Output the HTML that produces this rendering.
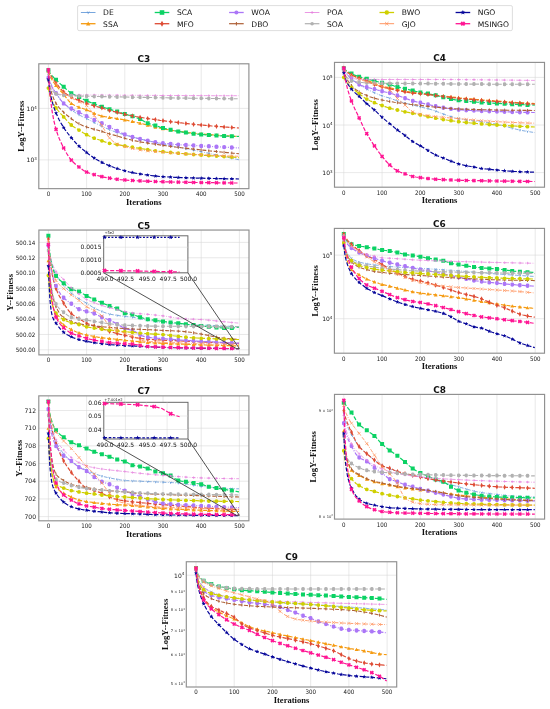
<!DOCTYPE html>
<html lang="en"><head><meta charset="utf-8"><title>Convergence curves C3-C9</title>
<style>html,body{margin:0;padding:0;background:#fff}body{width:550px;height:709px;overflow:hidden}svg{display:block}</style>
</head><body>
<svg width="550" height="709" viewBox="0 0 550 709" font-family='"DejaVu Sans", "Liberation Sans", sans-serif'>
<rect width="550" height="709" fill="#fff"/>
<rect x="77.6" y="5.6" width="434.8" height="25" rx="1.5" fill="#fff" stroke="#d0d0d0" stroke-width="0.7"/>
<path d="M80.9 12.5H95.5" stroke="#5b93d6" stroke-width="0.83" fill="none"/>
<path d="M88.2 12.5v1.6M86.9 11.7l1.3 0.8l1.3 -0.8" stroke="#5b93d6" stroke-width="0.71" fill="none"/>
<text x="103.1" y="15.3" font-size="7.6" fill="#111">DE</text>
<path d="M80.9 23.7H95.5" stroke="#f59b12" stroke-width="1.32" fill="none"/>
<path d="M88.2 21.5l2.2 3.9h-4.4z" fill="#f59b12"/>
<text x="103.1" y="26.5" font-size="7.6" fill="#111">SSA</text>
<path d="M154.7 12.5H169.3" stroke="#0bd264" stroke-width="1.32" fill="none"/>
<path d="M159.7 10.2h4.6v4.6h-4.6z" fill="#0bd264"/>
<text x="176.9" y="15.3" font-size="7.6" fill="#111">SCA</text>
<path d="M154.7 23.7H169.3" stroke="#de4b34" stroke-width="1.32" fill="none"/>
<path d="M162 20.7l1.7 3l-1.7 3l-1.7 -3z" fill="#de4b34"/>
<text x="176.9" y="26.5" font-size="7.6" fill="#111">MFO</text>
<path d="M229.1 12.5H243.7" stroke="#ab76f7" stroke-width="1.32" fill="none"/>
<path d="M234.4 12.5a2 2 0 1 0 4 0a2 2 0 1 0 -4 0z" fill="#ab76f7"/>
<text x="251.3" y="15.3" font-size="7.6" fill="#111">WOA</text>
<path d="M229.1 23.7H243.7" stroke="#ad5f35" stroke-width="1.21" fill="none"/>
<path d="M236.4 22v3.4" stroke="#ad5f35" stroke-width="1.03" fill="none"/>
<text x="251.3" y="26.5" font-size="7.6" fill="#111">DBO</text>
<path d="M304.8 12.5H319.4" stroke="#e682de" stroke-width="0.83" fill="none"/>
<path d="M310.6 12.5h3m-1.5 -1.5v3" stroke="#e682de" stroke-width="0.75" fill="none"/>
<text x="327" y="15.3" font-size="7.6" fill="#111">POA</text>
<path d="M304.8 23.7H319.4" stroke="#b1b1b1" stroke-width="1.21" fill="none"/>
<path d="M310.3 23.7a1.8 1.8 0 1 0 3.6 0a1.8 1.8 0 1 0 -3.6 0z" fill="#b1b1b1"/>
<text x="327" y="26.5" font-size="7.6" fill="#111">SOA</text>
<path d="M379.5 12.5H394.1" stroke="#cfcf00" stroke-width="1.32" fill="none"/>
<path d="M384.6 12.5a2.2 2.2 0 1 0 4.4 0a2.2 2.2 0 1 0 -4.4 0z" fill="#cfcf00"/>
<text x="401.7" y="15.3" font-size="7.6" fill="#111">BWO</text>
<path d="M379.5 23.7H394.1" stroke="#ff8f57" stroke-width="0.94" fill="none"/>
<path d="M385.1 22l3.4 3.4m0 -3.4l-3.4 3.4" stroke="#ff8f57" stroke-width="0.76" fill="none"/>
<text x="401.7" y="26.5" font-size="7.6" fill="#111">GJO</text>
<path d="M455.6 12.5H470.2" stroke="#06069a" stroke-width="1.32" fill="none"/>
<path d="M462.9 10L463.6 11.6L465.3 11.7L464 12.8L464.4 14.5L462.9 13.6L461.4 14.5L461.8 12.8L460.5 11.7L462.2 11.6z" fill="#06069a"/>
<text x="477.8" y="15.3" font-size="7.6" fill="#111">NGO</text>
<path d="M455.6 23.7H470.2" stroke="#ff1493" stroke-width="1.32" fill="none"/>
<path d="M460.5 22.7L461.9 21.3L462.9 22.4L463.9 21.3L465.3 22.7L464.2 23.7L465.3 24.7L463.9 26.1L462.9 25L461.9 26.1L460.5 24.7L461.6 23.7z" fill="#ff1493"/>
<text x="477.8" y="26.5" font-size="7.6" fill="#111">MSINGO</text>
<g>
<clipPath id="clipC3"><rect x="38.8" y="63.8" width="210.1" height="124.85"/></clipPath>
<rect x="38.8" y="63.8" width="210.1" height="124.85" fill="#fff"/>
<path d="M48.4 63.8V188.65M86.6 63.8V188.65M124.8 63.8V188.65M163 63.8V188.65M201.2 63.8V188.65M239.4 63.8V188.65M38.8 108.4H248.9M38.8 159.9H248.9" stroke="#d6d6d6" stroke-width="0.55" fill="none"/>
<g clip-path="url(#clipC3)">
<path d="M48.4 75.4L49.2 78.8L49.9 81.2L50.7 83.2L51.5 85L52.2 86.6L53 88.1L53.7 89.5L54.5 90.8L55.3 92L56 93.2L57.6 95.5L59.1 97.7L60.6 99.8L62.2 101.7L63.7 103.4L65.2 104.9L66.7 106.2L68.3 107.5L69.8 108.8L71.3 109.9L72.8 111L74.4 112L75.9 113L77.4 113.9L79 114.8L80.5 115.6L82 116.4L83.5 117.2L85.1 117.9L86.6 118.6L89.7 120.2L92.7 121.8L95.8 123.3L98.8 124.8L101.9 126.3L104.9 127.7L108 129L111 130.3L114.1 131.5L117.2 132.6L120.2 133.6L123.3 134.5L126.3 135.4L129.4 136.2L132.4 137L135.5 137.8L138.6 138.5L141.6 139.3L144.7 140L147.7 140.7L150.8 141.4L153.8 142.1L156.9 142.8L159.9 143.4L163 144.1L166.1 144.7L169.1 145.4L172.2 146L175.2 146.6L178.3 147.2L181.3 147.8L184.4 148.4L187.4 149L190.5 149.6L193.6 150.2L196.6 150.8L199.7 151.4L202.7 152L205.8 152.7L208.8 153.3L211.9 154L215 154.6L218 155.2L221.1 155.9L224.1 156.6L227.2 157.2L230.2 157.9L233.3 158.5L236.3 159.2L239 159.8" stroke="#5b93d6" stroke-width="0.75" stroke-dasharray="3.8 1.4 0.8 1.4" fill="none"/>
<path d="M48.4 75.4v1.4M47.3 74.7l1.1 0.7l1.1 -0.7M56 93.2v1.4M54.9 92.5l1.1 0.7l1.1 -0.7M63.7 103.4v1.4M62.6 102.7l1.1 0.7l1.1 -0.7M71.3 109.9v1.4M70.2 109.2l1.1 0.7l1.1 -0.7M79 114.8v1.4M77.8 114.1l1.1 0.7l1.1 -0.7M86.6 118.6v1.4M85.5 117.9l1.1 0.7l1.1 -0.7M94.2 122.6v1.4M93.1 121.9l1.1 0.7l1.1 -0.7M101.9 126.3v1.4M100.8 125.6l1.1 0.7l1.1 -0.7M109.5 129.7v1.4M108.4 129l1.1 0.7l1.1 -0.7M117.2 132.6v1.4M116 131.9l1.1 0.7l1.1 -0.7M124.8 134.9v1.4M123.7 134.2l1.1 0.7l1.1 -0.7M132.4 137v1.4M131.3 136.3l1.1 0.7l1.1 -0.7M140.1 138.9v1.4M139 138.2l1.1 0.7l1.1 -0.7M147.7 140.7v1.4M146.6 140l1.1 0.7l1.1 -0.7M155.4 142.4v1.4M154.2 141.7l1.1 0.7l1.1 -0.7M163 144.1v1.4M161.9 143.4l1.1 0.7l1.1 -0.7M170.6 145.7v1.4M169.5 145l1.1 0.7l1.1 -0.7M178.3 147.2v1.4M177.2 146.5l1.1 0.7l1.1 -0.7M185.9 148.7v1.4M184.8 148l1.1 0.7l1.1 -0.7M193.6 150.2v1.4M192.4 149.5l1.1 0.7l1.1 -0.7M201.2 151.7v1.4M200.1 151l1.1 0.7l1.1 -0.7M208.8 153.3v1.4M207.7 152.6l1.1 0.7l1.1 -0.7M216.5 154.9v1.4M215.4 154.2l1.1 0.7l1.1 -0.7M224.1 156.6v1.4M223 155.9l1.1 0.7l1.1 -0.7M231.8 158.2v1.4M230.6 157.5l1.1 0.7l1.1 -0.7" stroke="#5b93d6" stroke-width="0.62" fill="none"/>
<path d="M48.4 71.5L49.2 74L49.9 75.9L50.7 77.5L51.5 78.9L52.2 80.1L53 81.3L53.7 82.5L54.5 83.5L55.3 84.6L56 85.5L57.6 87.4L59.1 89.2L60.6 91L62.2 92.7L63.7 94.5L65.2 96.3L66.7 98.4L68.3 100.3L69.8 102L71.3 103.4L72.8 104.3L74.4 105.2L75.9 105.9L77.4 106.6L79 107.2L80.5 107.7L82 108.2L83.5 108.7L85.1 109.2L86.6 109.7L89.7 111.2L92.7 112.9L95.8 114.1L98.8 115.2L101.9 116.1L104.9 116.7L108 117.1L111 117.6L114.1 118.1L117.2 118.6L120.2 119.1L123.3 119.6L126.3 120.2L129.4 120.8L132.4 121.5L135.5 122.2L138.6 122.9L141.6 123.6L144.7 124.3L147.7 125.2L150.8 126L153.8 126.8L156.9 127.5L159.9 128.2L163 128.8L166.1 129.4L169.1 129.9L172.2 130.4L175.2 130.8L178.3 131.3L181.3 131.7L184.4 132.1L187.4 132.5L190.5 132.8L193.6 133.2L196.6 133.5L199.7 133.8L202.7 134L205.8 134.3L208.8 134.6L211.9 134.8L215 135L218 135.3L221.1 135.5L224.1 135.7L227.2 135.8L230.2 136L233.3 136.2L236.3 136.3L239 136.4" stroke="#f59b12" stroke-width="1.2" stroke-dasharray="4 1.7" fill="none"/>
<path d="M48.4 69.6l1.9 3.4h-3.8zM56 83.6l1.9 3.4h-3.8zM63.7 92.6l1.9 3.4h-3.8zM71.3 101.5l1.9 3.4h-3.8zM79 105.3l1.9 3.4h-3.8zM86.6 107.8l1.9 3.4h-3.8zM94.2 111.6l1.9 3.4h-3.8zM101.9 114.2l1.9 3.4h-3.8zM109.5 115.5l1.9 3.4h-3.8zM117.2 116.7l1.9 3.4h-3.8zM124.8 118l1.9 3.4h-3.8zM132.4 119.6l1.9 3.4h-3.8zM140.1 121.3l1.9 3.4h-3.8zM147.7 123.3l1.9 3.4h-3.8zM155.4 125.3l1.9 3.4h-3.8zM163 126.9l1.9 3.4h-3.8zM170.6 128.2l1.9 3.4h-3.8zM178.3 129.4l1.9 3.4h-3.8zM185.9 130.4l1.9 3.4h-3.8zM193.6 131.3l1.9 3.4h-3.8zM201.2 132l1.9 3.4h-3.8zM208.8 132.7l1.9 3.4h-3.8zM216.5 133.3l1.9 3.4h-3.8zM224.1 133.8l1.9 3.4h-3.8zM231.8 134.2l1.9 3.4h-3.8z" fill="#f59b12"/>
<path d="M48.4 70.3L49.2 71.7L49.9 72.9L50.7 73.9L51.5 74.9L52.2 75.8L53 76.7L53.7 77.5L54.5 78.2L55.3 79L56 79.7L57.6 81.1L59.1 82.6L60.6 84.1L62.2 85.5L63.7 86.8L65.2 88.2L66.7 89.6L68.3 90.9L69.8 92.1L71.3 93.2L72.8 94.1L74.4 94.8L75.9 95.6L77.4 96.3L79 97L80.5 97.8L82 98.6L83.5 99.4L85.1 100.1L86.6 100.8L89.7 102.1L92.7 103.3L95.8 104.5L98.8 105.6L101.9 106.7L104.9 107.7L108 108.7L111 109.7L114.1 110.6L117.2 111.5L120.2 112.5L123.3 113.6L126.3 114.5L129.4 115.4L132.4 116.3L135.5 117.4L138.6 118.5L141.6 119.9L144.7 121.7L147.7 123.2L150.8 124.2L153.8 125.1L156.9 126L159.9 127.1L163 128.1L166.1 128.8L169.1 129.5L172.2 130.2L175.2 130.8L178.3 131.4L181.3 131.9L184.4 132.4L187.4 132.9L190.5 133.3L193.6 133.7L196.6 134L199.7 134.3L202.7 134.5L205.8 134.8L208.8 135L211.9 135.2L215 135.5L218 135.7L221.1 135.8L224.1 136L227.2 136.1L230.2 136.3L233.3 136.3L236.3 136.4L239 136.5" stroke="#0bd264" stroke-width="1.2" stroke-dasharray="4 1.7" fill="none"/>
<path d="M46.4 68.3h4v4h-4zM54 77.7h4v4h-4zM61.7 84.8h4v4h-4zM69.3 91.2h4v4h-4zM77 95h4v4h-4zM84.6 98.8h4v4h-4zM92.2 101.9h4v4h-4zM99.9 104.7h4v4h-4zM107.5 107.2h4v4h-4zM115.2 109.5h4v4h-4zM122.8 112.1h4v4h-4zM130.4 114.3h4v4h-4zM138.1 117.1h4v4h-4zM145.7 121.2h4v4h-4zM153.4 123.5h4v4h-4zM161 126.1h4v4h-4zM168.6 127.8h4v4h-4zM176.3 129.4h4v4h-4zM183.9 130.6h4v4h-4zM191.6 131.7h4v4h-4zM199.2 132.4h4v4h-4zM206.8 133h4v4h-4zM214.5 133.6h4v4h-4zM222.1 134h4v4h-4zM229.8 134.3h4v4h-4z" fill="#0bd264"/>
<path d="M48.4 70.3L49.2 72.4L49.9 74L50.7 75.4L51.5 76.7L52.2 77.9L53 79L53.7 80.1L54.5 81.1L55.3 82.1L56 83L57.6 84.9L59.1 86.9L60.6 88.8L62.2 90.5L63.7 91.9L65.2 93.1L66.7 94.2L68.3 95.2L69.8 96.2L71.3 97L72.8 97.8L74.4 98.4L75.9 99.1L77.4 99.7L79 100.3L80.5 100.9L82 101.6L83.5 102.2L85.1 102.8L86.6 103.4L89.7 104.4L92.7 105.4L95.8 106.3L98.8 107.1L101.9 107.9L104.9 109L108 110L111 110.9L114.1 111.6L117.2 112.3L120.2 113.1L123.3 113.9L126.3 114.6L129.4 115.3L132.4 115.9L135.5 116.5L138.6 117L141.6 117.5L144.7 118L147.7 118.5L150.8 119L153.8 119.4L156.9 119.8L159.9 120.3L163 120.7L166.1 121.1L169.1 121.5L172.2 121.9L175.2 122.2L178.3 122.6L181.3 122.9L184.4 123.3L187.4 123.6L190.5 123.9L193.6 124.3L196.6 124.6L199.7 124.9L202.7 125.1L205.8 125.4L208.8 125.7L211.9 126L215 126.2L218 126.5L221.1 126.7L224.1 127L227.2 127.2L230.2 127.4L233.3 127.6L236.3 127.8L239 128" stroke="#de4b34" stroke-width="1.2" stroke-dasharray="4 1.7" fill="none"/>
<path d="M48.4 67.7l1.4 2.6l-1.4 2.6l-1.4 -2.6zM56 80.4l1.4 2.6l-1.4 2.6l-1.4 -2.6zM63.7 89.3l1.4 2.6l-1.4 2.6l-1.4 -2.6zM71.3 94.4l1.4 2.6l-1.4 2.6l-1.4 -2.6zM79 97.7l1.4 2.6l-1.4 2.6l-1.4 -2.6zM86.6 100.8l1.4 2.6l-1.4 2.6l-1.4 -2.6zM94.2 103.3l1.4 2.6l-1.4 2.6l-1.4 -2.6zM101.9 105.3l1.4 2.6l-1.4 2.6l-1.4 -2.6zM109.5 107.9l1.4 2.6l-1.4 2.6l-1.4 -2.6zM117.2 109.7l1.4 2.6l-1.4 2.6l-1.4 -2.6zM124.8 111.7l1.4 2.6l-1.4 2.6l-1.4 -2.6zM132.4 113.3l1.4 2.6l-1.4 2.6l-1.4 -2.6zM140.1 114.7l1.4 2.6l-1.4 2.6l-1.4 -2.6zM147.7 115.9l1.4 2.6l-1.4 2.6l-1.4 -2.6zM155.4 117l1.4 2.6l-1.4 2.6l-1.4 -2.6zM163 118.1l1.4 2.6l-1.4 2.6l-1.4 -2.6zM170.6 119.1l1.4 2.6l-1.4 2.6l-1.4 -2.6zM178.3 120l1.4 2.6l-1.4 2.6l-1.4 -2.6zM185.9 120.9l1.4 2.6l-1.4 2.6l-1.4 -2.6zM193.6 121.7l1.4 2.6l-1.4 2.6l-1.4 -2.6zM201.2 122.4l1.4 2.6l-1.4 2.6l-1.4 -2.6zM208.8 123.1l1.4 2.6l-1.4 2.6l-1.4 -2.6zM216.5 123.7l1.4 2.6l-1.4 2.6l-1.4 -2.6zM224.1 124.4l1.4 2.6l-1.4 2.6l-1.4 -2.6zM231.8 124.9l1.4 2.6l-1.4 2.6l-1.4 -2.6z" fill="#de4b34"/>
<path d="M48.4 77.9L49.2 80.5L49.9 82.5L50.7 84.2L51.5 85.8L52.2 87.2L53 88.5L53.7 89.8L54.5 91L55.3 92.1L56 93.2L57.6 95.4L59.1 97.7L60.6 99.9L62.2 101.8L63.7 103.4L65.2 104.6L66.7 105.7L68.3 106.7L69.8 107.6L71.3 108.5L72.8 109.3L74.4 110.1L75.9 110.8L77.4 111.5L79 112.3L80.5 113L82 113.8L83.5 114.6L85.1 115.3L86.6 116.1L89.7 117.6L92.7 119.2L95.8 120.6L98.8 121.9L101.9 123.2L104.9 124.7L108 126.3L111 127.8L114.1 129.3L117.2 130.9L120.2 132.4L123.3 133.8L126.3 135L129.4 136L132.4 137L135.5 137.8L138.6 138.6L141.6 139.4L144.7 140.1L147.7 140.8L150.8 141.4L153.8 142L156.9 142.5L159.9 143L163 143.3L166.1 143.6L169.1 143.9L172.2 144.1L175.2 144.4L178.3 144.6L181.3 144.8L184.4 144.9L187.4 145.1L190.5 145.3L193.6 145.4L196.6 145.6L199.7 145.8L202.7 146L205.8 146.1L208.8 146.3L211.9 146.5L215 146.7L218 146.8L221.1 147L224.1 147.1L227.2 147.3L230.2 147.5L233.3 147.6L236.3 147.8L239 147.9" stroke="#ab76f7" stroke-width="1.2" stroke-dasharray="4 1.5 0.9 1.5" fill="none"/>
<path d="M46.6 77.9a1.8 1.8 0 1 0 3.5 0a1.8 1.8 0 1 0 -3.5 0zM54.3 93.2a1.8 1.8 0 1 0 3.5 0a1.8 1.8 0 1 0 -3.5 0zM61.9 103.4a1.8 1.8 0 1 0 3.5 0a1.8 1.8 0 1 0 -3.5 0zM69.6 108.5a1.8 1.8 0 1 0 3.5 0a1.8 1.8 0 1 0 -3.5 0zM77.2 112.3a1.8 1.8 0 1 0 3.5 0a1.8 1.8 0 1 0 -3.5 0zM84.8 116.1a1.8 1.8 0 1 0 3.5 0a1.8 1.8 0 1 0 -3.5 0zM92.5 119.9a1.8 1.8 0 1 0 3.5 0a1.8 1.8 0 1 0 -3.5 0zM100.1 123.2a1.8 1.8 0 1 0 3.5 0a1.8 1.8 0 1 0 -3.5 0zM107.8 127a1.8 1.8 0 1 0 3.5 0a1.8 1.8 0 1 0 -3.5 0zM115.4 130.9a1.8 1.8 0 1 0 3.5 0a1.8 1.8 0 1 0 -3.5 0zM123.1 134.4a1.8 1.8 0 1 0 3.5 0a1.8 1.8 0 1 0 -3.5 0zM130.7 137a1.8 1.8 0 1 0 3.5 0a1.8 1.8 0 1 0 -3.5 0zM138.3 139a1.8 1.8 0 1 0 3.5 0a1.8 1.8 0 1 0 -3.5 0zM146 140.8a1.8 1.8 0 1 0 3.5 0a1.8 1.8 0 1 0 -3.5 0zM153.6 142.3a1.8 1.8 0 1 0 3.5 0a1.8 1.8 0 1 0 -3.5 0zM161.2 143.3a1.8 1.8 0 1 0 3.5 0a1.8 1.8 0 1 0 -3.5 0zM168.9 144a1.8 1.8 0 1 0 3.5 0a1.8 1.8 0 1 0 -3.5 0zM176.5 144.6a1.8 1.8 0 1 0 3.5 0a1.8 1.8 0 1 0 -3.5 0zM184.2 145a1.8 1.8 0 1 0 3.5 0a1.8 1.8 0 1 0 -3.5 0zM191.8 145.4a1.8 1.8 0 1 0 3.5 0a1.8 1.8 0 1 0 -3.5 0zM199.5 145.9a1.8 1.8 0 1 0 3.5 0a1.8 1.8 0 1 0 -3.5 0zM207.1 146.3a1.8 1.8 0 1 0 3.5 0a1.8 1.8 0 1 0 -3.5 0zM214.7 146.7a1.8 1.8 0 1 0 3.5 0a1.8 1.8 0 1 0 -3.5 0zM222.4 147.1a1.8 1.8 0 1 0 3.5 0a1.8 1.8 0 1 0 -3.5 0zM230 147.5a1.8 1.8 0 1 0 3.5 0a1.8 1.8 0 1 0 -3.5 0z" fill="#ab76f7"/>
<path d="M48.4 74.1L49.2 81.3L49.9 86L50.7 89.5L51.5 92.4L52.2 94.8L53 96.9L53.7 98.8L54.5 100.5L55.3 102L56 103.4L57.6 105.7L59.1 107.6L60.6 109.3L62.2 110.8L63.7 112.3L65.2 113.7L66.7 115L68.3 116.3L69.8 117.5L71.3 118.6L72.8 119.8L74.4 120.9L75.9 121.9L77.4 122.9L79 123.7L80.5 124.5L82 125.2L83.5 125.9L85.1 126.5L86.6 127L89.7 128L92.7 128.9L95.8 129.7L98.8 130.5L101.9 131.4L104.9 132.4L108 133.4L111 134.3L114.1 135.1L117.2 135.9L120.2 136.9L123.3 137.8L126.3 138.7L129.4 139.5L132.4 140.3L135.5 140.9L138.6 141.5L141.6 142.1L144.7 142.6L147.7 143.1L150.8 143.6L153.8 144L156.9 144.5L159.9 144.9L163 145.4L166.1 145.8L169.1 146.2L172.2 146.6L175.2 147L178.3 147.3L181.3 147.7L184.4 148.1L187.4 148.4L190.5 148.8L193.6 149.1L196.6 149.4L199.7 149.8L202.7 150.1L205.8 150.4L208.8 150.8L211.9 151.1L215 151.4L218 151.7L221.1 152L224.1 152.3L227.2 152.6L230.2 152.9L233.3 153.2L236.3 153.5L239 153.7" stroke="#ad5f35" stroke-width="1.1" stroke-dasharray="4 1.7" fill="none"/>
<path d="M48.4 72.6v3M56 101.9v3M63.7 110.8v3M71.3 117.1v3M79 122.2v3M86.6 125.5v3M94.2 127.8v3M101.9 129.9v3M109.5 132.4v3M117.2 134.4v3M124.8 136.7v3M132.4 138.8v3M140.1 140.3v3M147.7 141.6v3M155.4 142.8v3M163 143.9v3M170.6 144.9v3M178.3 145.8v3M185.9 146.7v3M193.6 147.6v3M201.2 148.4v3M208.8 149.3v3M216.5 150v3M224.1 150.8v3M231.8 151.5v3" stroke="#ad5f35" stroke-width="0.9" fill="none"/>
<path d="M48.4 72.8L49.2 78.5L49.9 81.9L50.7 84.5L51.5 86.5L52.2 88.1L53 89.5L53.7 90.8L54.5 91.9L55.3 92.7L56 93.2L57.6 93.7L59.1 94.1L60.6 94.4L62.2 94.6L63.7 94.7L65.2 94.7L66.7 94.8L68.3 94.8L69.8 94.8L71.3 94.8L72.8 94.9L74.4 94.9L75.9 94.9L77.4 94.9L79 94.9L80.5 94.9L82 94.9L83.5 94.9L85.1 95L86.6 95L89.7 95L92.7 95L95.8 95L98.8 95.1L101.9 95.1L104.9 95.1L108 95.1L111 95.2L114.1 95.2L117.2 95.2L120.2 95.2L123.3 95.3L126.3 95.3L129.4 95.3L132.4 95.3L135.5 95.3L138.6 95.3L141.6 95.4L144.7 95.4L147.7 95.4L150.8 95.4L153.8 95.4L156.9 95.4L159.9 95.5L163 95.5L166.1 95.5L169.1 95.5L172.2 95.5L175.2 95.5L178.3 95.5L181.3 95.5L184.4 95.6L187.4 95.6L190.5 95.6L193.6 95.6L196.6 95.6L199.7 95.6L202.7 95.6L205.8 95.6L208.8 95.6L211.9 95.7L215 95.7L218 95.7L221.1 95.7L224.1 95.7L227.2 95.7L230.2 95.7L233.3 95.7L236.3 95.7L239 95.7" stroke="#e682de" stroke-width="0.75" stroke-dasharray="3.8 1.4 0.8 1.4" fill="none"/>
<path d="M47.1 72.8h2.6m-1.3 -1.3v2.6M54.7 93.2h2.6m-1.3 -1.3v2.6M62.4 94.7h2.6m-1.3 -1.3v2.6M70 94.8h2.6m-1.3 -1.3v2.6M77.7 94.9h2.6m-1.3 -1.3v2.6M85.3 95h2.6m-1.3 -1.3v2.6M92.9 95h2.6m-1.3 -1.3v2.6M100.6 95.1h2.6m-1.3 -1.3v2.6M108.2 95.2h2.6m-1.3 -1.3v2.6M115.9 95.2h2.6m-1.3 -1.3v2.6M123.5 95.3h2.6m-1.3 -1.3v2.6M131.1 95.3h2.6m-1.3 -1.3v2.6M138.8 95.4h2.6m-1.3 -1.3v2.6M146.4 95.4h2.6m-1.3 -1.3v2.6M154.1 95.4h2.6m-1.3 -1.3v2.6M161.7 95.5h2.6m-1.3 -1.3v2.6M169.3 95.5h2.6m-1.3 -1.3v2.6M177 95.5h2.6m-1.3 -1.3v2.6M184.6 95.6h2.6m-1.3 -1.3v2.6M192.3 95.6h2.6m-1.3 -1.3v2.6M199.9 95.6h2.6m-1.3 -1.3v2.6M207.5 95.6h2.6m-1.3 -1.3v2.6M215.2 95.7h2.6m-1.3 -1.3v2.6M222.8 95.7h2.6m-1.3 -1.3v2.6M230.5 95.7h2.6m-1.3 -1.3v2.6" stroke="#e682de" stroke-width="0.65" fill="none"/>
<path d="M48.4 80.5L49.2 84.3L49.9 86.7L50.7 88.3L51.5 89.6L52.2 90.6L53 91.5L53.7 92.2L54.5 92.9L55.3 93.3L56 93.7L57.6 94.2L59.1 94.6L60.6 94.8L62.2 95.1L63.7 95.2L65.2 95.3L66.7 95.5L68.3 95.6L69.8 95.6L71.3 95.7L72.8 95.8L74.4 95.8L75.9 95.9L77.4 96L79 96L80.5 96.1L82 96.1L83.5 96.1L85.1 96.2L86.6 96.2L89.7 96.3L92.7 96.4L95.8 96.5L98.8 96.5L101.9 96.6L104.9 96.6L108 96.7L111 96.7L114.1 96.8L117.2 96.9L120.2 96.9L123.3 97L126.3 97L129.4 97.1L132.4 97.2L135.5 97.2L138.6 97.3L141.6 97.3L144.7 97.4L147.7 97.5L150.8 97.5L153.8 97.6L156.9 97.7L159.9 97.7L163 97.8L166.1 97.8L169.1 97.9L172.2 97.9L175.2 98L178.3 98L181.3 98.1L184.4 98.1L187.4 98.1L190.5 98.2L193.6 98.2L196.6 98.3L199.7 98.3L202.7 98.4L205.8 98.4L208.8 98.4L211.9 98.5L215 98.5L218 98.5L221.1 98.6L224.1 98.6L227.2 98.6L230.2 98.7L233.3 98.7L236.3 98.7L239 98.8" stroke="#b1b1b1" stroke-width="1.1" stroke-dasharray="4 1.7" fill="none"/>
<path d="M46.9 80.5a1.6 1.6 0 1 0 3.1 0a1.6 1.6 0 1 0 -3.1 0zM54.5 93.7a1.6 1.6 0 1 0 3.1 0a1.6 1.6 0 1 0 -3.1 0zM62.1 95.2a1.6 1.6 0 1 0 3.1 0a1.6 1.6 0 1 0 -3.1 0zM69.8 95.7a1.6 1.6 0 1 0 3.1 0a1.6 1.6 0 1 0 -3.1 0zM77.4 96a1.6 1.6 0 1 0 3.1 0a1.6 1.6 0 1 0 -3.1 0zM85 96.2a1.6 1.6 0 1 0 3.1 0a1.6 1.6 0 1 0 -3.1 0zM92.7 96.4a1.6 1.6 0 1 0 3.1 0a1.6 1.6 0 1 0 -3.1 0zM100.3 96.6a1.6 1.6 0 1 0 3.1 0a1.6 1.6 0 1 0 -3.1 0zM108 96.7a1.6 1.6 0 1 0 3.1 0a1.6 1.6 0 1 0 -3.1 0zM115.6 96.9a1.6 1.6 0 1 0 3.1 0a1.6 1.6 0 1 0 -3.1 0zM123.3 97a1.6 1.6 0 1 0 3.1 0a1.6 1.6 0 1 0 -3.1 0zM130.9 97.2a1.6 1.6 0 1 0 3.1 0a1.6 1.6 0 1 0 -3.1 0zM138.5 97.3a1.6 1.6 0 1 0 3.1 0a1.6 1.6 0 1 0 -3.1 0zM146.2 97.5a1.6 1.6 0 1 0 3.1 0a1.6 1.6 0 1 0 -3.1 0zM153.8 97.6a1.6 1.6 0 1 0 3.1 0a1.6 1.6 0 1 0 -3.1 0zM161.4 97.8a1.6 1.6 0 1 0 3.1 0a1.6 1.6 0 1 0 -3.1 0zM169.1 97.9a1.6 1.6 0 1 0 3.1 0a1.6 1.6 0 1 0 -3.1 0zM176.7 98a1.6 1.6 0 1 0 3.1 0a1.6 1.6 0 1 0 -3.1 0zM184.4 98.1a1.6 1.6 0 1 0 3.1 0a1.6 1.6 0 1 0 -3.1 0zM192 98.2a1.6 1.6 0 1 0 3.1 0a1.6 1.6 0 1 0 -3.1 0zM199.7 98.3a1.6 1.6 0 1 0 3.1 0a1.6 1.6 0 1 0 -3.1 0zM207.3 98.4a1.6 1.6 0 1 0 3.1 0a1.6 1.6 0 1 0 -3.1 0zM214.9 98.5a1.6 1.6 0 1 0 3.1 0a1.6 1.6 0 1 0 -3.1 0zM222.6 98.6a1.6 1.6 0 1 0 3.1 0a1.6 1.6 0 1 0 -3.1 0zM230.2 98.7a1.6 1.6 0 1 0 3.1 0a1.6 1.6 0 1 0 -3.1 0z" fill="#b1b1b1"/>
<path d="M48.4 88.1L49.2 92.4L49.9 95.3L50.7 97.6L51.5 99.5L52.2 101.3L53 102.8L53.7 104.2L54.5 105.6L55.3 106.8L56 107.9L57.6 110L59.1 111.9L60.6 113.6L62.2 115.2L63.7 116.9L65.2 118.6L66.7 120.3L68.3 122.1L69.8 123.6L71.3 125L72.8 126.2L74.4 127.2L75.9 128.2L77.4 129.1L79 130.1L80.5 131.1L82 132L83.5 132.9L85.1 133.8L86.6 134.7L89.7 136.2L92.7 137.6L95.8 138.8L98.8 139.8L101.9 140.8L104.9 141.9L108 142.9L111 143.6L114.1 144.1L117.2 144.6L120.2 145.1L123.3 145.6L126.3 146.1L129.4 146.6L132.4 147.2L135.5 147.7L138.6 148.2L141.6 148.7L144.7 149.2L147.7 149.7L150.8 150.1L153.8 150.6L156.9 151L159.9 151.4L163 151.7L166.1 152.1L169.1 152.4L172.2 152.7L175.2 152.9L178.3 153.2L181.3 153.5L184.4 153.7L187.4 154L190.5 154.2L193.6 154.5L196.6 154.7L199.7 154.9L202.7 155.2L205.8 155.4L208.8 155.6L211.9 155.8L215 156L218 156.2L221.1 156.4L224.1 156.6L227.2 156.8L230.2 157L233.3 157.2L236.3 157.4L239 157.6" stroke="#cfcf00" stroke-width="1.2" stroke-dasharray="4 1.7" fill="none"/>
<path d="M46.5 88.1a1.9 1.9 0 1 0 3.8 0a1.9 1.9 0 1 0 -3.8 0zM54.1 107.9a1.9 1.9 0 1 0 3.8 0a1.9 1.9 0 1 0 -3.8 0zM61.8 116.9a1.9 1.9 0 1 0 3.8 0a1.9 1.9 0 1 0 -3.8 0zM69.4 125a1.9 1.9 0 1 0 3.8 0a1.9 1.9 0 1 0 -3.8 0zM77.1 130.1a1.9 1.9 0 1 0 3.8 0a1.9 1.9 0 1 0 -3.8 0zM84.7 134.7a1.9 1.9 0 1 0 3.8 0a1.9 1.9 0 1 0 -3.8 0zM92.3 138.2a1.9 1.9 0 1 0 3.8 0a1.9 1.9 0 1 0 -3.8 0zM100 140.8a1.9 1.9 0 1 0 3.8 0a1.9 1.9 0 1 0 -3.8 0zM107.6 143.3a1.9 1.9 0 1 0 3.8 0a1.9 1.9 0 1 0 -3.8 0zM115.3 144.6a1.9 1.9 0 1 0 3.8 0a1.9 1.9 0 1 0 -3.8 0zM122.9 145.9a1.9 1.9 0 1 0 3.8 0a1.9 1.9 0 1 0 -3.8 0zM130.5 147.2a1.9 1.9 0 1 0 3.8 0a1.9 1.9 0 1 0 -3.8 0zM138.2 148.5a1.9 1.9 0 1 0 3.8 0a1.9 1.9 0 1 0 -3.8 0zM145.8 149.7a1.9 1.9 0 1 0 3.8 0a1.9 1.9 0 1 0 -3.8 0zM153.5 150.8a1.9 1.9 0 1 0 3.8 0a1.9 1.9 0 1 0 -3.8 0zM161.1 151.7a1.9 1.9 0 1 0 3.8 0a1.9 1.9 0 1 0 -3.8 0zM168.7 152.5a1.9 1.9 0 1 0 3.8 0a1.9 1.9 0 1 0 -3.8 0zM176.4 153.2a1.9 1.9 0 1 0 3.8 0a1.9 1.9 0 1 0 -3.8 0zM184 153.9a1.9 1.9 0 1 0 3.8 0a1.9 1.9 0 1 0 -3.8 0zM191.7 154.5a1.9 1.9 0 1 0 3.8 0a1.9 1.9 0 1 0 -3.8 0zM199.3 155a1.9 1.9 0 1 0 3.8 0a1.9 1.9 0 1 0 -3.8 0zM206.9 155.6a1.9 1.9 0 1 0 3.8 0a1.9 1.9 0 1 0 -3.8 0zM214.6 156.1a1.9 1.9 0 1 0 3.8 0a1.9 1.9 0 1 0 -3.8 0zM222.2 156.6a1.9 1.9 0 1 0 3.8 0a1.9 1.9 0 1 0 -3.8 0zM229.9 157.1a1.9 1.9 0 1 0 3.8 0a1.9 1.9 0 1 0 -3.8 0z" fill="#cfcf00"/>
<path d="M48.4 70.3L49.2 72.5L49.9 74.2L50.7 75.7L51.5 77L52.2 78.2L53 79.4L53.7 80.5L54.5 81.5L55.3 82.5L56 83.5L57.6 85.5L59.1 87.5L60.6 89.5L62.2 91.2L63.7 92.7L65.2 93.9L66.7 95L68.3 95.9L69.8 96.9L71.3 97.8L72.8 98.6L74.4 99.5L75.9 100.3L77.4 101.1L79 101.8L80.5 102.5L82 103.1L83.5 103.7L85.1 104.5L86.6 105.4L89.7 108.8L92.7 113.4L95.8 117.5L98.8 121.4L101.9 125.5L104.9 130.7L108 136L111 139.6L114.1 142.2L117.2 144.1L120.2 145.3L123.3 146.2L126.3 147L129.4 147.8L132.4 148.5L135.5 149.2L138.6 149.7L141.6 150.2L144.7 150.5L147.7 150.9L150.8 151.2L153.8 151.5L156.9 151.7L159.9 152L163 152.2L166.1 152.5L169.1 152.7L172.2 153L175.2 153.2L178.3 153.4L181.3 153.6L184.4 153.8L187.4 154L190.5 154.2L193.6 154.4L196.6 154.5L199.7 154.7L202.7 154.9L205.8 155L208.8 155.1L211.9 155.3L215 155.4L218 155.6L221.1 155.7L224.1 155.8L227.2 155.9L230.2 156L233.3 156.1L236.3 156.2L239 156.3" stroke="#ff8f57" stroke-width="0.85" stroke-dasharray="3.8 1.4 0.8 1.4" fill="none"/>
<path d="M46.9 68.8l3 3m0 -3l-3 3M54.5 82l3 3m0 -3l-3 3M62.2 91.2l3 3m0 -3l-3 3M69.8 96.3l3 3m0 -3l-3 3M77.5 100.3l3 3m0 -3l-3 3M85.1 103.9l3 3m0 -3l-3 3M92.7 114.1l3 3m0 -3l-3 3M100.4 124l3 3m0 -3l-3 3M108 136.5l3 3m0 -3l-3 3M115.7 142.6l3 3m0 -3l-3 3M123.3 145.1l3 3m0 -3l-3 3M130.9 147l3 3m0 -3l-3 3M138.6 148.4l3 3m0 -3l-3 3M146.2 149.4l3 3m0 -3l-3 3M153.9 150.1l3 3m0 -3l-3 3M161.5 150.7l3 3m0 -3l-3 3M169.1 151.3l3 3m0 -3l-3 3M176.8 151.9l3 3m0 -3l-3 3M184.4 152.4l3 3m0 -3l-3 3M192.1 152.9l3 3m0 -3l-3 3M199.7 153.3l3 3m0 -3l-3 3M207.3 153.6l3 3m0 -3l-3 3M215 154l3 3m0 -3l-3 3M222.6 154.3l3 3m0 -3l-3 3M230.3 154.6l3 3m0 -3l-3 3" stroke="#ff8f57" stroke-width="0.66" fill="none"/>
<path d="M48.4 79.2L49.2 86.7L49.9 91.6L50.7 95.6L51.5 98.9L52.2 101.8L53 104.4L53.7 106.8L54.5 109.1L55.3 111.1L56 113L57.6 116.5L59.1 119.7L60.6 122.5L62.2 125.1L63.7 127.5L65.2 129.8L66.7 131.9L68.3 134L69.8 135.9L71.3 137.7L72.8 139.5L74.4 141.3L75.9 143L77.4 144.6L79 146.1L80.5 147.5L82 148.8L83.5 150.1L85.1 151.3L86.6 152.5L89.7 154.9L92.7 157.1L95.8 159L98.8 160.8L101.9 162.4L104.9 163.8L108 165.1L111 166.3L114.1 167.5L117.2 168.5L120.2 169.5L123.3 170.4L126.3 171.2L129.4 172L132.4 172.6L135.5 173.2L138.6 173.7L141.6 174.2L144.7 174.7L147.7 175.1L150.8 175.5L153.8 175.9L156.9 176.2L159.9 176.5L163 176.7L166.1 176.9L169.1 177L172.2 177.2L175.2 177.3L178.3 177.5L181.3 177.6L184.4 177.7L187.4 177.8L190.5 177.9L193.6 178L196.6 178.1L199.7 178.2L202.7 178.2L205.8 178.3L208.8 178.4L211.9 178.5L215 178.5L218 178.6L221.1 178.7L224.1 178.7L227.2 178.8L230.2 178.8L233.3 178.9L236.3 178.9L239 179" stroke="#06069a" stroke-width="1.2" stroke-dasharray="4 1.7" fill="none"/>
<path d="M48.4 77L49 78.4L50.4 78.5L49.3 79.5L49.7 80.9L48.4 80.1L47.1 80.9L47.5 79.5L46.4 78.5L47.8 78.4zM56 110.9L56.6 112.3L58.1 112.4L57 113.3L57.3 114.8L56 114L54.8 114.8L55.1 113.3L54 112.4L55.5 112.3zM63.7 125.4L64.2 126.8L65.7 126.9L64.6 127.8L64.9 129.3L63.7 128.5L62.4 129.3L62.8 127.8L61.6 126.9L63.1 126.8zM71.3 135.6L71.9 136.9L73.4 137.1L72.2 138L72.6 139.5L71.3 138.7L70.1 139.5L70.4 138L69.3 137.1L70.8 136.9zM79 144L79.5 145.3L81 145.5L79.9 146.4L80.2 147.9L79 147.1L77.7 147.9L78 146.4L76.9 145.5L78.4 145.3zM86.6 150.3L87.2 151.7L88.6 151.8L87.5 152.8L87.9 154.2L86.6 153.5L85.3 154.2L85.7 152.8L84.6 151.8L86 151.7zM94.2 155.9L94.8 157.3L96.3 157.4L95.2 158.4L95.5 159.8L94.2 159.1L93 159.8L93.3 158.4L92.2 157.4L93.7 157.3zM101.9 160.3L102.4 161.6L103.9 161.8L102.8 162.7L103.1 164.2L101.9 163.4L100.6 164.2L101 162.7L99.8 161.8L101.3 161.6zM109.5 163.6L110.1 164.9L111.6 165.1L110.4 166L110.8 167.5L109.5 166.7L108.3 167.5L108.6 166L107.5 165.1L109 164.9zM117.2 166.4L117.7 167.7L119.2 167.9L118.1 168.8L118.4 170.3L117.2 169.5L115.9 170.3L116.2 168.8L115.1 167.9L116.6 167.7zM124.8 168.7L125.4 170L126.8 170.2L125.7 171.1L126.1 172.6L124.8 171.8L123.5 172.6L123.9 171.1L122.8 170.2L124.2 170zM132.4 170.5L133 171.8L134.5 171.9L133.4 172.9L133.7 174.3L132.4 173.6L131.2 174.3L131.5 172.9L130.4 171.9L131.9 171.8zM140.1 171.8L140.6 173.2L142.1 173.3L141 174.2L141.3 175.7L140.1 174.9L138.8 175.7L139.2 174.2L138 173.3L139.5 173.2zM147.7 173L148.3 174.3L149.8 174.4L148.6 175.4L149 176.8L147.7 176.1L146.5 176.8L146.8 175.4L145.7 174.4L147.2 174.3zM155.4 173.9L155.9 175.2L157.4 175.4L156.3 176.3L156.6 177.8L155.4 177L154.1 177.8L154.4 176.3L153.3 175.4L154.8 175.2zM163 174.5L163.6 175.9L165 176L163.9 177L164.3 178.4L163 177.6L161.7 178.4L162.1 177L161 176L162.4 175.9zM170.6 175L171.2 176.3L172.7 176.4L171.6 177.4L171.9 178.9L170.6 178.1L169.4 178.9L169.7 177.4L168.6 176.4L170.1 176.3zM178.3 175.3L178.8 176.7L180.3 176.8L179.2 177.8L179.5 179.2L178.3 178.4L177 179.2L177.4 177.8L176.2 176.8L177.7 176.7zM185.9 175.6L186.5 177L188 177.1L186.8 178L187.2 179.5L185.9 178.7L184.7 179.5L185 178L183.9 177.1L185.4 177zM193.6 175.8L194.1 177.2L195.6 177.3L194.5 178.3L194.8 179.7L193.6 179L192.3 179.7L192.6 178.3L191.5 177.3L193 177.2zM201.2 176L201.8 177.4L203.2 177.5L202.1 178.5L202.5 179.9L201.2 179.2L199.9 179.9L200.3 178.5L199.2 177.5L200.6 177.4zM208.8 176.2L209.4 177.6L210.9 177.7L209.8 178.7L210.1 180.1L208.8 179.4L207.6 180.1L207.9 178.7L206.8 177.7L208.3 177.6zM216.5 176.4L217 177.8L218.5 177.9L217.4 178.9L217.7 180.3L216.5 179.5L215.2 180.3L215.6 178.9L214.4 177.9L215.9 177.8zM224.1 176.6L224.7 177.9L226.2 178.1L225 179L225.4 180.5L224.1 179.7L222.9 180.5L223.2 179L222.1 178.1L223.6 177.9zM231.8 176.7L232.3 178.1L233.8 178.2L232.7 179.2L233 180.6L231.8 179.8L230.5 180.6L230.8 179.2L229.7 178.2L231.2 178.1z" fill="#06069a"/>
<path d="M48.4 69.8L49.2 84.4L49.9 93.8L50.7 100.9L51.5 106.8L52.2 111.8L53 116.1L53.7 120L54.5 123.4L55.3 126.5L56 129.3L57.6 134.2L59.1 138.2L60.6 141.7L62.2 144.9L63.7 147.9L65.2 150.8L66.7 153.5L68.3 156L69.8 158.2L71.3 160.1L72.8 161.8L74.4 163.2L75.9 164.6L77.4 165.8L79 167L80.5 168.2L82 169.3L83.5 170.4L85.1 171.3L86.6 172.1L89.7 173.3L92.7 174.2L95.8 175.1L98.8 175.9L101.9 176.7L104.9 177.3L108 177.9L111 178.4L114.1 178.9L117.2 179.2L120.2 179.6L123.3 179.9L126.3 180.1L129.4 180.3L132.4 180.5L135.5 180.7L138.6 180.8L141.6 181L144.7 181.1L147.7 181.2L150.8 181.4L153.8 181.5L156.9 181.6L159.9 181.7L163 181.8L166.1 181.8L169.1 181.9L172.2 182L175.2 182.1L178.3 182.1L181.3 182.2L184.4 182.2L187.4 182.3L190.5 182.4L193.6 182.4L196.6 182.5L199.7 182.5L202.7 182.6L205.8 182.6L208.8 182.6L211.9 182.7L215 182.7L218 182.8L221.1 182.8L224.1 182.9L227.2 182.9L230.2 182.9L233.3 183L236.3 183L239 183" stroke="#ff1493" stroke-width="1.2" stroke-dasharray="4 1.7" fill="none"/>
<path d="M46.4 68.9L47.5 67.7L48.4 68.6L49.3 67.7L50.4 68.9L49.5 69.8L50.4 70.7L49.3 71.8L48.4 70.9L47.5 71.8L46.4 70.7L47.3 69.8zM54 128.4L55.1 127.3L56 128.2L56.9 127.3L58.1 128.4L57.2 129.3L58.1 130.2L56.9 131.4L56 130.5L55.1 131.4L54 130.2L54.9 129.3zM61.6 147L62.8 145.9L63.7 146.8L64.6 145.9L65.7 147L64.8 147.9L65.7 148.8L64.6 150L63.7 149.1L62.8 150L61.6 148.8L62.5 147.9zM69.3 159.2L70.4 158.1L71.3 159L72.2 158.1L73.4 159.2L72.5 160.1L73.4 161L72.2 162.2L71.3 161.3L70.4 162.2L69.3 161L70.2 160.1zM76.9 166.1L78.1 164.9L79 165.9L79.9 164.9L81 166.1L80.1 167L81 167.9L79.9 169.1L79 168.1L78.1 169.1L76.9 167.9L77.8 167zM84.5 171.2L85.7 170L86.6 170.9L87.5 170L88.6 171.2L87.7 172.1L88.6 173L87.5 174.1L86.6 173.2L85.7 174.1L84.5 173L85.5 172.1zM92.2 173.7L93.3 172.6L94.2 173.5L95.1 172.6L96.3 173.7L95.4 174.6L96.3 175.5L95.1 176.7L94.2 175.8L93.3 176.7L92.2 175.5L93.1 174.6zM99.8 175.8L101 174.6L101.9 175.5L102.8 174.6L103.9 175.8L103 176.7L103.9 177.6L102.8 178.7L101.9 177.8L101 178.7L99.8 177.6L100.7 176.7zM107.5 177.3L108.6 176.1L109.5 177.1L110.4 176.1L111.6 177.3L110.7 178.2L111.6 179.1L110.4 180.2L109.5 179.3L108.6 180.2L107.5 179.1L108.4 178.2zM115.1 178.3L116.3 177.2L117.2 178.1L118.1 177.2L119.2 178.3L118.3 179.2L119.2 180.1L118.1 181.3L117.2 180.4L116.3 181.3L115.1 180.1L116 179.2zM122.8 179.1L123.9 177.9L124.8 178.8L125.7 177.9L126.9 179.1L125.9 180L126.9 180.9L125.7 182L124.8 181.1L123.9 182L122.8 180.9L123.7 180zM130.4 179.6L131.5 178.4L132.4 179.3L133.3 178.4L134.5 179.6L133.6 180.5L134.5 181.4L133.3 182.5L132.4 181.6L131.5 182.5L130.4 181.4L131.3 180.5zM138 180L139.2 178.8L140.1 179.8L141 178.8L142.1 180L141.2 180.9L142.1 181.8L141 182.9L140.1 182L139.2 182.9L138 181.8L138.9 180.9zM145.7 180.3L146.8 179.2L147.7 180.1L148.6 179.2L149.8 180.3L148.9 181.2L149.8 182.1L148.6 183.3L147.7 182.4L146.8 183.3L145.7 182.1L146.6 181.2zM153.3 180.6L154.5 179.5L155.4 180.4L156.3 179.5L157.4 180.6L156.5 181.5L157.4 182.4L156.3 183.6L155.4 182.7L154.5 183.6L153.3 182.4L154.2 181.5zM160.9 180.9L162.1 179.7L163 180.6L163.9 179.7L165.1 180.9L164.1 181.8L165.1 182.7L163.9 183.8L163 182.9L162.1 183.8L160.9 182.7L161.9 181.8zM168.6 181.1L169.7 179.9L170.6 180.8L171.5 179.9L172.7 181.1L171.8 182L172.7 182.9L171.5 184L170.6 183.1L169.7 184L168.6 182.9L169.5 182zM176.2 181.2L177.4 180.1L178.3 181L179.2 180.1L180.3 181.2L179.4 182.1L180.3 183L179.2 184.2L178.3 183.3L177.4 184.2L176.2 183L177.1 182.1zM183.9 181.4L185 180.2L185.9 181.1L186.8 180.2L188 181.4L187.1 182.3L188 183.2L186.8 184.3L185.9 183.4L185 184.3L183.9 183.2L184.8 182.3zM191.5 181.5L192.7 180.4L193.6 181.3L194.5 180.4L195.6 181.5L194.7 182.4L195.6 183.3L194.5 184.5L193.6 183.6L192.7 184.5L191.5 183.3L192.4 182.4zM199.2 181.6L200.3 180.5L201.2 181.4L202.1 180.5L203.3 181.6L202.3 182.5L203.3 183.4L202.1 184.6L201.2 183.7L200.3 184.6L199.2 183.4L200.1 182.5zM206.8 181.7L207.9 180.6L208.8 181.5L209.7 180.6L210.9 181.7L210 182.6L210.9 183.5L209.7 184.7L208.8 183.8L207.9 184.7L206.8 183.5L207.7 182.6zM214.4 181.9L215.6 180.7L216.5 181.6L217.4 180.7L218.5 181.9L217.6 182.8L218.5 183.7L217.4 184.8L216.5 183.9L215.6 184.8L214.4 183.7L215.3 182.8zM222.1 182L223.2 180.8L224.1 181.7L225 180.8L226.2 182L225.3 182.9L226.2 183.8L225 184.9L224.1 184L223.2 184.9L222.1 183.8L223 182.9zM229.7 182L230.9 180.9L231.8 181.8L232.7 180.9L233.8 182L232.9 183L233.8 183.9L232.7 185L231.8 184.1L230.9 185L229.7 183.9L230.6 183z" fill="#ff1493"/>
</g>
<rect x="38.8" y="63.8" width="210.1" height="124.85" fill="none" stroke="#8f8f8f" stroke-width="1.15"/>
<text transform="translate(48.4 196.05) scale(.89 1)" font-size="6.2" text-anchor="middle" fill="#151515">0</text>
<text transform="translate(86.6 196.05) scale(.89 1)" font-size="6.2" text-anchor="middle" fill="#151515">100</text>
<text transform="translate(124.8 196.05) scale(.89 1)" font-size="6.2" text-anchor="middle" fill="#151515">200</text>
<text transform="translate(163 196.05) scale(.89 1)" font-size="6.2" text-anchor="middle" fill="#151515">300</text>
<text transform="translate(201.2 196.05) scale(.89 1)" font-size="6.2" text-anchor="middle" fill="#151515">400</text>
<text transform="translate(239.4 196.05) scale(.89 1)" font-size="6.2" text-anchor="middle" fill="#151515">500</text>
<text x="36.8" y="110.9" font-size="6" text-anchor="end" fill="#151515">10<tspan dy="-2.3" font-size="4">4</tspan></text>
<text x="36.8" y="162.4" font-size="6" text-anchor="end" fill="#151515">10<tspan dy="-2.3" font-size="4">3</tspan></text>
<text x="143.85" y="62.3" font-size="8.9" font-weight="bold" text-anchor="middle" fill="#111">C3</text>
<text transform="translate(143.85 204.55) scale(.93 1)" font-family='"Liberation Serif", "DejaVu Serif", serif' font-size="9.2" font-weight="bold" text-anchor="middle" fill="#111">Iterations</text>
<text transform="translate(23.7 126.22) rotate(-90)" font-family='"Liberation Serif", "DejaVu Serif", serif' font-size="8.6" font-weight="bold" text-anchor="middle" fill="#111">LogY--Fitness</text>
</g>
<g>
<clipPath id="clipC4"><rect x="334.5" y="62.4" width="210" height="124.8"/></clipPath>
<rect x="334.5" y="62.4" width="210" height="124.8" fill="#fff"/>
<path d="M343.8 62.4V187.2M382.08 62.4V187.2M420.36 62.4V187.2M458.64 62.4V187.2M496.92 62.4V187.2M535.2 62.4V187.2M334.5 77.4H544.5M334.5 125H544.5M334.5 172.6H544.5" stroke="#d6d6d6" stroke-width="0.55" fill="none"/>
<g clip-path="url(#clipC4)">
<path d="M343.8 69.1L344.6 71.1L345.3 72.4L346.1 73.6L346.9 74.6L347.6 75.5L348.4 76.3L349.2 77L349.9 77.8L350.7 78.4L351.5 79.1L353 80.3L354.5 81.4L356 82.5L357.6 83.6L359.1 84.5L360.6 85.5L362.2 86.5L363.7 87.4L365.2 88.3L366.8 89.1L368.3 89.9L369.8 90.6L371.4 91.4L372.9 92.1L374.4 92.7L376 93.4L377.5 94L379 94.7L380.5 95.3L382.1 95.8L385.1 96.8L388.2 97.7L391.3 98.7L394.3 99.8L397.4 100.9L400.5 101.8L403.5 102.7L406.6 103.5L409.6 104.3L412.7 105.1L415.8 105.8L418.8 106.5L421.9 107.3L425 108L428 108.7L431.1 109.6L434.1 110.6L437.2 111.7L440.3 112.9L443.3 114L446.4 115.1L449.5 116.1L452.5 117.1L455.6 117.9L458.6 118.6L461.7 119.2L464.8 119.7L467.8 120.2L470.9 120.6L474 121L477 121.4L480.1 121.8L483.1 122.1L486.2 122.5L489.3 123L492.3 123.4L495.4 124L498.5 124.5L501.5 125.3L504.6 126.1L507.6 126.9L510.7 127.8L513.8 128.6L516.8 129.4L519.9 130.1L523 130.7L526 131.2L529.1 131.7L532.1 132.2L534.8 132.6" stroke="#5b93d6" stroke-width="0.75" stroke-dasharray="3.8 1.4 0.8 1.4" fill="none"/>
<path d="M343.8 69.1v1.4M342.7 68.4l1.1 0.7l1.1 -0.7M351.5 79.1v1.4M350.3 78.4l1.1 0.7l1.1 -0.7M359.1 84.5v1.4M358 83.8l1.1 0.7l1.1 -0.7M366.8 89.1v1.4M365.6 88.4l1.1 0.7l1.1 -0.7M374.4 92.7v1.4M373.3 92l1.1 0.7l1.1 -0.7M382.1 95.8v1.4M381 95.1l1.1 0.7l1.1 -0.7M389.7 98.2v1.4M388.6 97.5l1.1 0.7l1.1 -0.7M397.4 100.9v1.4M396.3 100.2l1.1 0.7l1.1 -0.7M405 103.1v1.4M403.9 102.4l1.1 0.7l1.1 -0.7M412.7 105.1v1.4M411.6 104.4l1.1 0.7l1.1 -0.7M420.4 106.9v1.4M419.2 106.2l1.1 0.7l1.1 -0.7M428 108.7v1.4M426.9 108l1.1 0.7l1.1 -0.7M435.7 111.2v1.4M434.6 110.5l1.1 0.7l1.1 -0.7M443.3 114v1.4M442.2 113.3l1.1 0.7l1.1 -0.7M451 116.6v1.4M449.9 115.9l1.1 0.7l1.1 -0.7M458.6 118.6v1.4M457.5 117.9l1.1 0.7l1.1 -0.7M466.3 120v1.4M465.2 119.3l1.1 0.7l1.1 -0.7M474 121v1.4M472.8 120.3l1.1 0.7l1.1 -0.7M481.6 122v1.4M480.5 121.3l1.1 0.7l1.1 -0.7M489.3 123v1.4M488.1 122.3l1.1 0.7l1.1 -0.7M496.9 124.2v1.4M495.8 123.5l1.1 0.7l1.1 -0.7M504.6 126.1v1.4M503.5 125.4l1.1 0.7l1.1 -0.7M512.2 128.2v1.4M511.1 127.5l1.1 0.7l1.1 -0.7M519.9 130.1v1.4M518.8 129.4l1.1 0.7l1.1 -0.7M527.5 131.5v1.4M526.4 130.8l1.1 0.7l1.1 -0.7" stroke="#5b93d6" stroke-width="0.62" fill="none"/>
<path d="M343.8 68.2L344.6 69.5L345.3 70.4L346.1 71.1L346.9 71.8L347.6 72.3L348.4 72.8L349.2 73.3L349.9 73.7L350.7 74.2L351.5 74.5L353 75.3L354.5 75.9L356 76.5L357.6 77.1L359.1 77.6L360.6 78.1L362.2 78.6L363.7 79L365.2 79.5L366.8 80L368.3 80.6L369.8 81.3L371.4 82L372.9 82.6L374.4 83.3L376 83.9L377.5 84.5L379 85L380.5 85.5L382.1 86L385.1 86.8L388.2 87.5L391.3 88.2L394.3 88.9L397.4 89.6L400.5 90.3L403.5 90.8L406.6 91.4L409.6 91.9L412.7 92.4L415.8 92.7L418.8 93.1L421.9 93.5L425 93.8L428 94.2L431.1 94.6L434.1 94.9L437.2 95.3L440.3 95.7L443.3 96.1L446.4 96.4L449.5 96.8L452.5 97.1L455.6 97.4L458.6 97.8L461.7 98.1L464.8 98.4L467.8 98.7L470.9 98.9L474 99.2L477 99.5L480.1 99.7L483.1 100L486.2 100.2L489.3 100.5L492.3 100.7L495.4 101L498.5 101.2L501.5 101.4L504.6 101.6L507.6 101.8L510.7 102.1L513.8 102.3L516.8 102.5L519.9 102.7L523 102.9L526 103.1L529.1 103.3L532.1 103.4L534.8 103.6" stroke="#f59b12" stroke-width="1.2" stroke-dasharray="4 1.7" fill="none"/>
<path d="M343.8 66.3l1.9 3.4h-3.8zM351.5 72.6l1.9 3.4h-3.8zM359.1 75.7l1.9 3.4h-3.8zM366.8 78.1l1.9 3.4h-3.8zM374.4 81.4l1.9 3.4h-3.8zM382.1 84.1l1.9 3.4h-3.8zM389.7 85.9l1.9 3.4h-3.8zM397.4 87.7l1.9 3.4h-3.8zM405 89.2l1.9 3.4h-3.8zM412.7 90.5l1.9 3.4h-3.8zM420.4 91.4l1.9 3.4h-3.8zM428 92.3l1.9 3.4h-3.8zM435.7 93.2l1.9 3.4h-3.8zM443.3 94.2l1.9 3.4h-3.8zM451 95l1.9 3.4h-3.8zM458.6 95.9l1.9 3.4h-3.8zM466.3 96.6l1.9 3.4h-3.8zM474 97.3l1.9 3.4h-3.8zM481.6 98l1.9 3.4h-3.8zM489.3 98.6l1.9 3.4h-3.8zM496.9 99.2l1.9 3.4h-3.8zM504.6 99.7l1.9 3.4h-3.8zM512.2 100.3l1.9 3.4h-3.8zM519.9 100.8l1.9 3.4h-3.8zM527.5 101.3l1.9 3.4h-3.8z" fill="#f59b12"/>
<path d="M343.8 68.2L344.6 69.2L345.3 70L346.1 70.6L346.9 71.1L347.6 71.6L348.4 72.1L349.2 72.5L349.9 72.9L350.7 73.3L351.5 73.6L353 74.3L354.5 75L356 75.6L357.6 76.2L359.1 76.7L360.6 77.2L362.2 77.6L363.7 78L365.2 78.3L366.8 78.7L368.3 79.2L369.8 79.6L371.4 80.1L372.9 80.5L374.4 80.9L376 81.3L377.5 81.7L379 82L380.5 82.4L382.1 82.7L385.1 83.4L388.2 84.2L391.3 85L394.3 86L397.4 86.9L400.5 87.7L403.5 88.4L406.6 89.1L409.6 89.8L412.7 90.5L415.8 91.3L418.8 92L421.9 92.6L425 93.1L428 93.6L431.1 94.3L434.1 95L437.2 95.7L440.3 96.5L443.3 97.3L446.4 98L449.5 98.7L452.5 99.3L455.6 99.9L458.6 100.3L461.7 100.7L464.8 101L467.8 101.3L470.9 101.6L474 101.8L477 102.1L480.1 102.3L483.1 102.5L486.2 102.7L489.3 102.9L492.3 103.1L495.4 103.3L498.5 103.5L501.5 103.6L504.6 103.8L507.6 104L510.7 104.1L513.8 104.3L516.8 104.4L519.9 104.6L523 104.7L526 104.8L529.1 104.9L532.1 105L534.8 105.1" stroke="#0bd264" stroke-width="1.2" stroke-dasharray="4 1.7" fill="none"/>
<path d="M341.8 66.2h4v4h-4zM349.5 71.6h4v4h-4zM357.1 74.7h4v4h-4zM364.8 76.7h4v4h-4zM372.4 78.9h4v4h-4zM380.1 80.7h4v4h-4zM387.7 82.5h4v4h-4zM395.4 84.9h4v4h-4zM403 86.7h4v4h-4zM410.7 88.5h4v4h-4zM418.4 90.4h4v4h-4zM426 91.6h4v4h-4zM433.7 93.3h4v4h-4zM441.3 95.3h4v4h-4zM449 97h4v4h-4zM456.6 98.3h4v4h-4zM464.3 99.1h4v4h-4zM472 99.8h4v4h-4zM479.6 100.4h4v4h-4zM487.3 100.9h4v4h-4zM494.9 101.4h4v4h-4zM502.6 101.8h4v4h-4zM510.2 102.2h4v4h-4zM517.9 102.6h4v4h-4zM525.5 102.9h4v4h-4z" fill="#0bd264"/>
<path d="M343.8 68.2L344.6 69.6L345.3 70.5L346.1 71.3L346.9 72L347.6 72.6L348.4 73.1L349.2 73.6L349.9 74.1L350.7 74.5L351.5 74.9L353 75.7L354.5 76.3L356 77L357.6 77.6L359.1 78.2L360.6 78.7L362.2 79.3L363.7 79.8L365.2 80.3L366.8 80.9L368.3 81.6L369.8 82.4L371.4 83.2L372.9 83.9L374.4 84.5L376 85.1L377.5 85.6L379 86.1L380.5 86.5L382.1 86.9L385.1 87.7L388.2 88.4L391.3 89.1L394.3 89.9L397.4 90.5L400.5 91.1L403.5 91.6L406.6 92.1L409.6 92.7L412.7 93.1L415.8 93.3L418.8 93.5L421.9 93.8L425 94.2L428 94.5L431.1 94.9L434.1 95.3L437.2 95.7L440.3 96.1L443.3 96.5L446.4 96.9L449.5 97.2L452.5 97.6L455.6 97.9L458.6 98.3L461.7 98.6L464.8 98.9L467.8 99.2L470.9 99.4L474 99.7L477 100L480.1 100.2L483.1 100.5L486.2 100.8L489.3 101L492.3 101.2L495.4 101.5L498.5 101.7L501.5 101.9L504.6 102.1L507.6 102.4L510.7 102.6L513.8 102.8L516.8 103L519.9 103.2L523 103.4L526 103.6L529.1 103.8L532.1 103.9L534.8 104.1" stroke="#de4b34" stroke-width="1.2" stroke-dasharray="4 1.7" fill="none"/>
<path d="M343.8 65.6l1.4 2.6l-1.4 2.6l-1.4 -2.6zM351.5 72.3l1.4 2.6l-1.4 2.6l-1.4 -2.6zM359.1 75.6l1.4 2.6l-1.4 2.6l-1.4 -2.6zM366.8 78.3l1.4 2.6l-1.4 2.6l-1.4 -2.6zM374.4 81.9l1.4 2.6l-1.4 2.6l-1.4 -2.6zM382.1 84.3l1.4 2.6l-1.4 2.6l-1.4 -2.6zM389.7 86.1l1.4 2.6l-1.4 2.6l-1.4 -2.6zM397.4 87.9l1.4 2.6l-1.4 2.6l-1.4 -2.6zM405 89.2l1.4 2.6l-1.4 2.6l-1.4 -2.6zM412.7 90.5l1.4 2.6l-1.4 2.6l-1.4 -2.6zM420.4 91l1.4 2.6l-1.4 2.6l-1.4 -2.6zM428 91.9l1.4 2.6l-1.4 2.6l-1.4 -2.6zM435.7 92.9l1.4 2.6l-1.4 2.6l-1.4 -2.6zM443.3 93.9l1.4 2.6l-1.4 2.6l-1.4 -2.6zM451 94.8l1.4 2.6l-1.4 2.6l-1.4 -2.6zM458.6 95.7l1.4 2.6l-1.4 2.6l-1.4 -2.6zM466.3 96.4l1.4 2.6l-1.4 2.6l-1.4 -2.6zM474 97.1l1.4 2.6l-1.4 2.6l-1.4 -2.6zM481.6 97.8l1.4 2.6l-1.4 2.6l-1.4 -2.6zM489.3 98.4l1.4 2.6l-1.4 2.6l-1.4 -2.6zM496.9 99l1.4 2.6l-1.4 2.6l-1.4 -2.6zM504.6 99.5l1.4 2.6l-1.4 2.6l-1.4 -2.6zM512.2 100.1l1.4 2.6l-1.4 2.6l-1.4 -2.6zM519.9 100.6l1.4 2.6l-1.4 2.6l-1.4 -2.6zM527.5 101.1l1.4 2.6l-1.4 2.6l-1.4 -2.6z" fill="#de4b34"/>
<path d="M343.8 69.1L344.6 70.6L345.3 71.8L346.1 72.8L346.9 73.7L347.6 74.5L348.4 75.3L349.2 76.1L349.9 76.8L350.7 77.5L351.5 78.2L353 79.6L354.5 81.1L356 82.4L357.6 83.6L359.1 84.5L360.6 85.2L362.2 85.8L363.7 86.4L365.2 86.8L366.8 87.3L368.3 87.7L369.8 88L371.4 88.4L372.9 88.7L374.4 89.1L376 89.5L377.5 90L379 90.4L380.5 90.9L382.1 91.3L385.1 92L388.2 92.7L391.3 93.5L394.3 94.5L397.4 95.5L400.5 96.5L403.5 97.6L406.6 98.7L409.6 99.9L412.7 100.9L415.8 101.7L418.8 102.4L421.9 103.1L425 103.8L428 104.5L431.1 105.2L434.1 105.8L437.2 106.5L440.3 107.1L443.3 107.7L446.4 108.2L449.5 108.7L452.5 109.1L455.6 109.5L458.6 109.7L461.7 109.9L464.8 110.1L467.8 110.3L470.9 110.5L474 110.6L477 110.8L480.1 110.9L483.1 111L486.2 111.1L489.3 111.2L492.3 111.4L495.4 111.5L498.5 111.6L501.5 111.7L504.6 111.8L507.6 111.9L510.7 111.9L513.8 112L516.8 112.1L519.9 112.2L523 112.3L526 112.3L529.1 112.4L532.1 112.5L534.8 112.5" stroke="#ab76f7" stroke-width="1.2" stroke-dasharray="4 1.5 0.9 1.5" fill="none"/>
<path d="M342.1 69.1a1.8 1.8 0 1 0 3.5 0a1.8 1.8 0 1 0 -3.5 0zM349.7 78.2a1.8 1.8 0 1 0 3.5 0a1.8 1.8 0 1 0 -3.5 0zM357.4 84.5a1.8 1.8 0 1 0 3.5 0a1.8 1.8 0 1 0 -3.5 0zM365 87.3a1.8 1.8 0 1 0 3.5 0a1.8 1.8 0 1 0 -3.5 0zM372.7 89.1a1.8 1.8 0 1 0 3.5 0a1.8 1.8 0 1 0 -3.5 0zM380.3 91.3a1.8 1.8 0 1 0 3.5 0a1.8 1.8 0 1 0 -3.5 0zM388 93.1a1.8 1.8 0 1 0 3.5 0a1.8 1.8 0 1 0 -3.5 0zM395.6 95.5a1.8 1.8 0 1 0 3.5 0a1.8 1.8 0 1 0 -3.5 0zM403.3 98.2a1.8 1.8 0 1 0 3.5 0a1.8 1.8 0 1 0 -3.5 0zM411 100.9a1.8 1.8 0 1 0 3.5 0a1.8 1.8 0 1 0 -3.5 0zM418.6 102.7a1.8 1.8 0 1 0 3.5 0a1.8 1.8 0 1 0 -3.5 0zM426.3 104.5a1.8 1.8 0 1 0 3.5 0a1.8 1.8 0 1 0 -3.5 0zM433.9 106.2a1.8 1.8 0 1 0 3.5 0a1.8 1.8 0 1 0 -3.5 0zM441.6 107.7a1.8 1.8 0 1 0 3.5 0a1.8 1.8 0 1 0 -3.5 0zM449.2 108.9a1.8 1.8 0 1 0 3.5 0a1.8 1.8 0 1 0 -3.5 0zM456.9 109.7a1.8 1.8 0 1 0 3.5 0a1.8 1.8 0 1 0 -3.5 0zM464.5 110.2a1.8 1.8 0 1 0 3.5 0a1.8 1.8 0 1 0 -3.5 0zM472.2 110.6a1.8 1.8 0 1 0 3.5 0a1.8 1.8 0 1 0 -3.5 0zM479.9 111a1.8 1.8 0 1 0 3.5 0a1.8 1.8 0 1 0 -3.5 0zM487.5 111.2a1.8 1.8 0 1 0 3.5 0a1.8 1.8 0 1 0 -3.5 0zM495.2 111.5a1.8 1.8 0 1 0 3.5 0a1.8 1.8 0 1 0 -3.5 0zM502.8 111.8a1.8 1.8 0 1 0 3.5 0a1.8 1.8 0 1 0 -3.5 0zM510.5 112a1.8 1.8 0 1 0 3.5 0a1.8 1.8 0 1 0 -3.5 0zM518.1 112.2a1.8 1.8 0 1 0 3.5 0a1.8 1.8 0 1 0 -3.5 0zM525.8 112.4a1.8 1.8 0 1 0 3.5 0a1.8 1.8 0 1 0 -3.5 0z" fill="#ab76f7"/>
<path d="M343.8 69.1L344.6 72.8L345.3 75.3L346.1 77.2L346.9 78.8L347.6 80.2L348.4 81.5L349.2 82.6L349.9 83.6L350.7 84.6L351.5 85.5L353 87.1L354.5 88.5L356 89.7L357.6 90.8L359.1 91.8L360.6 92.7L362.2 93.5L363.7 94.2L365.2 94.8L366.8 95.5L368.3 96.1L369.8 96.7L371.4 97.2L372.9 97.7L374.4 98.2L376 98.6L377.5 99L379 99.3L380.5 99.7L382.1 100L385.1 100.6L388.2 101.2L391.3 101.7L394.3 102.3L397.4 102.7L400.5 103.1L403.5 103.5L406.6 103.8L409.6 104.2L412.7 104.5L415.8 104.9L418.8 105.3L421.9 105.6L425 106L428 106.4L431.1 106.7L434.1 107L437.2 107.3L440.3 107.6L443.3 107.9L446.4 108.2L449.5 108.4L452.5 108.6L455.6 108.8L458.6 109L461.7 109.1L464.8 109.2L467.8 109.3L470.9 109.4L474 109.5L477 109.6L480.1 109.6L483.1 109.7L486.2 109.8L489.3 109.8L492.3 109.9L495.4 110L498.5 110L501.5 110.1L504.6 110.1L507.6 110.2L510.7 110.2L513.8 110.3L516.8 110.3L519.9 110.3L523 110.4L526 110.4L529.1 110.4L532.1 110.5L534.8 110.5" stroke="#ad5f35" stroke-width="1.1" stroke-dasharray="4 1.7" fill="none"/>
<path d="M343.8 67.6v3M351.5 84v3M359.1 90.3v3M366.8 94v3M374.4 96.7v3M382.1 98.5v3M389.7 100v3M397.4 101.2v3M405 102.1v3M412.7 103v3M420.4 104v3M428 104.9v3M435.7 105.7v3M443.3 106.4v3M451 107v3M458.6 107.5v3M466.3 107.8v3M474 108v3M481.6 108.2v3M489.3 108.3v3M496.9 108.5v3M504.6 108.6v3M512.2 108.7v3M519.9 108.8v3M527.5 108.9v3" stroke="#ad5f35" stroke-width="0.9" fill="none"/>
<path d="M343.8 68.2L344.6 70.2L345.3 71.6L346.1 72.7L346.9 73.7L347.6 74.5L348.4 75.4L349.2 76.2L349.9 76.9L350.7 77.4L351.5 77.8L353 78.3L354.5 78.7L356 79L357.6 79.2L359.1 79.3L360.6 79.3L362.2 79.3L363.7 79.4L365.2 79.4L366.8 79.4L368.3 79.4L369.8 79.4L371.4 79.4L372.9 79.4L374.4 79.4L376 79.4L377.5 79.4L379 79.5L380.5 79.5L382.1 79.5L385.1 79.5L388.2 79.5L391.3 79.5L394.3 79.5L397.4 79.5L400.5 79.5L403.5 79.5L406.6 79.5L409.6 79.5L412.7 79.5L415.8 79.5L418.8 79.5L421.9 79.5L425 79.5L428 79.5L431.1 79.5L434.1 79.5L437.2 79.5L440.3 79.5L443.3 79.5L446.4 79.5L449.5 79.5L452.5 79.5L455.6 79.6L458.6 79.6L461.7 79.6L464.8 79.6L467.8 79.7L470.9 79.7L474 79.7L477 79.8L480.1 79.8L483.1 79.8L486.2 79.9L489.3 79.9L492.3 79.9L495.4 80L498.5 80L501.5 80L504.6 80.1L507.6 80.1L510.7 80.1L513.8 80.2L516.8 80.2L519.9 80.3L523 80.3L526 80.3L529.1 80.4L532.1 80.4L534.8 80.4" stroke="#e682de" stroke-width="0.75" stroke-dasharray="3.8 1.4 0.8 1.4" fill="none"/>
<path d="M342.5 68.2h2.6m-1.3 -1.3v2.6M350.2 77.8h2.6m-1.3 -1.3v2.6M357.8 79.3h2.6m-1.3 -1.3v2.6M365.5 79.4h2.6m-1.3 -1.3v2.6M373.1 79.4h2.6m-1.3 -1.3v2.6M380.8 79.5h2.6m-1.3 -1.3v2.6M388.4 79.5h2.6m-1.3 -1.3v2.6M396.1 79.5h2.6m-1.3 -1.3v2.6M403.7 79.5h2.6m-1.3 -1.3v2.6M411.4 79.5h2.6m-1.3 -1.3v2.6M419.1 79.5h2.6m-1.3 -1.3v2.6M426.7 79.5h2.6m-1.3 -1.3v2.6M434.4 79.5h2.6m-1.3 -1.3v2.6M442 79.5h2.6m-1.3 -1.3v2.6M449.7 79.5h2.6m-1.3 -1.3v2.6M457.3 79.6h2.6m-1.3 -1.3v2.6M465 79.7h2.6m-1.3 -1.3v2.6M472.7 79.7h2.6m-1.3 -1.3v2.6M480.3 79.8h2.6m-1.3 -1.3v2.6M488 79.9h2.6m-1.3 -1.3v2.6M495.6 80h2.6m-1.3 -1.3v2.6M503.3 80.1h2.6m-1.3 -1.3v2.6M510.9 80.2h2.6m-1.3 -1.3v2.6M518.6 80.3h2.6m-1.3 -1.3v2.6M526.2 80.4h2.6m-1.3 -1.3v2.6" stroke="#e682de" stroke-width="0.65" fill="none"/>
<path d="M343.8 70.9L344.6 73.5L345.3 75.2L346.1 76.4L346.9 77.4L347.6 78.2L348.4 78.9L349.2 79.6L349.9 80.2L350.7 80.6L351.5 80.9L353 81.3L354.5 81.6L356 81.8L357.6 82L359.1 82.2L360.6 82.4L362.2 82.5L363.7 82.7L365.2 82.8L366.8 82.9L368.3 83L369.8 83L371.4 83.1L372.9 83.1L374.4 83.1L376 83.2L377.5 83.2L379 83.2L380.5 83.3L382.1 83.3L385.1 83.3L388.2 83.3L391.3 83.4L394.3 83.4L397.4 83.4L400.5 83.4L403.5 83.5L406.6 83.5L409.6 83.5L412.7 83.5L415.8 83.5L418.8 83.6L421.9 83.6L425 83.6L428 83.6L431.1 83.7L434.1 83.7L437.2 83.8L440.3 83.8L443.3 83.8L446.4 83.9L449.5 83.9L452.5 84L455.6 84L458.6 84L461.7 84L464.8 84.1L467.8 84.1L470.9 84.1L474 84.1L477 84.1L480.1 84.1L483.1 84.1L486.2 84.2L489.3 84.2L492.3 84.2L495.4 84.2L498.5 84.2L501.5 84.2L504.6 84.2L507.6 84.2L510.7 84.2L513.8 84.3L516.8 84.3L519.9 84.3L523 84.3L526 84.3L529.1 84.3L532.1 84.3L534.8 84.3" stroke="#b1b1b1" stroke-width="1.1" stroke-dasharray="4 1.7" fill="none"/>
<path d="M342.2 70.9a1.6 1.6 0 1 0 3.1 0a1.6 1.6 0 1 0 -3.1 0zM349.9 80.9a1.6 1.6 0 1 0 3.1 0a1.6 1.6 0 1 0 -3.1 0zM357.6 82.2a1.6 1.6 0 1 0 3.1 0a1.6 1.6 0 1 0 -3.1 0zM365.2 82.9a1.6 1.6 0 1 0 3.1 0a1.6 1.6 0 1 0 -3.1 0zM372.9 83.1a1.6 1.6 0 1 0 3.1 0a1.6 1.6 0 1 0 -3.1 0zM380.5 83.3a1.6 1.6 0 1 0 3.1 0a1.6 1.6 0 1 0 -3.1 0zM388.2 83.4a1.6 1.6 0 1 0 3.1 0a1.6 1.6 0 1 0 -3.1 0zM395.8 83.4a1.6 1.6 0 1 0 3.1 0a1.6 1.6 0 1 0 -3.1 0zM403.5 83.5a1.6 1.6 0 1 0 3.1 0a1.6 1.6 0 1 0 -3.1 0zM411.2 83.5a1.6 1.6 0 1 0 3.1 0a1.6 1.6 0 1 0 -3.1 0zM418.8 83.6a1.6 1.6 0 1 0 3.1 0a1.6 1.6 0 1 0 -3.1 0zM426.5 83.6a1.6 1.6 0 1 0 3.1 0a1.6 1.6 0 1 0 -3.1 0zM434.1 83.7a1.6 1.6 0 1 0 3.1 0a1.6 1.6 0 1 0 -3.1 0zM441.8 83.8a1.6 1.6 0 1 0 3.1 0a1.6 1.6 0 1 0 -3.1 0zM449.4 83.9a1.6 1.6 0 1 0 3.1 0a1.6 1.6 0 1 0 -3.1 0zM457.1 84a1.6 1.6 0 1 0 3.1 0a1.6 1.6 0 1 0 -3.1 0zM464.7 84.1a1.6 1.6 0 1 0 3.1 0a1.6 1.6 0 1 0 -3.1 0zM472.4 84.1a1.6 1.6 0 1 0 3.1 0a1.6 1.6 0 1 0 -3.1 0zM480.1 84.1a1.6 1.6 0 1 0 3.1 0a1.6 1.6 0 1 0 -3.1 0zM487.7 84.2a1.6 1.6 0 1 0 3.1 0a1.6 1.6 0 1 0 -3.1 0zM495.4 84.2a1.6 1.6 0 1 0 3.1 0a1.6 1.6 0 1 0 -3.1 0zM503 84.2a1.6 1.6 0 1 0 3.1 0a1.6 1.6 0 1 0 -3.1 0zM510.7 84.2a1.6 1.6 0 1 0 3.1 0a1.6 1.6 0 1 0 -3.1 0zM518.3 84.3a1.6 1.6 0 1 0 3.1 0a1.6 1.6 0 1 0 -3.1 0zM526 84.3a1.6 1.6 0 1 0 3.1 0a1.6 1.6 0 1 0 -3.1 0z" fill="#b1b1b1"/>
<path d="M343.8 77.3L344.6 79.1L345.3 80.4L346.1 81.5L346.9 82.5L347.6 83.4L348.4 84.3L349.2 85.1L349.9 85.8L350.7 86.6L351.5 87.3L353 88.6L354.5 90L356 91.2L357.6 92.5L359.1 93.6L360.6 94.8L362.2 96L363.7 97.1L365.2 98.2L366.8 99.1L368.3 99.9L369.8 100.7L371.4 101.4L372.9 102.1L374.4 102.7L376 103.3L377.5 103.9L379 104.4L380.5 104.9L382.1 105.5L385.1 106.6L388.2 107.7L391.3 108.6L394.3 109.3L397.4 110L400.5 110.7L403.5 111.5L406.6 112.1L409.6 112.7L412.7 113.3L415.8 113.9L418.8 114.6L421.9 115.3L425 116L428 116.7L431.1 117.3L434.1 117.9L437.2 118.5L440.3 119L443.3 119.6L446.4 120L449.5 120.5L452.5 120.9L455.6 121.3L458.6 121.7L461.7 122L464.8 122.4L467.8 122.7L470.9 123L474 123.2L477 123.5L480.1 123.8L483.1 124L486.2 124.2L489.3 124.5L492.3 124.7L495.4 124.9L498.5 125.1L501.5 125.3L504.6 125.5L507.6 125.7L510.7 125.8L513.8 126L516.8 126.2L519.9 126.3L523 126.5L526 126.6L529.1 126.8L532.1 126.9L534.8 127" stroke="#cfcf00" stroke-width="1.2" stroke-dasharray="4 1.7" fill="none"/>
<path d="M341.9 77.3a1.9 1.9 0 1 0 3.8 0a1.9 1.9 0 1 0 -3.8 0zM349.6 87.3a1.9 1.9 0 1 0 3.8 0a1.9 1.9 0 1 0 -3.8 0zM357.2 93.6a1.9 1.9 0 1 0 3.8 0a1.9 1.9 0 1 0 -3.8 0zM364.9 99.1a1.9 1.9 0 1 0 3.8 0a1.9 1.9 0 1 0 -3.8 0zM372.5 102.7a1.9 1.9 0 1 0 3.8 0a1.9 1.9 0 1 0 -3.8 0zM380.2 105.5a1.9 1.9 0 1 0 3.8 0a1.9 1.9 0 1 0 -3.8 0zM387.8 108.2a1.9 1.9 0 1 0 3.8 0a1.9 1.9 0 1 0 -3.8 0zM395.5 110a1.9 1.9 0 1 0 3.8 0a1.9 1.9 0 1 0 -3.8 0zM403.1 111.8a1.9 1.9 0 1 0 3.8 0a1.9 1.9 0 1 0 -3.8 0zM410.8 113.3a1.9 1.9 0 1 0 3.8 0a1.9 1.9 0 1 0 -3.8 0zM418.5 114.9a1.9 1.9 0 1 0 3.8 0a1.9 1.9 0 1 0 -3.8 0zM426.1 116.7a1.9 1.9 0 1 0 3.8 0a1.9 1.9 0 1 0 -3.8 0zM433.8 118.2a1.9 1.9 0 1 0 3.8 0a1.9 1.9 0 1 0 -3.8 0zM441.4 119.6a1.9 1.9 0 1 0 3.8 0a1.9 1.9 0 1 0 -3.8 0zM449.1 120.7a1.9 1.9 0 1 0 3.8 0a1.9 1.9 0 1 0 -3.8 0zM456.7 121.7a1.9 1.9 0 1 0 3.8 0a1.9 1.9 0 1 0 -3.8 0zM464.4 122.5a1.9 1.9 0 1 0 3.8 0a1.9 1.9 0 1 0 -3.8 0zM472.1 123.2a1.9 1.9 0 1 0 3.8 0a1.9 1.9 0 1 0 -3.8 0zM479.7 123.9a1.9 1.9 0 1 0 3.8 0a1.9 1.9 0 1 0 -3.8 0zM487.4 124.5a1.9 1.9 0 1 0 3.8 0a1.9 1.9 0 1 0 -3.8 0zM495 125a1.9 1.9 0 1 0 3.8 0a1.9 1.9 0 1 0 -3.8 0zM502.7 125.5a1.9 1.9 0 1 0 3.8 0a1.9 1.9 0 1 0 -3.8 0zM510.3 125.9a1.9 1.9 0 1 0 3.8 0a1.9 1.9 0 1 0 -3.8 0zM518 126.3a1.9 1.9 0 1 0 3.8 0a1.9 1.9 0 1 0 -3.8 0zM525.6 126.7a1.9 1.9 0 1 0 3.8 0a1.9 1.9 0 1 0 -3.8 0z" fill="#cfcf00"/>
<path d="M343.8 68.2L344.6 69.7L345.3 70.7L346.1 71.5L346.9 72.3L347.6 72.9L348.4 73.5L349.2 74L349.9 74.5L350.7 75L351.5 75.5L353 76.3L354.5 77.1L356 77.8L357.6 78.5L359.1 79.1L360.6 79.7L362.2 80.2L363.7 80.8L365.2 81.3L366.8 81.8L368.3 82.3L369.8 82.8L371.4 83.2L372.9 83.7L374.4 84.2L376 84.7L377.5 85.2L379 85.7L380.5 86.2L382.1 86.7L385.1 87.8L388.2 89.2L391.3 91.3L394.3 94.9L397.4 98.5L400.5 101.3L403.5 103.8L406.6 106.5L409.6 109.6L412.7 111.8L415.8 113L418.8 113.8L421.9 114.5L425 115.1L428 115.6L431.1 116L434.1 116.4L437.2 116.7L440.3 117L443.3 117.3L446.4 117.6L449.5 117.9L452.5 118.1L455.6 118.4L458.6 118.6L461.7 118.9L464.8 119.2L467.8 119.5L470.9 119.7L474 120L477 120.3L480.1 120.5L483.1 120.8L486.2 121L489.3 121.2L492.3 121.4L495.4 121.6L498.5 121.8L501.5 121.9L504.6 122.1L507.6 122.2L510.7 122.4L513.8 122.5L516.8 122.6L519.9 122.7L523 122.9L526 123L529.1 123.1L532.1 123.1L534.8 123.2" stroke="#ff8f57" stroke-width="0.85" stroke-dasharray="3.8 1.4 0.8 1.4" fill="none"/>
<path d="M342.3 66.7l3 3m0 -3l-3 3M350 74l3 3m0 -3l-3 3M357.6 77.6l3 3m0 -3l-3 3M365.3 80.3l3 3m0 -3l-3 3M372.9 82.7l3 3m0 -3l-3 3M380.6 85.2l3 3m0 -3l-3 3M388.2 88.5l3 3m0 -3l-3 3M395.9 97l3 3m0 -3l-3 3M403.5 103.6l3 3m0 -3l-3 3M411.2 110.3l3 3m0 -3l-3 3M418.9 112.7l3 3m0 -3l-3 3M426.5 114.1l3 3m0 -3l-3 3M434.2 115.1l3 3m0 -3l-3 3M441.8 115.8l3 3m0 -3l-3 3M449.5 116.5l3 3m0 -3l-3 3M457.1 117.1l3 3m0 -3l-3 3M464.8 117.8l3 3m0 -3l-3 3M472.5 118.5l3 3m0 -3l-3 3M480.1 119.2l3 3m0 -3l-3 3M487.8 119.7l3 3m0 -3l-3 3M495.4 120.2l3 3m0 -3l-3 3M503.1 120.6l3 3m0 -3l-3 3M510.7 120.9l3 3m0 -3l-3 3M518.4 121.2l3 3m0 -3l-3 3M526 121.5l3 3m0 -3l-3 3" stroke="#ff8f57" stroke-width="0.66" fill="none"/>
<path d="M343.8 72.7L344.6 76.3L345.3 78.7L346.1 80.6L346.9 82.2L347.6 83.6L348.4 84.9L349.2 86L349.9 87.1L350.7 88.1L351.5 89.1L353 90.8L354.5 92.3L356 93.6L357.6 95L359.1 96.4L360.6 97.8L362.2 99.3L363.7 100.8L365.2 102.2L366.8 103.6L368.3 104.9L369.8 106.2L371.4 107.4L372.9 108.7L374.4 110L376 111.4L377.5 112.9L379 114.4L380.5 115.9L382.1 117.3L385.1 119.9L388.2 122.4L391.3 124.9L394.3 127.5L397.4 130L400.5 132.2L403.5 134.3L406.6 136.7L409.6 139.2L412.7 141.5L415.8 143.4L418.8 145L421.9 146.8L425 148.6L428 150.5L431.1 152.4L434.1 154.2L437.2 155.7L440.3 156.9L443.3 158.1L446.4 159.3L449.5 160.6L452.5 161.7L455.6 162.9L458.6 163.9L461.7 164.7L464.8 165.4L467.8 166L470.9 166.5L474 167L477 167.6L480.1 168.3L483.1 168.7L486.2 169L489.3 169.3L492.3 169.6L495.4 169.9L498.5 170.2L501.5 170.5L504.6 170.8L507.6 171L510.7 171.2L513.8 171.4L516.8 171.5L519.9 171.7L523 171.8L526 171.9L529.1 172L532.1 172.1L534.8 172.1" stroke="#06069a" stroke-width="1.2" stroke-dasharray="4 1.7" fill="none"/>
<path d="M343.8 70.6L344.4 71.9L345.8 72.1L344.7 73L345.1 74.5L343.8 73.7L342.5 74.5L342.9 73L341.8 72.1L343.2 71.9zM351.5 86.9L352 88.3L353.5 88.4L352.4 89.4L352.7 90.8L351.5 90.1L350.2 90.8L350.5 89.4L349.4 88.4L350.9 88.3zM359.1 94.2L359.7 95.6L361.2 95.7L360 96.7L360.4 98.1L359.1 97.3L357.8 98.1L358.2 96.7L357.1 95.7L358.5 95.6zM366.8 101.5L367.3 102.9L368.8 103L367.7 103.9L368 105.4L366.8 104.6L365.5 105.4L365.8 103.9L364.7 103L366.2 102.9zM374.4 107.8L375 109.2L376.5 109.3L375.3 110.3L375.7 111.7L374.4 111L373.2 111.7L373.5 110.3L372.4 109.3L373.9 109.2zM382.1 115.1L382.6 116.5L384.1 116.6L383 117.6L383.3 119L382.1 118.2L380.8 119L381.2 117.6L380 116.6L381.5 116.5zM389.7 121.5L390.3 122.9L391.8 123L390.7 123.9L391 125.4L389.7 124.6L388.5 125.4L388.8 123.9L387.7 123L389.2 122.9zM397.4 127.8L398 129.2L399.4 129.3L398.3 130.3L398.7 131.7L397.4 131L396.1 131.7L396.5 130.3L395.3 129.3L396.8 129.2zM405 133.3L405.6 134.7L407.1 134.8L406 135.8L406.3 137.2L405 136.4L403.8 137.2L404.1 135.8L403 134.8L404.5 134.7zM412.7 139.4L413.3 140.8L414.7 140.9L413.6 141.8L414 143.3L412.7 142.5L411.4 143.3L411.8 141.8L410.7 140.9L412.1 140.8zM420.4 143.7L420.9 145.1L422.4 145.2L421.3 146.2L421.6 147.6L420.4 146.8L419.1 147.6L419.4 146.2L418.3 145.2L419.8 145.1zM428 148.3L428.6 149.7L430.1 149.8L428.9 150.8L429.3 152.2L428 151.4L426.8 152.2L427.1 150.8L426 149.8L427.4 149.7zM435.7 152.9L436.2 154.3L437.7 154.4L436.6 155.3L436.9 156.8L435.7 156L434.4 156.8L434.8 155.3L433.6 154.4L435.1 154.3zM443.3 155.9L443.9 157.3L445.4 157.4L444.2 158.4L444.6 159.8L443.3 159.1L442.1 159.8L442.4 158.4L441.3 157.4L442.8 157.3zM451 159L451.6 160.4L453 160.5L451.9 161.4L452.2 162.9L451 162.1L449.7 162.9L450.1 161.4L448.9 160.5L450.4 160.4zM458.6 161.8L459.2 163.2L460.7 163.3L459.6 164.2L459.9 165.7L458.6 164.9L457.4 165.7L457.7 164.2L456.6 163.3L458.1 163.2zM466.3 163.6L466.9 164.9L468.3 165.1L467.2 166L467.6 167.5L466.3 166.7L465 167.5L465.4 166L464.3 165.1L465.7 164.9zM474 164.8L474.5 166.2L476 166.3L474.9 167.3L475.2 168.7L474 168L472.7 168.7L473 167.3L471.9 166.3L473.4 166.2zM481.6 166.4L482.2 167.7L483.7 167.9L482.5 168.8L482.9 170.3L481.6 169.5L480.3 170.3L480.7 168.8L479.6 167.9L481 167.7zM489.3 167.1L489.8 168.5L491.3 168.6L490.2 169.6L490.5 171L489.3 170.3L488 171L488.3 169.6L487.2 168.6L488.7 168.5zM496.9 167.9L497.5 169.3L499 169.4L497.8 170.4L498.2 171.8L496.9 171L495.7 171.8L496 170.4L494.9 169.4L496.4 169.3zM504.6 168.6L505.1 170L506.6 170.1L505.5 171.1L505.8 172.5L504.6 171.7L503.3 172.5L503.7 171.1L502.5 170.1L504 170zM512.2 169.2L512.8 170.5L514.3 170.7L513.2 171.6L513.5 173.1L512.2 172.3L511 173.1L511.3 171.6L510.2 170.7L511.7 170.5zM519.9 169.5L520.5 170.9L521.9 171L520.8 172L521.2 173.4L519.9 172.7L518.6 173.4L519 172L517.8 171L519.3 170.9zM527.5 169.8L528.1 171.2L529.6 171.3L528.5 172.3L528.8 173.7L527.5 172.9L526.3 173.7L526.6 172.3L525.5 171.3L527 171.2z" fill="#06069a"/>
<path d="M343.8 68.2L344.6 74.8L345.3 79.4L346.1 83.1L346.9 86.4L347.6 89.3L348.4 91.9L349.2 94.4L349.9 96.7L350.7 98.8L351.5 100.9L353 104.7L354.5 108.2L356 111.4L357.6 114.6L359.1 117.8L360.6 121.1L362.2 124.4L363.7 127.7L365.2 130.8L366.8 133.6L368.3 136.3L369.8 138.8L371.4 141.3L372.9 143.6L374.4 145.9L376 148.1L377.5 150.3L379 152.4L380.5 154.4L382.1 156.3L385.1 160.1L388.2 163.5L391.3 166.3L394.3 168.9L397.4 170.8L400.5 172.2L403.5 173.3L406.6 174.4L409.6 175.5L412.7 176.4L415.8 177L418.8 177.5L421.9 177.9L425 178.3L428 178.6L431.1 178.9L434.1 179.1L437.2 179.3L440.3 179.5L443.3 179.6L446.4 179.8L449.5 179.9L452.5 180L455.6 180.1L458.6 180.2L461.7 180.3L464.8 180.4L467.8 180.5L470.9 180.5L474 180.6L477 180.7L480.1 180.7L483.1 180.8L486.2 180.8L489.3 180.9L492.3 180.9L495.4 181L498.5 181L501.5 181.1L504.6 181.1L507.6 181.2L510.7 181.2L513.8 181.2L516.8 181.3L519.9 181.3L523 181.4L526 181.4L529.1 181.4L532.1 181.5L534.8 181.5" stroke="#ff1493" stroke-width="1.2" stroke-dasharray="4 1.7" fill="none"/>
<path d="M341.8 67.3L342.9 66.1L343.8 67L344.7 66.1L345.9 67.3L344.9 68.2L345.9 69.1L344.7 70.2L343.8 69.3L342.9 70.2L341.8 69.1L342.7 68.2zM349.4 100L350.6 98.9L351.5 99.8L352.4 98.9L353.5 100L352.6 100.9L353.5 101.8L352.4 103L351.5 102.1L350.6 103L349.4 101.8L350.3 100.9zM357.1 116.9L358.2 115.8L359.1 116.7L360 115.8L361.2 116.9L360.3 117.8L361.2 118.7L360 119.9L359.1 119L358.2 119.9L357.1 118.7L358 117.8zM364.7 132.7L365.9 131.6L366.8 132.5L367.7 131.6L368.8 132.7L367.9 133.6L368.8 134.5L367.7 135.7L366.8 134.8L365.9 135.7L364.7 134.5L365.6 133.6zM372.4 145L373.5 143.8L374.4 144.7L375.3 143.8L376.5 145L375.6 145.9L376.5 146.8L375.3 147.9L374.4 147L373.5 147.9L372.4 146.8L373.3 145.9zM380 155.4L381.2 154.3L382.1 155.2L383 154.3L384.1 155.4L383.2 156.3L384.1 157.2L383 158.4L382.1 157.5L381.2 158.4L380 157.2L380.9 156.3zM387.7 164.1L388.8 162.9L389.7 163.8L390.6 162.9L391.8 164.1L390.9 165L391.8 165.9L390.6 167L389.7 166.1L388.8 167L387.7 165.9L388.6 165zM395.3 169.9L396.5 168.8L397.4 169.7L398.3 168.8L399.4 169.9L398.5 170.8L399.4 171.7L398.3 172.9L397.4 172L396.5 172.9L395.3 171.7L396.2 170.8zM403 173L404.1 171.8L405 172.7L405.9 171.8L407.1 173L406.2 173.9L407.1 174.8L405.9 175.9L405 175L404.1 175.9L403 174.8L403.9 173.9zM410.7 175.5L411.8 174.4L412.7 175.3L413.6 174.4L414.8 175.5L413.9 176.4L414.8 177.3L413.6 178.5L412.7 177.6L411.8 178.5L410.7 177.3L411.6 176.4zM418.3 176.8L419.5 175.6L420.4 176.5L421.3 175.6L422.4 176.8L421.5 177.7L422.4 178.6L421.3 179.7L420.4 178.8L419.5 179.7L418.3 178.6L419.2 177.7zM426 177.7L427.1 176.5L428 177.4L428.9 176.5L430.1 177.7L429.2 178.6L430.1 179.5L428.9 180.6L428 179.7L427.1 180.6L426 179.5L426.9 178.6zM433.6 178.3L434.8 177.2L435.7 178.1L436.6 177.2L437.7 178.3L436.8 179.2L437.7 180.1L436.6 181.3L435.7 180.4L434.8 181.3L433.6 180.1L434.5 179.2zM441.3 178.7L442.4 177.6L443.3 178.5L444.2 177.6L445.4 178.7L444.5 179.6L445.4 180.6L444.2 181.7L443.3 180.8L442.4 181.7L441.3 180.6L442.2 179.6zM448.9 179.1L450.1 177.9L451 178.8L451.9 177.9L453 179.1L452.1 180L453 180.9L451.9 182L451 181.1L450.1 182L448.9 180.9L449.8 180zM456.6 179.3L457.7 178.2L458.6 179.1L459.5 178.2L460.7 179.3L459.8 180.2L460.7 181.1L459.5 182.3L458.6 181.4L457.7 182.3L456.6 181.1L457.5 180.2zM464.2 179.5L465.4 178.4L466.3 179.3L467.2 178.4L468.3 179.5L467.4 180.4L468.3 181.3L467.2 182.5L466.3 181.6L465.4 182.5L464.2 181.3L465.1 180.4zM471.9 179.7L473.1 178.6L474 179.5L474.9 178.6L476 179.7L475.1 180.6L476 181.5L474.9 182.7L474 181.8L473.1 182.7L471.9 181.5L472.8 180.6zM479.6 179.8L480.7 178.7L481.6 179.6L482.5 178.7L483.7 179.8L482.8 180.7L483.7 181.6L482.5 182.8L481.6 181.9L480.7 182.8L479.6 181.6L480.5 180.7zM487.2 180L488.4 178.8L489.3 179.7L490.2 178.8L491.3 180L490.4 180.9L491.3 181.8L490.2 182.9L489.3 182L488.4 182.9L487.2 181.8L488.1 180.9zM494.9 180.1L496 178.9L496.9 179.9L497.8 178.9L499 180.1L498.1 181L499 181.9L497.8 183.1L496.9 182.1L496 183.1L494.9 181.9L495.8 181zM502.5 180.2L503.7 179.1L504.6 180L505.5 179.1L506.6 180.2L505.7 181.1L506.6 182L505.5 183.2L504.6 182.3L503.7 183.2L502.5 182L503.4 181.1zM510.2 180.3L511.3 179.2L512.2 180.1L513.1 179.2L514.3 180.3L513.4 181.2L514.3 182.1L513.1 183.3L512.2 182.4L511.3 183.3L510.2 182.1L511.1 181.2zM517.8 180.4L519 179.3L519.9 180.2L520.8 179.3L521.9 180.4L521 181.3L521.9 182.2L520.8 183.4L519.9 182.5L519 183.4L517.8 182.2L518.7 181.3zM525.5 180.5L526.6 179.4L527.5 180.3L528.4 179.4L529.6 180.5L528.7 181.4L529.6 182.3L528.4 183.5L527.5 182.6L526.6 183.5L525.5 182.3L526.4 181.4z" fill="#ff1493"/>
</g>
<rect x="334.5" y="62.4" width="210" height="124.8" fill="none" stroke="#8f8f8f" stroke-width="1.15"/>
<text transform="translate(343.8 194.6) scale(.89 1)" font-size="6.2" text-anchor="middle" fill="#151515">0</text>
<text transform="translate(382.08 194.6) scale(.89 1)" font-size="6.2" text-anchor="middle" fill="#151515">100</text>
<text transform="translate(420.36 194.6) scale(.89 1)" font-size="6.2" text-anchor="middle" fill="#151515">200</text>
<text transform="translate(458.64 194.6) scale(.89 1)" font-size="6.2" text-anchor="middle" fill="#151515">300</text>
<text transform="translate(496.92 194.6) scale(.89 1)" font-size="6.2" text-anchor="middle" fill="#151515">400</text>
<text transform="translate(535.2 194.6) scale(.89 1)" font-size="6.2" text-anchor="middle" fill="#151515">500</text>
<text x="332.5" y="79.9" font-size="6" text-anchor="end" fill="#151515">10<tspan dy="-2.3" font-size="4">5</tspan></text>
<text x="332.5" y="127.5" font-size="6" text-anchor="end" fill="#151515">10<tspan dy="-2.3" font-size="4">4</tspan></text>
<text x="332.5" y="175.1" font-size="6" text-anchor="end" fill="#151515">10<tspan dy="-2.3" font-size="4">3</tspan></text>
<text x="439.5" y="60.9" font-size="8.9" font-weight="bold" text-anchor="middle" fill="#111">C4</text>
<text transform="translate(439.5 203.1) scale(.93 1)" font-family='"Liberation Serif", "DejaVu Serif", serif' font-size="9.2" font-weight="bold" text-anchor="middle" fill="#111">Iterations</text>
<text transform="translate(317.8 124.8) rotate(-90)" font-family='"Liberation Serif", "DejaVu Serif", serif' font-size="8.6" font-weight="bold" text-anchor="middle" fill="#111">LogY--Fitness</text>
</g>
<g>
<clipPath id="clipC5"><rect x="38.9" y="230.05" width="210.1" height="124.85"/></clipPath>
<rect x="38.9" y="230.05" width="210.1" height="124.85" fill="#fff"/>
<path d="M48.4 230.05V354.9M86.6 230.05V354.9M124.8 230.05V354.9M163 230.05V354.9M201.2 230.05V354.9M239.4 230.05V354.9M38.9 349.8H249M38.9 334.46H249M38.9 319.11H249M38.9 303.77H249M38.9 288.43H249M38.9 273.09H249M38.9 257.74H249M38.9 242.4H249" stroke="#d6d6d6" stroke-width="0.55" fill="none"/>
<g clip-path="url(#clipC5)">
<path d="M48.4 248L49.2 253.8L49.9 257.7L50.7 260.7L51.5 263.3L52.2 265.5L53 267.5L53.7 269.4L54.5 271.1L55.3 272.6L56 274.1L57.6 276.7L59.1 279L60.6 281.2L62.2 283.1L63.7 285L65.2 286.8L66.7 288.6L68.3 290.3L69.8 291.8L71.3 293.2L72.8 294.4L74.4 295.6L75.9 296.6L77.4 297.6L79 298.6L80.5 299.6L82 300.5L83.5 301.4L85.1 302.3L86.6 303.2L89.7 305.2L92.7 307.2L95.8 308.8L98.8 310.2L101.9 311.4L104.9 312.6L108 313.7L111 314.4L114.1 314.9L117.2 315.4L120.2 315.8L123.3 316.3L126.3 316.6L129.4 316.9L132.4 317.2L135.5 317.7L138.6 318.3L141.6 319L144.7 319.7L147.7 320.2L150.8 320.8L153.8 321.3L156.9 321.9L159.9 322.3L163 322.6L166.1 322.9L169.1 323.2L172.2 323.4L175.2 323.6L178.3 323.8L181.3 324L184.4 324.2L187.4 324.3L190.5 324.5L193.6 324.6L196.6 324.8L199.7 324.9L202.7 325.1L205.8 325.2L208.8 325.4L211.9 325.5L215 325.7L218 325.8L221.1 325.9L224.1 326.1L227.2 326.2L230.2 326.3L233.3 326.4L236.3 326.5L239 326.6" stroke="#5b93d6" stroke-width="0.75" stroke-dasharray="3.8 1.4 0.8 1.4" fill="none"/>
<path d="M48.4 248v1.4M47.3 247.3l1.1 0.7l1.1 -0.7M56 274.1v1.4M54.9 273.4l1.1 0.7l1.1 -0.7M63.7 285v1.4M62.6 284.3l1.1 0.7l1.1 -0.7M71.3 293.2v1.4M70.2 292.5l1.1 0.7l1.1 -0.7M79 298.6v1.4M77.8 297.9l1.1 0.7l1.1 -0.7M86.6 303.2v1.4M85.5 302.5l1.1 0.7l1.1 -0.7M94.2 308.1v1.4M93.1 307.4l1.1 0.7l1.1 -0.7M101.9 311.4v1.4M100.8 310.7l1.1 0.7l1.1 -0.7M109.5 314.1v1.4M108.4 313.4l1.1 0.7l1.1 -0.7M117.2 315.4v1.4M116 314.7l1.1 0.7l1.1 -0.7M124.8 316.5v1.4M123.7 315.8l1.1 0.7l1.1 -0.7M132.4 317.2v1.4M131.3 316.5l1.1 0.7l1.1 -0.7M140.1 318.7v1.4M139 318l1.1 0.7l1.1 -0.7M147.7 320.2v1.4M146.6 319.5l1.1 0.7l1.1 -0.7M155.4 321.6v1.4M154.2 320.9l1.1 0.7l1.1 -0.7M163 322.6v1.4M161.9 321.9l1.1 0.7l1.1 -0.7M170.6 323.3v1.4M169.5 322.6l1.1 0.7l1.1 -0.7M178.3 323.8v1.4M177.2 323.1l1.1 0.7l1.1 -0.7M185.9 324.2v1.4M184.8 323.5l1.1 0.7l1.1 -0.7M193.6 324.6v1.4M192.4 323.9l1.1 0.7l1.1 -0.7M201.2 325v1.4M200.1 324.3l1.1 0.7l1.1 -0.7M208.8 325.4v1.4M207.7 324.7l1.1 0.7l1.1 -0.7M216.5 325.7v1.4M215.4 325l1.1 0.7l1.1 -0.7M224.1 326.1v1.4M223 325.4l1.1 0.7l1.1 -0.7M231.8 326.4v1.4M230.6 325.7l1.1 0.7l1.1 -0.7" stroke="#5b93d6" stroke-width="0.62" fill="none"/>
<path d="M48.4 260.7L49.2 276.2L49.9 285.7L50.7 292.8L51.5 298.3L52.2 302.8L53 306.5L53.7 309.5L54.5 312.1L55.3 314.2L56 315.9L57.6 318.6L59.1 320.7L60.6 322.3L62.2 323.7L63.7 325L65.2 326.1L66.7 327.1L68.3 328L69.8 328.8L71.3 329.5L72.8 330.3L74.4 331L75.9 331.7L77.4 332.3L79 332.8L80.5 333.3L82 333.8L83.5 334.2L85.1 334.6L86.6 335L89.7 335.6L92.7 336.2L95.8 336.7L98.8 337.3L101.9 337.7L104.9 338.1L108 338.4L111 338.7L114.1 339L117.2 339.4L120.2 339.7L123.3 340L126.3 340.4L129.4 340.7L132.4 341L135.5 341.3L138.6 341.7L141.6 342L144.7 342.2L147.7 342.5L150.8 342.7L153.8 342.9L156.9 343L159.9 343.2L163 343.4L166.1 343.5L169.1 343.6L172.2 343.8L175.2 343.9L178.3 344L181.3 344.1L184.4 344.2L187.4 344.4L190.5 344.5L193.6 344.6L196.6 344.7L199.7 344.8L202.7 344.9L205.8 345L208.8 345.1L211.9 345.2L215 345.2L218 345.3L221.1 345.4L224.1 345.5L227.2 345.6L230.2 345.7L233.3 345.8L236.3 345.8L239 345.9" stroke="#f59b12" stroke-width="1.2" stroke-dasharray="4 1.7" fill="none"/>
<path d="M48.4 258.8l1.9 3.4h-3.8zM56 314l1.9 3.4h-3.8zM63.7 323.1l1.9 3.4h-3.8zM71.3 327.6l1.9 3.4h-3.8zM79 330.9l1.9 3.4h-3.8zM86.6 333.1l1.9 3.4h-3.8zM94.2 334.6l1.9 3.4h-3.8zM101.9 335.8l1.9 3.4h-3.8zM109.5 336.7l1.9 3.4h-3.8zM117.2 337.5l1.9 3.4h-3.8zM124.8 338.3l1.9 3.4h-3.8zM132.4 339.1l1.9 3.4h-3.8zM140.1 339.9l1.9 3.4h-3.8zM147.7 340.6l1.9 3.4h-3.8zM155.4 341.1l1.9 3.4h-3.8zM163 341.5l1.9 3.4h-3.8zM170.6 341.8l1.9 3.4h-3.8zM178.3 342.1l1.9 3.4h-3.8zM185.9 342.4l1.9 3.4h-3.8zM193.6 342.7l1.9 3.4h-3.8zM201.2 342.9l1.9 3.4h-3.8zM208.8 343.2l1.9 3.4h-3.8zM216.5 343.4l1.9 3.4h-3.8zM224.1 343.6l1.9 3.4h-3.8zM231.8 343.8l1.9 3.4h-3.8z" fill="#f59b12"/>
<path d="M48.4 235.8L49.2 246.9L49.9 253.7L50.7 258.8L51.5 262.8L52.2 266.1L53 268.8L53.7 271.1L54.5 273L55.3 274.6L56 275.9L57.6 278L59.1 279.5L60.6 280.8L62.2 281.9L63.7 283.2L65.2 284.5L66.7 286L68.3 287.3L69.8 288.4L71.3 289.2L72.8 289.7L74.4 290.1L75.9 290.5L77.4 290.9L79 291.4L80.5 292.1L82 293L83.5 294L85.1 295L86.6 295.9L89.7 297.4L92.7 298.9L95.8 300.2L98.8 301.5L101.9 302.8L104.9 304.1L108 305.3L111 306.5L114.1 307.5L117.2 308.6L120.2 310.5L123.3 312.5L126.3 313.6L129.4 314.1L132.4 314.6L135.5 315.5L138.6 316.6L141.6 317.7L144.7 318.6L147.7 319.2L150.8 319.7L153.8 320.1L156.9 320.6L159.9 321L163 321.4L166.1 321.8L169.1 322.2L172.2 322.5L175.2 322.9L178.3 323.3L181.3 323.6L184.4 324L187.4 324.4L190.5 324.7L193.6 325.1L196.6 325.4L199.7 325.7L202.7 326.1L205.8 326.4L208.8 326.8L211.9 327.1L215 327.4L218 327.6L221.1 327.8L224.1 327.9L227.2 328L230.2 328.1L233.3 328L236.3 327.6L239 327.1" stroke="#0bd264" stroke-width="1.2" stroke-dasharray="4 1.7" fill="none"/>
<path d="M46.4 233.8h4v4h-4zM54 273.9h4v4h-4zM61.7 281.2h4v4h-4zM69.3 287.2h4v4h-4zM77 289.4h4v4h-4zM84.6 293.9h4v4h-4zM92.2 297.5h4v4h-4zM99.9 300.8h4v4h-4zM107.5 303.9h4v4h-4zM115.2 306.6h4v4h-4zM122.8 311.2h4v4h-4zM130.4 312.6h4v4h-4zM138.1 315.2h4v4h-4zM145.7 317.2h4v4h-4zM153.4 318.3h4v4h-4zM161 319.4h4v4h-4zM168.6 320.4h4v4h-4zM176.3 321.3h4v4h-4zM183.9 322.2h4v4h-4zM191.6 323.1h4v4h-4zM199.2 323.9h4v4h-4zM206.8 324.8h4v4h-4zM214.5 325.5h4v4h-4zM222.1 325.9h4v4h-4zM229.8 326.1h4v4h-4z" fill="#0bd264"/>
<path d="M48.4 239.1L49.2 251.5L49.9 259.4L50.7 265.3L51.5 270.2L52.2 274.4L53 277.9L53.7 281.1L54.5 283.9L55.3 286.4L56 288.6L57.6 292.5L59.1 295.6L60.6 298.3L62.2 300.8L63.7 303.2L65.2 305.6L66.7 307.9L68.3 310.1L69.8 312L71.3 313.5L72.8 314.8L74.4 315.9L75.9 316.8L77.4 317.7L79 318.6L80.5 319.6L82 320.6L83.5 321.6L85.1 322.4L86.6 323.2L89.7 324.4L92.7 325.4L95.8 326.5L98.8 327.5L101.9 328.6L104.9 329.8L108 330.9L111 331.8L114.1 332.7L117.2 333.5L120.2 334.3L123.3 335L126.3 335.7L129.4 336.5L132.4 337.2L135.5 337.7L138.6 338.2L141.6 338.6L144.7 339L147.7 339.2L150.8 339.4L153.8 339.6L156.9 339.8L159.9 339.9L163 340.1L166.1 340.3L169.1 340.4L172.2 340.6L175.2 340.7L178.3 340.9L181.3 341L184.4 341.2L187.4 341.3L190.5 341.4L193.6 341.6L196.6 341.7L199.7 341.8L202.7 342L205.8 342.1L208.8 342.2L211.9 342.3L215 342.5L218 342.6L221.1 342.7L224.1 342.8L227.2 342.9L230.2 343L233.3 343.2L236.3 343.3L239 343.4" stroke="#de4b34" stroke-width="1.2" stroke-dasharray="4 1.7" fill="none"/>
<path d="M48.4 236.5l1.4 2.6l-1.4 2.6l-1.4 -2.6zM56 286l1.4 2.6l-1.4 2.6l-1.4 -2.6zM63.7 300.6l1.4 2.6l-1.4 2.6l-1.4 -2.6zM71.3 310.9l1.4 2.6l-1.4 2.6l-1.4 -2.6zM79 316l1.4 2.6l-1.4 2.6l-1.4 -2.6zM86.6 320.6l1.4 2.6l-1.4 2.6l-1.4 -2.6zM94.2 323.3l1.4 2.6l-1.4 2.6l-1.4 -2.6zM101.9 326l1.4 2.6l-1.4 2.6l-1.4 -2.6zM109.5 328.8l1.4 2.6l-1.4 2.6l-1.4 -2.6zM117.2 330.9l1.4 2.6l-1.4 2.6l-1.4 -2.6zM124.8 332.8l1.4 2.6l-1.4 2.6l-1.4 -2.6zM132.4 334.6l1.4 2.6l-1.4 2.6l-1.4 -2.6zM140.1 335.8l1.4 2.6l-1.4 2.6l-1.4 -2.6zM147.7 336.6l1.4 2.6l-1.4 2.6l-1.4 -2.6zM155.4 337.1l1.4 2.6l-1.4 2.6l-1.4 -2.6zM163 337.5l1.4 2.6l-1.4 2.6l-1.4 -2.6zM170.6 337.9l1.4 2.6l-1.4 2.6l-1.4 -2.6zM178.3 338.3l1.4 2.6l-1.4 2.6l-1.4 -2.6zM185.9 338.6l1.4 2.6l-1.4 2.6l-1.4 -2.6zM193.6 339l1.4 2.6l-1.4 2.6l-1.4 -2.6zM201.2 339.3l1.4 2.6l-1.4 2.6l-1.4 -2.6zM208.8 339.6l1.4 2.6l-1.4 2.6l-1.4 -2.6zM216.5 339.9l1.4 2.6l-1.4 2.6l-1.4 -2.6zM224.1 340.2l1.4 2.6l-1.4 2.6l-1.4 -2.6zM231.8 340.5l1.4 2.6l-1.4 2.6l-1.4 -2.6z" fill="#de4b34"/>
<path d="M48.4 245.5L49.2 255.6L49.9 262L50.7 266.9L51.5 270.9L52.2 274.3L53 277.2L53.7 279.8L54.5 282L55.3 284.1L56 285.9L57.6 289.1L59.1 291.8L60.6 294.1L62.2 296L63.7 297.7L65.2 299.2L66.7 300.4L68.3 301.5L69.8 302.6L71.3 303.7L72.8 304.9L74.4 306.2L75.9 307.4L77.4 308.4L79 309.2L80.5 309.7L82 310.2L83.5 310.6L85.1 311L86.6 311.4L89.7 312.2L92.7 313L95.8 314.2L98.8 315.7L101.9 317.2L104.9 318.3L108 319.5L111 320.8L114.1 322.4L117.2 324.1L120.2 325.9L123.3 327.6L126.3 328.8L129.4 329.6L132.4 330.5L135.5 331.9L138.6 333.8L141.6 335.6L144.7 336.7L147.7 337.2L150.8 337.6L153.8 337.9L156.9 338.2L159.9 338.4L163 338.6L166.1 338.9L169.1 339.2L172.2 339.4L175.2 339.6L178.3 339.9L181.3 340.1L184.4 340.3L187.4 340.5L190.5 340.7L193.6 340.9L196.6 341.1L199.7 341.3L202.7 341.5L205.8 341.6L208.8 341.8L211.9 341.9L215 342.1L218 342.3L221.1 342.4L224.1 342.5L227.2 342.7L230.2 342.8L233.3 342.9L236.3 343.1L239 343.2" stroke="#ab76f7" stroke-width="1.2" stroke-dasharray="4 1.5 0.9 1.5" fill="none"/>
<path d="M46.6 245.5a1.8 1.8 0 1 0 3.5 0a1.8 1.8 0 1 0 -3.5 0zM54.3 285.9a1.8 1.8 0 1 0 3.5 0a1.8 1.8 0 1 0 -3.5 0zM61.9 297.7a1.8 1.8 0 1 0 3.5 0a1.8 1.8 0 1 0 -3.5 0zM69.6 303.7a1.8 1.8 0 1 0 3.5 0a1.8 1.8 0 1 0 -3.5 0zM77.2 309.2a1.8 1.8 0 1 0 3.5 0a1.8 1.8 0 1 0 -3.5 0zM84.8 311.4a1.8 1.8 0 1 0 3.5 0a1.8 1.8 0 1 0 -3.5 0zM92.5 313.5a1.8 1.8 0 1 0 3.5 0a1.8 1.8 0 1 0 -3.5 0zM100.1 317.2a1.8 1.8 0 1 0 3.5 0a1.8 1.8 0 1 0 -3.5 0zM107.8 320.1a1.8 1.8 0 1 0 3.5 0a1.8 1.8 0 1 0 -3.5 0zM115.4 324.1a1.8 1.8 0 1 0 3.5 0a1.8 1.8 0 1 0 -3.5 0zM123.1 328.3a1.8 1.8 0 1 0 3.5 0a1.8 1.8 0 1 0 -3.5 0zM130.7 330.5a1.8 1.8 0 1 0 3.5 0a1.8 1.8 0 1 0 -3.5 0zM138.3 334.8a1.8 1.8 0 1 0 3.5 0a1.8 1.8 0 1 0 -3.5 0zM146 337.2a1.8 1.8 0 1 0 3.5 0a1.8 1.8 0 1 0 -3.5 0zM153.6 338a1.8 1.8 0 1 0 3.5 0a1.8 1.8 0 1 0 -3.5 0zM161.2 338.6a1.8 1.8 0 1 0 3.5 0a1.8 1.8 0 1 0 -3.5 0zM168.9 339.3a1.8 1.8 0 1 0 3.5 0a1.8 1.8 0 1 0 -3.5 0zM176.5 339.9a1.8 1.8 0 1 0 3.5 0a1.8 1.8 0 1 0 -3.5 0zM184.2 340.4a1.8 1.8 0 1 0 3.5 0a1.8 1.8 0 1 0 -3.5 0zM191.8 340.9a1.8 1.8 0 1 0 3.5 0a1.8 1.8 0 1 0 -3.5 0zM199.5 341.4a1.8 1.8 0 1 0 3.5 0a1.8 1.8 0 1 0 -3.5 0zM207.1 341.8a1.8 1.8 0 1 0 3.5 0a1.8 1.8 0 1 0 -3.5 0zM214.7 342.2a1.8 1.8 0 1 0 3.5 0a1.8 1.8 0 1 0 -3.5 0zM222.4 342.5a1.8 1.8 0 1 0 3.5 0a1.8 1.8 0 1 0 -3.5 0zM230 342.9a1.8 1.8 0 1 0 3.5 0a1.8 1.8 0 1 0 -3.5 0z" fill="#ab76f7"/>
<path d="M48.4 253.1L49.2 267.6L49.9 276.7L50.7 283.4L51.5 288.8L52.2 293.2L53 296.8L53.7 300L54.5 302.6L55.3 304.9L56 306.8L57.6 310L59.1 312.7L60.6 314.8L62.2 316.4L63.7 317.7L65.2 318.7L66.7 319.5L68.3 320.2L69.8 320.8L71.3 321.4L72.8 321.9L74.4 322.5L75.9 322.9L77.4 323.4L79 323.7L80.5 324L82 324.3L83.5 324.6L85.1 324.8L86.6 325L89.7 325.4L92.7 325.7L95.8 326.1L98.8 326.4L101.9 326.7L104.9 327L108 327.2L111 327.5L114.1 327.8L117.2 328.1L120.2 328.3L123.3 328.5L126.3 328.7L129.4 328.9L132.4 329L135.5 329.1L138.6 329.3L141.6 329.4L144.7 329.5L147.7 329.7L150.8 329.8L153.8 330L156.9 330.1L159.9 330.3L163 330.5L166.1 330.6L169.1 330.7L172.2 330.8L175.2 331L178.3 331.1L181.3 331.3L184.4 331.6L187.4 331.9L190.5 332.3L193.6 332.8L196.6 333.3L199.7 333.8L202.7 334.4L205.8 334.9L208.8 335.6L211.9 336.2L215 336.9L218 337.4L221.1 337.8L224.1 338.2L227.2 338.5L230.2 338.9L233.3 339.1L236.3 339.4L239 339.5" stroke="#ad5f35" stroke-width="1.1" stroke-dasharray="4 1.7" fill="none"/>
<path d="M48.4 251.6v3M56 305.3v3M63.7 316.2v3M71.3 319.9v3M79 322.2v3M86.6 323.5v3M94.2 324.4v3M101.9 325.2v3M109.5 325.9v3M117.2 326.6v3M124.8 327.1v3M132.4 327.5v3M140.1 327.8v3M147.7 328.2v3M155.4 328.6v3M163 329v3M170.6 329.3v3M178.3 329.6v3M185.9 330.2v3M193.6 331.3v3M201.2 332.6v3M208.8 334.1v3M216.5 335.6v3M224.1 336.7v3M231.8 337.5v3" stroke="#ad5f35" stroke-width="0.9" fill="none"/>
<path d="M48.4 242.9L49.2 250.1L49.9 254.6L50.7 258L51.5 260.9L52.2 263.2L53 265.3L53.7 267.1L54.5 268.7L55.3 270.1L56 271.4L57.6 273.5L59.1 275.1L60.6 276.6L62.2 278L63.7 279.5L65.2 281.2L66.7 282.9L68.3 284.6L69.8 286.2L71.3 287.7L72.8 289.1L74.4 290.4L75.9 291.7L77.4 292.9L79 294.1L80.5 295.3L82 296.5L83.5 297.6L85.1 298.6L86.6 299.5L89.7 301L92.7 302.2L95.8 303.4L98.8 304.5L101.9 305.5L104.9 306.5L108 307.3L111 308.1L114.1 308.9L117.2 309.7L120.2 310.5L123.3 311.2L126.3 311.9L129.4 312.5L132.4 313L135.5 313.3L138.6 313.6L141.6 313.8L144.7 314.1L147.7 314.3L150.8 314.6L153.8 314.9L156.9 315.2L159.9 315.6L163 315.9L166.1 316.3L169.1 316.8L172.2 317.3L175.2 317.8L178.3 318.3L181.3 318.6L184.4 318.8L187.4 318.9L190.5 319.1L193.6 319.2L196.6 319.3L199.7 319.5L202.7 319.6L205.8 319.9L208.8 320.2L211.9 320.5L215 320.8L218 321.1L221.1 321.4L224.1 321.7L227.2 322L230.2 322.3L233.3 322.6L236.3 322.9L239 323.1" stroke="#e682de" stroke-width="0.75" stroke-dasharray="3.8 1.4 0.8 1.4" fill="none"/>
<path d="M47.1 242.9h2.6m-1.3 -1.3v2.6M54.7 271.4h2.6m-1.3 -1.3v2.6M62.4 279.5h2.6m-1.3 -1.3v2.6M70 287.7h2.6m-1.3 -1.3v2.6M77.7 294.1h2.6m-1.3 -1.3v2.6M85.3 299.5h2.6m-1.3 -1.3v2.6M92.9 302.8h2.6m-1.3 -1.3v2.6M100.6 305.5h2.6m-1.3 -1.3v2.6M108.2 307.7h2.6m-1.3 -1.3v2.6M115.9 309.7h2.6m-1.3 -1.3v2.6M123.5 311.5h2.6m-1.3 -1.3v2.6M131.1 313h2.6m-1.3 -1.3v2.6M138.8 313.7h2.6m-1.3 -1.3v2.6M146.4 314.3h2.6m-1.3 -1.3v2.6M154.1 315.1h2.6m-1.3 -1.3v2.6M161.7 315.9h2.6m-1.3 -1.3v2.6M169.3 317.1h2.6m-1.3 -1.3v2.6M177 318.3h2.6m-1.3 -1.3v2.6M184.6 318.9h2.6m-1.3 -1.3v2.6M192.3 319.2h2.6m-1.3 -1.3v2.6M199.9 319.5h2.6m-1.3 -1.3v2.6M207.5 320.2h2.6m-1.3 -1.3v2.6M215.2 321h2.6m-1.3 -1.3v2.6M222.8 321.7h2.6m-1.3 -1.3v2.6M230.5 322.5h2.6m-1.3 -1.3v2.6" stroke="#e682de" stroke-width="0.65" fill="none"/>
<path d="M48.4 250.5L49.2 265.7L49.9 275L50.7 281.9L51.5 287.3L52.2 291.6L53 295.2L53.7 298.1L54.5 300.5L55.3 302.5L56 304.1L57.6 306.5L59.1 308.3L60.6 309.8L62.2 311.1L63.7 312.3L65.2 313.5L66.7 314.6L68.3 315.7L69.8 316.5L71.3 317.2L72.8 317.7L74.4 318.1L75.9 318.4L77.4 318.7L79 319L80.5 319.2L82 319.5L83.5 319.7L85.1 319.9L86.6 320.1L89.7 320.6L92.7 321.1L95.8 321.6L98.8 322.1L101.9 322.6L104.9 323.1L108 323.5L111 323.9L114.1 324.2L117.2 324.5L120.2 324.8L123.3 325.1L126.3 325.3L129.4 325.4L132.4 325.5L135.5 325.7L138.6 325.7L141.6 325.8L144.7 325.9L147.7 326L150.8 326.1L153.8 326.1L156.9 326.2L159.9 326.2L163 326.3L166.1 326.3L169.1 326.3L172.2 326.3L175.2 326.3L178.3 326.4L181.3 326.4L184.4 326.4L187.4 326.4L190.5 326.4L193.6 326.4L196.6 326.4L199.7 326.4L202.7 326.5L205.8 326.5L208.8 326.5L211.9 326.5L215 326.6L218 326.6L221.1 326.6L224.1 326.7L227.2 326.7L230.2 326.7L233.3 326.7L236.3 326.8L239 326.8" stroke="#b1b1b1" stroke-width="1.1" stroke-dasharray="4 1.7" fill="none"/>
<path d="M46.9 250.5a1.6 1.6 0 1 0 3.1 0a1.6 1.6 0 1 0 -3.1 0zM54.5 304.1a1.6 1.6 0 1 0 3.1 0a1.6 1.6 0 1 0 -3.1 0zM62.1 312.3a1.6 1.6 0 1 0 3.1 0a1.6 1.6 0 1 0 -3.1 0zM69.8 317.2a1.6 1.6 0 1 0 3.1 0a1.6 1.6 0 1 0 -3.1 0zM77.4 319a1.6 1.6 0 1 0 3.1 0a1.6 1.6 0 1 0 -3.1 0zM85 320.1a1.6 1.6 0 1 0 3.1 0a1.6 1.6 0 1 0 -3.1 0zM92.7 321.4a1.6 1.6 0 1 0 3.1 0a1.6 1.6 0 1 0 -3.1 0zM100.3 322.6a1.6 1.6 0 1 0 3.1 0a1.6 1.6 0 1 0 -3.1 0zM108 323.7a1.6 1.6 0 1 0 3.1 0a1.6 1.6 0 1 0 -3.1 0zM115.6 324.5a1.6 1.6 0 1 0 3.1 0a1.6 1.6 0 1 0 -3.1 0zM123.3 325.2a1.6 1.6 0 1 0 3.1 0a1.6 1.6 0 1 0 -3.1 0zM130.9 325.5a1.6 1.6 0 1 0 3.1 0a1.6 1.6 0 1 0 -3.1 0zM138.5 325.8a1.6 1.6 0 1 0 3.1 0a1.6 1.6 0 1 0 -3.1 0zM146.2 326a1.6 1.6 0 1 0 3.1 0a1.6 1.6 0 1 0 -3.1 0zM153.8 326.2a1.6 1.6 0 1 0 3.1 0a1.6 1.6 0 1 0 -3.1 0zM161.4 326.3a1.6 1.6 0 1 0 3.1 0a1.6 1.6 0 1 0 -3.1 0zM169.1 326.3a1.6 1.6 0 1 0 3.1 0a1.6 1.6 0 1 0 -3.1 0zM176.7 326.4a1.6 1.6 0 1 0 3.1 0a1.6 1.6 0 1 0 -3.1 0zM184.4 326.4a1.6 1.6 0 1 0 3.1 0a1.6 1.6 0 1 0 -3.1 0zM192 326.4a1.6 1.6 0 1 0 3.1 0a1.6 1.6 0 1 0 -3.1 0zM199.7 326.5a1.6 1.6 0 1 0 3.1 0a1.6 1.6 0 1 0 -3.1 0zM207.3 326.5a1.6 1.6 0 1 0 3.1 0a1.6 1.6 0 1 0 -3.1 0zM214.9 326.6a1.6 1.6 0 1 0 3.1 0a1.6 1.6 0 1 0 -3.1 0zM222.6 326.7a1.6 1.6 0 1 0 3.1 0a1.6 1.6 0 1 0 -3.1 0zM230.2 326.7a1.6 1.6 0 1 0 3.1 0a1.6 1.6 0 1 0 -3.1 0z" fill="#b1b1b1"/>
<path d="M48.4 275.5L49.2 286L49.9 292.5L50.7 297.3L51.5 301.1L52.2 304.1L53 306.7L53.7 308.8L54.5 310.5L55.3 312L56 313.2L57.6 315.1L59.1 316.5L60.6 317.7L62.2 318.7L63.7 319.5L65.2 320.4L66.7 321.1L68.3 321.8L69.8 322.3L71.3 322.8L72.8 323.2L74.4 323.5L75.9 323.8L77.4 324.1L79 324.5L80.5 324.9L82 325.4L83.5 325.9L85.1 326.4L86.6 326.8L89.7 327.4L92.7 327.9L95.8 328.3L98.8 328.8L101.9 329.2L104.9 329.6L108 329.9L111 330.2L114.1 330.5L117.2 330.8L120.2 331.2L123.3 331.6L126.3 331.9L129.4 332.1L132.4 332.3L135.5 332.6L138.6 332.9L141.6 333.2L144.7 333.5L147.7 333.7L150.8 333.9L153.8 334.1L156.9 334.2L159.9 334.4L163 334.6L166.1 334.9L169.1 335.3L172.2 335.7L175.2 336L178.3 336.4L181.3 336.7L184.4 337L187.4 337.3L190.5 337.6L193.6 337.8L196.6 338L199.7 338.2L202.7 338.3L205.8 338.5L208.8 338.6L211.9 338.7L215 338.8L218 338.9L221.1 339L224.1 339.1L227.2 339.2L230.2 339.3L233.3 339.4L236.3 339.5L239 339.5" stroke="#cfcf00" stroke-width="1.2" stroke-dasharray="4 1.7" fill="none"/>
<path d="M46.5 275.5a1.9 1.9 0 1 0 3.8 0a1.9 1.9 0 1 0 -3.8 0zM54.1 313.2a1.9 1.9 0 1 0 3.8 0a1.9 1.9 0 1 0 -3.8 0zM61.8 319.5a1.9 1.9 0 1 0 3.8 0a1.9 1.9 0 1 0 -3.8 0zM69.4 322.8a1.9 1.9 0 1 0 3.8 0a1.9 1.9 0 1 0 -3.8 0zM77.1 324.5a1.9 1.9 0 1 0 3.8 0a1.9 1.9 0 1 0 -3.8 0zM84.7 326.8a1.9 1.9 0 1 0 3.8 0a1.9 1.9 0 1 0 -3.8 0zM92.3 328.1a1.9 1.9 0 1 0 3.8 0a1.9 1.9 0 1 0 -3.8 0zM100 329.2a1.9 1.9 0 1 0 3.8 0a1.9 1.9 0 1 0 -3.8 0zM107.6 330.1a1.9 1.9 0 1 0 3.8 0a1.9 1.9 0 1 0 -3.8 0zM115.3 330.8a1.9 1.9 0 1 0 3.8 0a1.9 1.9 0 1 0 -3.8 0zM122.9 331.7a1.9 1.9 0 1 0 3.8 0a1.9 1.9 0 1 0 -3.8 0zM130.5 332.3a1.9 1.9 0 1 0 3.8 0a1.9 1.9 0 1 0 -3.8 0zM138.2 333.1a1.9 1.9 0 1 0 3.8 0a1.9 1.9 0 1 0 -3.8 0zM145.8 333.7a1.9 1.9 0 1 0 3.8 0a1.9 1.9 0 1 0 -3.8 0zM153.5 334.2a1.9 1.9 0 1 0 3.8 0a1.9 1.9 0 1 0 -3.8 0zM161.1 334.6a1.9 1.9 0 1 0 3.8 0a1.9 1.9 0 1 0 -3.8 0zM168.7 335.5a1.9 1.9 0 1 0 3.8 0a1.9 1.9 0 1 0 -3.8 0zM176.4 336.4a1.9 1.9 0 1 0 3.8 0a1.9 1.9 0 1 0 -3.8 0zM184 337.2a1.9 1.9 0 1 0 3.8 0a1.9 1.9 0 1 0 -3.8 0zM191.7 337.8a1.9 1.9 0 1 0 3.8 0a1.9 1.9 0 1 0 -3.8 0zM199.3 338.3a1.9 1.9 0 1 0 3.8 0a1.9 1.9 0 1 0 -3.8 0zM206.9 338.6a1.9 1.9 0 1 0 3.8 0a1.9 1.9 0 1 0 -3.8 0zM214.6 338.9a1.9 1.9 0 1 0 3.8 0a1.9 1.9 0 1 0 -3.8 0zM222.2 339.1a1.9 1.9 0 1 0 3.8 0a1.9 1.9 0 1 0 -3.8 0zM229.9 339.3a1.9 1.9 0 1 0 3.8 0a1.9 1.9 0 1 0 -3.8 0z" fill="#cfcf00"/>
<path d="M48.4 240.4L49.2 251.2L49.9 258L50.7 263L51.5 267L52.2 270.3L53 273L53.7 275.3L54.5 277.3L55.3 279L56 280.5L57.6 282.7L59.1 284.5L60.6 285.9L62.2 287.3L63.7 288.6L65.2 290L66.7 291.3L68.3 292.6L69.8 293.8L71.3 295L72.8 296.1L74.4 297.2L75.9 298.2L77.4 299.3L79 300.5L80.5 301.7L82 303.1L83.5 304.5L85.1 305.8L86.6 306.8L89.7 308.3L92.7 309.7L95.8 311.3L98.8 313.3L101.9 315.9L104.9 320L108 324.8L111 328L114.1 329.5L117.2 330.5L120.2 331.5L123.3 332.6L126.3 333.7L129.4 334.8L132.4 335.9L135.5 337.3L138.6 338.9L141.6 340.3L144.7 341.1L147.7 341.4L150.8 341.7L153.8 341.9L156.9 342L159.9 342.1L163 342.3L166.1 342.4L169.1 342.6L172.2 342.7L175.2 342.8L178.3 342.9L181.3 343L184.4 343.2L187.4 343.3L190.5 343.4L193.6 343.5L196.6 343.6L199.7 343.7L202.7 343.8L205.8 343.9L208.8 344L211.9 344.1L215 344.2L218 344.2L221.1 344.3L224.1 344.4L227.2 344.5L230.2 344.6L233.3 344.7L236.3 344.7L239 344.8" stroke="#ff8f57" stroke-width="0.85" stroke-dasharray="3.8 1.4 0.8 1.4" fill="none"/>
<path d="M46.9 238.9l3 3m0 -3l-3 3M54.5 279l3 3m0 -3l-3 3M62.2 287.1l3 3m0 -3l-3 3M69.8 293.5l3 3m0 -3l-3 3M77.5 299l3 3m0 -3l-3 3M85.1 305.3l3 3m0 -3l-3 3M92.7 309l3 3m0 -3l-3 3M100.4 314.4l3 3m0 -3l-3 3M108 325.3l3 3m0 -3l-3 3M115.7 329l3 3m0 -3l-3 3M123.3 331.6l3 3m0 -3l-3 3M130.9 334.4l3 3m0 -3l-3 3M138.6 338.1l3 3m0 -3l-3 3M146.2 339.9l3 3m0 -3l-3 3M153.9 340.4l3 3m0 -3l-3 3M161.5 340.8l3 3m0 -3l-3 3M169.1 341.1l3 3m0 -3l-3 3M176.8 341.4l3 3m0 -3l-3 3M184.4 341.7l3 3m0 -3l-3 3M192.1 342l3 3m0 -3l-3 3M199.7 342.2l3 3m0 -3l-3 3M207.3 342.5l3 3m0 -3l-3 3M215 342.7l3 3m0 -3l-3 3M222.6 342.9l3 3m0 -3l-3 3M230.3 343.1l3 3m0 -3l-3 3" stroke="#ff8f57" stroke-width="0.66" fill="none"/>
<path d="M48.4 265.8L49.2 287.2L49.9 299.3L50.7 307.2L51.5 312.5L52.2 315.9L53 318.1L53.7 319.7L54.5 320.9L55.3 322L56 323.2L57.6 325.4L59.1 327.5L60.6 329.3L62.2 330.9L63.7 332.3L65.2 333.4L66.7 334.4L68.3 335.3L69.8 336.1L71.3 336.8L72.8 337.5L74.4 338.1L75.9 338.6L77.4 339.1L79 339.5L80.5 340L82 340.4L83.5 340.7L85.1 341.1L86.6 341.4L89.7 341.9L92.7 342.4L95.8 342.9L98.8 343.3L101.9 343.7L104.9 344L108 344.3L111 344.6L114.1 344.8L117.2 345L120.2 345.2L123.3 345.5L126.3 345.6L129.4 345.8L132.4 345.9L135.5 346.1L138.6 346.3L141.6 346.5L144.7 346.6L147.7 346.8L150.8 346.9L153.8 347L156.9 347.2L159.9 347.3L163 347.4L166.1 347.5L169.1 347.6L172.2 347.6L175.2 347.7L178.3 347.8L181.3 347.9L184.4 348L187.4 348L190.5 348.1L193.6 348.1L196.6 348.2L199.7 348.3L202.7 348.3L205.8 348.3L208.8 348.4L211.9 348.4L215 348.4L218 348.5L221.1 348.5L224.1 348.5L227.2 348.6L230.2 348.6L233.3 348.6L236.3 348.6L239 348.6" stroke="#06069a" stroke-width="1.2" stroke-dasharray="4 1.7" fill="none"/>
<path d="M48.4 263.7L49 265L50.4 265.2L49.3 266.1L49.7 267.6L48.4 266.8L47.1 267.6L47.5 266.1L46.4 265.2L47.8 265zM56 321L56.6 322.4L58.1 322.5L57 323.5L57.3 324.9L56 324.1L54.8 324.9L55.1 323.5L54 322.5L55.5 322.4zM63.7 330.1L64.2 331.5L65.7 331.6L64.6 332.6L64.9 334L63.7 333.2L62.4 334L62.8 332.6L61.6 331.6L63.1 331.5zM71.3 334.7L71.9 336L73.4 336.2L72.2 337.1L72.6 338.6L71.3 337.8L70.1 338.6L70.4 337.1L69.3 336.2L70.8 336zM79 337.4L79.5 338.8L81 338.9L79.9 339.8L80.2 341.3L79 340.5L77.7 341.3L78 339.8L76.9 338.9L78.4 338.8zM86.6 339.2L87.2 340.6L88.6 340.7L87.5 341.7L87.9 343.1L86.6 342.3L85.3 343.1L85.7 341.7L84.6 340.7L86 340.6zM94.2 340.5L94.8 341.9L96.3 342L95.2 342.9L95.5 344.4L94.2 343.6L93 344.4L93.3 342.9L92.2 342L93.7 341.9zM101.9 341.6L102.4 342.9L103.9 343.1L102.8 344L103.1 345.5L101.9 344.7L100.6 345.5L101 344L99.8 343.1L101.3 342.9zM109.5 342.3L110.1 343.7L111.6 343.8L110.4 344.8L110.8 346.2L109.5 345.4L108.3 346.2L108.6 344.8L107.5 343.8L109 343.7zM117.2 342.9L117.7 344.2L119.2 344.3L118.1 345.3L118.4 346.7L117.2 346L115.9 346.7L116.2 345.3L115.1 344.3L116.6 344.2zM124.8 343.4L125.4 344.8L126.8 344.9L125.7 345.8L126.1 347.3L124.8 346.5L123.5 347.3L123.9 345.8L122.8 344.9L124.2 344.8zM132.4 343.8L133 345.1L134.5 345.2L133.4 346.2L133.7 347.6L132.4 346.9L131.2 347.6L131.5 346.2L130.4 345.2L131.9 345.1zM140.1 344.2L140.6 345.6L142.1 345.7L141 346.7L141.3 348.1L140.1 347.3L138.8 348.1L139.2 346.7L138 345.7L139.5 345.6zM147.7 344.6L148.3 346L149.8 346.1L148.6 347.1L149 348.5L147.7 347.7L146.5 348.5L146.8 347.1L145.7 346.1L147.2 346zM155.4 344.9L155.9 346.3L157.4 346.4L156.3 347.4L156.6 348.8L155.4 348.1L154.1 348.8L154.4 347.4L153.3 346.4L154.8 346.3zM163 345.2L163.6 346.6L165 346.7L163.9 347.7L164.3 349.1L163 348.3L161.7 349.1L162.1 347.7L161 346.7L162.4 346.6zM170.6 345.4L171.2 346.8L172.7 346.9L171.6 347.9L171.9 349.3L170.6 348.6L169.4 349.3L169.7 347.9L168.6 346.9L170.1 346.8zM178.3 345.7L178.8 347L180.3 347.1L179.2 348.1L179.5 349.5L178.3 348.8L177 349.5L177.4 348.1L176.2 347.1L177.7 347zM185.9 345.8L186.5 347.2L188 347.3L186.8 348.3L187.2 349.7L185.9 349L184.7 349.7L185 348.3L183.9 347.3L185.4 347.2zM193.6 346L194.1 347.4L195.6 347.5L194.5 348.4L194.8 349.9L193.6 349.1L192.3 349.9L192.6 348.4L191.5 347.5L193 347.4zM201.2 346.1L201.8 347.5L203.2 347.6L202.1 348.6L202.5 350L201.2 349.2L199.9 350L200.3 348.6L199.2 347.6L200.6 347.5zM208.8 346.2L209.4 347.6L210.9 347.7L209.8 348.7L210.1 350.1L208.8 349.3L207.6 350.1L207.9 348.7L206.8 347.7L208.3 347.6zM216.5 346.3L217 347.7L218.5 347.8L217.4 348.8L217.7 350.2L216.5 349.4L215.2 350.2L215.6 348.8L214.4 347.8L215.9 347.7zM224.1 346.4L224.7 347.8L226.2 347.9L225 348.8L225.4 350.3L224.1 349.5L222.9 350.3L223.2 348.8L222.1 347.9L223.6 347.8zM231.8 346.4L232.3 347.8L233.8 347.9L232.7 348.9L233 350.3L231.8 349.6L230.5 350.3L230.8 348.9L229.7 347.9L231.2 347.8z" fill="#06069a"/>
<path d="M48.4 244.7L49.2 265.3L49.9 278.1L50.7 287.4L51.5 294.7L52.2 300.6L53 305.3L53.7 309.3L54.5 312.5L55.3 315.1L56 317.2L57.6 320.4L59.1 322.7L60.6 324.6L62.2 326.3L63.7 327.7L65.2 329.1L66.7 330.3L68.3 331.4L69.8 332.4L71.3 333.2L72.8 333.8L74.4 334.4L75.9 334.9L77.4 335.4L79 335.9L80.5 336.4L82 336.9L83.5 337.4L85.1 337.8L86.6 338.3L89.7 339.1L92.7 339.8L95.8 340.4L98.8 340.9L101.9 341.4L104.9 341.9L108 342.4L111 342.8L114.1 343L117.2 343.2L120.2 343.4L123.3 343.6L126.3 343.8L129.4 343.9L132.4 344.1L135.5 344.5L138.6 345.1L141.6 345.8L144.7 346.2L147.7 346.5L150.8 346.7L153.8 346.8L156.9 347L159.9 347.1L163 347.2L166.1 347.3L169.1 347.4L172.2 347.5L175.2 347.5L178.3 347.6L181.3 347.7L184.4 347.8L187.4 347.8L190.5 347.9L193.6 348L196.6 348L199.7 348.1L202.7 348.1L205.8 348.2L208.8 348.2L211.9 348.3L215 348.3L218 348.4L221.1 348.4L224.1 348.5L227.2 348.5L230.2 348.5L233.3 348.6L236.3 348.6L239 348.6" stroke="#ff1493" stroke-width="1.2" stroke-dasharray="4 1.7" fill="none"/>
<path d="M46.4 243.8L47.5 242.6L48.4 243.5L49.3 242.6L50.4 243.8L49.5 244.7L50.4 245.6L49.3 246.7L48.4 245.8L47.5 246.7L46.4 245.6L47.3 244.7zM54 316.3L55.1 315.1L56 316L56.9 315.1L58.1 316.3L57.2 317.2L58.1 318.1L56.9 319.2L56 318.3L55.1 319.2L54 318.1L54.9 317.2zM61.6 326.8L62.8 325.7L63.7 326.6L64.6 325.7L65.7 326.8L64.8 327.7L65.7 328.6L64.6 329.8L63.7 328.9L62.8 329.8L61.6 328.6L62.5 327.7zM69.3 332.3L70.4 331.1L71.3 332L72.2 331.1L73.4 332.3L72.5 333.2L73.4 334.1L72.2 335.2L71.3 334.3L70.4 335.2L69.3 334.1L70.2 333.2zM76.9 335L78.1 333.9L79 334.8L79.9 333.9L81 335L80.1 335.9L81 336.8L79.9 338L79 337.1L78.1 338L76.9 336.8L77.8 335.9zM84.5 337.4L85.7 336.2L86.6 337.1L87.5 336.2L88.6 337.4L87.7 338.3L88.6 339.2L87.5 340.3L86.6 339.4L85.7 340.3L84.5 339.2L85.5 338.3zM92.2 339.2L93.3 338L94.2 338.9L95.1 338L96.3 339.2L95.4 340.1L96.3 341L95.1 342.1L94.2 341.2L93.3 342.1L92.2 341L93.1 340.1zM99.8 340.5L101 339.3L101.9 340.2L102.8 339.3L103.9 340.5L103 341.4L103.9 342.3L102.8 343.4L101.9 342.5L101 343.4L99.8 342.3L100.7 341.4zM107.5 341.7L108.6 340.6L109.5 341.5L110.4 340.6L111.6 341.7L110.7 342.6L111.6 343.5L110.4 344.7L109.5 343.8L108.6 344.7L107.5 343.5L108.4 342.6zM115.1 342.3L116.3 341.1L117.2 342L118.1 341.1L119.2 342.3L118.3 343.2L119.2 344.1L118.1 345.2L117.2 344.3L116.3 345.2L115.1 344.1L116 343.2zM122.8 342.8L123.9 341.7L124.8 342.6L125.7 341.7L126.9 342.8L125.9 343.7L126.9 344.6L125.7 345.8L124.8 344.9L123.9 345.8L122.8 344.6L123.7 343.7zM130.4 343.2L131.5 342L132.4 342.9L133.3 342L134.5 343.2L133.6 344.1L134.5 345L133.3 346.1L132.4 345.2L131.5 346.1L130.4 345L131.3 344.1zM138 344.6L139.2 343.4L140.1 344.3L141 343.4L142.1 344.6L141.2 345.5L142.1 346.4L141 347.5L140.1 346.6L139.2 347.5L138 346.4L138.9 345.5zM145.7 345.6L146.8 344.4L147.7 345.3L148.6 344.4L149.8 345.6L148.9 346.5L149.8 347.4L148.6 348.5L147.7 347.6L146.8 348.5L145.7 347.4L146.6 346.5zM153.3 346L154.5 344.8L155.4 345.7L156.3 344.8L157.4 346L156.5 346.9L157.4 347.8L156.3 348.9L155.4 348L154.5 348.9L153.3 347.8L154.2 346.9zM160.9 346.3L162.1 345.1L163 346L163.9 345.1L165.1 346.3L164.1 347.2L165.1 348.1L163.9 349.2L163 348.3L162.1 349.2L160.9 348.1L161.9 347.2zM168.6 346.5L169.7 345.4L170.6 346.3L171.5 345.4L172.7 346.5L171.8 347.4L172.7 348.3L171.5 349.5L170.6 348.6L169.7 349.5L168.6 348.3L169.5 347.4zM176.2 346.7L177.4 345.6L178.3 346.5L179.2 345.6L180.3 346.7L179.4 347.6L180.3 348.5L179.2 349.7L178.3 348.8L177.4 349.7L176.2 348.5L177.1 347.6zM183.9 346.9L185 345.7L185.9 346.6L186.8 345.7L188 346.9L187.1 347.8L188 348.7L186.8 349.8L185.9 348.9L185 349.8L183.9 348.7L184.8 347.8zM191.5 347L192.7 345.9L193.6 346.8L194.5 345.9L195.6 347L194.7 348L195.6 348.9L194.5 350L193.6 349.1L192.7 350L191.5 348.9L192.4 348zM199.2 347.2L200.3 346L201.2 346.9L202.1 346L203.3 347.2L202.3 348.1L203.3 349L202.1 350.1L201.2 349.2L200.3 350.1L199.2 349L200.1 348.1zM206.8 347.3L207.9 346.2L208.8 347.1L209.7 346.2L210.9 347.3L210 348.2L210.9 349.1L209.7 350.3L208.8 349.4L207.9 350.3L206.8 349.1L207.7 348.2zM214.4 347.4L215.6 346.3L216.5 347.2L217.4 346.3L218.5 347.4L217.6 348.3L218.5 349.2L217.4 350.4L216.5 349.5L215.6 350.4L214.4 349.2L215.3 348.3zM222.1 347.6L223.2 346.4L224.1 347.3L225 346.4L226.2 347.6L225.3 348.5L226.2 349.4L225 350.5L224.1 349.6L223.2 350.5L222.1 349.4L223 348.5zM229.7 347.6L230.9 346.5L231.8 347.4L232.7 346.5L233.8 347.6L232.9 348.5L233.8 349.5L232.7 350.6L231.8 349.7L230.9 350.6L229.7 349.5L230.6 348.5z" fill="#ff1493"/>
</g>
<path d="M103.7 272.8L236.4 348.6M187.9 272.8L239.4 348.6" stroke="#333" stroke-width="0.85" fill="none"/>
<rect x="236.4" y="348" width="3" height="1.2" fill="#555" />
<rect x="103.7" y="235.8" width="84.2" height="37" fill="#fff" stroke="#626262" stroke-width="0.95"/>
<path d="M125.4 235.8V272.8M146.3 235.8V272.8M167.1 235.8V272.8M103.7 247.2H187.9M103.7 260.2H187.9" stroke="#d4d4d4" stroke-width="0.5" fill="none"/>
<path d="M104.5 237.3L179.6 237.3" stroke="#06069a" stroke-width="1.2" stroke-dasharray="1.9 1.6" fill="none"/>
<path d="M104.5 235L105.1 236.5L106.7 236.6L105.5 237.6L105.9 239.2L104.5 238.3L103.1 239.2L103.5 237.6L102.3 236.6L103.9 236.5zM120.9 235L121.5 236.5L123.1 236.6L121.9 237.6L122.3 239.2L120.9 238.3L119.5 239.2L119.9 237.6L118.7 236.6L120.3 236.5zM137.6 235L138.2 236.5L139.8 236.6L138.6 237.6L139 239.2L137.6 238.3L136.2 239.2L136.6 237.6L135.4 236.6L137 236.5zM154.2 235L154.8 236.5L156.4 236.6L155.2 237.6L155.6 239.2L154.2 238.3L152.8 239.2L153.2 237.6L152 236.6L153.6 236.5zM170.7 235L171.3 236.5L172.9 236.6L171.7 237.6L172.1 239.2L170.7 238.3L169.3 239.2L169.7 237.6L168.5 236.6L170.1 236.5z" fill="#06069a"/>
<path d="M104.5 270.5L137.6 271L179.6 272" stroke="#ff1493" stroke-width="1.2" stroke-dasharray="4 1.7" fill="none"/>
<path d="M102.3 269.5L103.5 268.3L104.5 269.3L105.5 268.3L106.7 269.5L105.7 270.5L106.7 271.5L105.5 272.7L104.5 271.7L103.5 272.7L102.3 271.5L103.3 270.5zM118.7 269.7L119.9 268.5L120.9 269.5L121.9 268.5L123.1 269.7L122.1 270.7L123.1 271.7L121.9 272.9L120.9 271.9L119.9 272.9L118.7 271.7L119.7 270.7zM135.4 270L136.6 268.8L137.6 269.8L138.6 268.8L139.8 270L138.8 271L139.8 272L138.6 273.2L137.6 272.2L136.6 273.2L135.4 272L136.4 271zM152 270.4L153.2 269.2L154.2 270.2L155.2 269.2L156.4 270.4L155.4 271.4L156.4 272.4L155.2 273.6L154.2 272.6L153.2 273.6L152 272.4L153 271.4zM168.5 270.8L169.7 269.6L170.7 270.6L171.7 269.6L172.9 270.8L171.9 271.8L172.9 272.8L171.7 274L170.7 273L169.7 274L168.5 272.8L169.5 271.8z" fill="#ff1493"/>
<text x="105.1" y="281" font-size="6.0" text-anchor="middle" fill="#111">490.0</text>
<text x="125.5" y="281" font-size="6.0" text-anchor="middle" fill="#111">492.5</text>
<text x="147.3" y="281" font-size="6.0" text-anchor="middle" fill="#111">495.0</text>
<text x="168.2" y="281" font-size="6.0" text-anchor="middle" fill="#111">497.5</text>
<text x="188.5" y="281" font-size="6.0" text-anchor="middle" fill="#111">500.0</text>
<text x="101.5" y="249.3" font-size="6.0" text-anchor="end" fill="#111">0.0015</text>
<text x="101.5" y="262.3" font-size="6.0" text-anchor="end" fill="#111">0.0010</text>
<text x="101.5" y="275" font-size="6.0" text-anchor="end" fill="#111">0.0005</text>
<text x="104.4" y="234.4" font-size="3.7" fill="#222">+5e2</text>
<rect x="38.9" y="230.05" width="210.1" height="124.85" fill="none" stroke="#8f8f8f" stroke-width="1.15"/>
<text transform="translate(48.4 362.3) scale(.89 1)" font-size="6.2" text-anchor="middle" fill="#151515">0</text>
<text transform="translate(86.6 362.3) scale(.89 1)" font-size="6.2" text-anchor="middle" fill="#151515">100</text>
<text transform="translate(124.8 362.3) scale(.89 1)" font-size="6.2" text-anchor="middle" fill="#151515">200</text>
<text transform="translate(163 362.3) scale(.89 1)" font-size="6.2" text-anchor="middle" fill="#151515">300</text>
<text transform="translate(201.2 362.3) scale(.89 1)" font-size="6.2" text-anchor="middle" fill="#151515">400</text>
<text transform="translate(239.4 362.3) scale(.89 1)" font-size="6.2" text-anchor="middle" fill="#151515">500</text>
<text transform="translate(35.3 352) scale(0.93 1)" font-size="6.0" text-anchor="end" fill="#151515">500.00</text>
<text transform="translate(35.3 336.66) scale(0.93 1)" font-size="6.0" text-anchor="end" fill="#151515">500.02</text>
<text transform="translate(35.3 321.31) scale(0.93 1)" font-size="6.0" text-anchor="end" fill="#151515">500.04</text>
<text transform="translate(35.3 305.97) scale(0.93 1)" font-size="6.0" text-anchor="end" fill="#151515">500.06</text>
<text transform="translate(35.3 290.63) scale(0.93 1)" font-size="6.0" text-anchor="end" fill="#151515">500.08</text>
<text transform="translate(35.3 275.29) scale(0.93 1)" font-size="6.0" text-anchor="end" fill="#151515">500.10</text>
<text transform="translate(35.3 259.94) scale(0.93 1)" font-size="6.0" text-anchor="end" fill="#151515">500.12</text>
<text transform="translate(35.3 244.6) scale(0.93 1)" font-size="6.0" text-anchor="end" fill="#151515">500.14</text>
<text x="143.95" y="228.55" font-size="8.9" font-weight="bold" text-anchor="middle" fill="#111">C5</text>
<text transform="translate(143.95 370.8) scale(.93 1)" font-family='"Liberation Serif", "DejaVu Serif", serif' font-size="9.2" font-weight="bold" text-anchor="middle" fill="#111">Iterations</text>
<text transform="translate(13 292.48) rotate(-90)" font-family='"Liberation Serif", "DejaVu Serif", serif' font-size="8.6" font-weight="bold" text-anchor="middle" fill="#111">Y--Fitness</text>
</g>
<g>
<clipPath id="clipC6"><rect x="334.4" y="228.4" width="210.1" height="124.8"/></clipPath>
<rect x="334.4" y="228.4" width="210.1" height="124.8" fill="#fff"/>
<path d="M343.8 228.4V353.2M382.08 228.4V353.2M420.36 228.4V353.2M458.64 228.4V353.2M496.92 228.4V353.2M535.2 228.4V353.2M334.4 255.1H544.5M334.4 318.7H544.5" stroke="#d6d6d6" stroke-width="0.55" fill="none"/>
<g clip-path="url(#clipC6)">
<path d="M343.8 240.4L344.6 245.1L345.3 248.1L346.1 250.3L346.9 252.1L347.6 253.6L348.4 254.8L349.2 255.8L349.9 256.7L350.7 257.5L351.5 258.2L353 259.3L354.5 260.2L356 260.9L357.6 261.5L359.1 262L360.6 262.5L362.2 262.8L363.7 263.2L365.2 263.5L366.8 263.8L368.3 264L369.8 264.3L371.4 264.5L372.9 264.7L374.4 264.9L376 265.1L377.5 265.3L379 265.5L380.5 265.7L382.1 265.8L385.1 266.1L388.2 266.4L391.3 266.6L394.3 266.9L397.4 267.1L400.5 267.3L403.5 267.5L406.6 267.6L409.6 267.8L412.7 267.9L415.8 268.1L418.8 268.3L421.9 268.5L425 268.6L428 268.8L431.1 269L434.1 269.2L437.2 269.4L440.3 269.6L443.3 269.8L446.4 270.1L449.5 270.3L452.5 270.5L455.6 270.7L458.6 270.9L461.7 271.1L464.8 271.4L467.8 271.6L470.9 271.9L474 272.1L477 272.4L480.1 272.6L483.1 272.9L486.2 273.1L489.3 273.4L492.3 273.6L495.4 273.9L498.5 274.1L501.5 274.3L504.6 274.5L507.6 274.7L510.7 274.9L513.8 275.1L516.8 275.3L519.9 275.5L523 275.7L526 275.9L529.1 276.1L532.1 276.3L534.8 276.5" stroke="#5b93d6" stroke-width="0.75" stroke-dasharray="3.8 1.4 0.8 1.4" fill="none"/>
<path d="M343.8 240.4v1.4M342.7 239.7l1.1 0.7l1.1 -0.7M351.5 258.2v1.4M350.3 257.5l1.1 0.7l1.1 -0.7M359.1 262v1.4M358 261.3l1.1 0.7l1.1 -0.7M366.8 263.8v1.4M365.6 263.1l1.1 0.7l1.1 -0.7M374.4 264.9v1.4M373.3 264.2l1.1 0.7l1.1 -0.7M382.1 265.8v1.4M381 265.1l1.1 0.7l1.1 -0.7M389.7 266.5v1.4M388.6 265.8l1.1 0.7l1.1 -0.7M397.4 267.1v1.4M396.3 266.4l1.1 0.7l1.1 -0.7M405 267.5v1.4M403.9 266.8l1.1 0.7l1.1 -0.7M412.7 267.9v1.4M411.6 267.2l1.1 0.7l1.1 -0.7M420.4 268.4v1.4M419.2 267.7l1.1 0.7l1.1 -0.7M428 268.8v1.4M426.9 268.1l1.1 0.7l1.1 -0.7M435.7 269.3v1.4M434.6 268.6l1.1 0.7l1.1 -0.7M443.3 269.8v1.4M442.2 269.1l1.1 0.7l1.1 -0.7M451 270.4v1.4M449.9 269.7l1.1 0.7l1.1 -0.7M458.6 270.9v1.4M457.5 270.2l1.1 0.7l1.1 -0.7M466.3 271.5v1.4M465.2 270.8l1.1 0.7l1.1 -0.7M474 272.1v1.4M472.8 271.4l1.1 0.7l1.1 -0.7M481.6 272.8v1.4M480.5 272.1l1.1 0.7l1.1 -0.7M489.3 273.4v1.4M488.1 272.7l1.1 0.7l1.1 -0.7M496.9 274v1.4M495.8 273.3l1.1 0.7l1.1 -0.7M504.6 274.5v1.4M503.5 273.8l1.1 0.7l1.1 -0.7M512.2 275v1.4M511.1 274.3l1.1 0.7l1.1 -0.7M519.9 275.5v1.4M518.8 274.8l1.1 0.7l1.1 -0.7M527.5 276v1.4M526.4 275.3l1.1 0.7l1.1 -0.7" stroke="#5b93d6" stroke-width="0.62" fill="none"/>
<path d="M343.8 237.8L344.6 246.8L345.3 252.3L346.1 256.4L346.9 259.6L347.6 262.1L348.4 264.3L349.2 266L349.9 267.5L350.7 268.7L351.5 269.6L353 271.1L354.5 272.2L356 273L357.6 273.9L359.1 274.7L360.6 275.7L362.2 276.6L363.7 277.5L365.2 278.3L366.8 279.1L368.3 279.7L369.8 280.3L371.4 280.8L372.9 281.3L374.4 281.9L376 282.4L377.5 282.9L379 283.5L380.5 284L382.1 284.4L385.1 285.1L388.2 285.8L391.3 286.6L394.3 287.4L397.4 288.2L400.5 288.9L403.5 289.6L406.6 290.4L409.6 291.1L412.7 291.8L415.8 292.3L418.8 292.8L421.9 293.3L425 293.7L428 294L431.1 294.4L434.1 294.7L437.2 295.1L440.3 295.4L443.3 295.8L446.4 296.1L449.5 296.5L452.5 296.8L455.6 297.2L458.6 297.6L461.7 298.1L464.8 298.6L467.8 299.2L470.9 299.7L474 300.3L477 300.8L480.1 301.3L483.1 301.8L486.2 302.3L489.3 302.8L492.3 303.3L495.4 303.8L498.5 304.2L501.5 304.7L504.6 305.1L507.6 305.5L510.7 305.9L513.8 306.3L516.8 306.6L519.9 307L523 307.4L526 307.7L529.1 307.9L532.1 308.2L534.8 308.3" stroke="#f59b12" stroke-width="1.2" stroke-dasharray="4 1.7" fill="none"/>
<path d="M343.8 235.9l1.9 3.4h-3.8zM351.5 267.7l1.9 3.4h-3.8zM359.1 272.8l1.9 3.4h-3.8zM366.8 277.2l1.9 3.4h-3.8zM374.4 280l1.9 3.4h-3.8zM382.1 282.5l1.9 3.4h-3.8zM389.7 284.3l1.9 3.4h-3.8zM397.4 286.3l1.9 3.4h-3.8zM405 288.1l1.9 3.4h-3.8zM412.7 289.9l1.9 3.4h-3.8zM420.4 291.2l1.9 3.4h-3.8zM428 292.1l1.9 3.4h-3.8zM435.7 293l1.9 3.4h-3.8zM443.3 293.9l1.9 3.4h-3.8zM451 294.8l1.9 3.4h-3.8zM458.6 295.7l1.9 3.4h-3.8zM466.3 297l1.9 3.4h-3.8zM474 298.4l1.9 3.4h-3.8zM481.6 299.7l1.9 3.4h-3.8zM489.3 300.9l1.9 3.4h-3.8zM496.9 302.1l1.9 3.4h-3.8zM504.6 303.2l1.9 3.4h-3.8zM512.2 304.2l1.9 3.4h-3.8zM519.9 305.1l1.9 3.4h-3.8zM527.5 305.9l1.9 3.4h-3.8z" fill="#f59b12"/>
<path d="M343.8 234L344.6 236.8L345.3 238.6L346.1 239.9L346.9 240.9L347.6 241.7L348.4 242.4L349.2 243L349.9 243.4L350.7 243.8L351.5 244.2L353 244.7L354.5 245.1L356 245.4L357.6 245.7L359.1 246L360.6 246.2L362.2 246.5L363.7 246.7L365.2 247L366.8 247.2L368.3 247.5L369.8 247.7L371.4 248L372.9 248.2L374.4 248.5L376 248.8L377.5 249.1L379 249.5L380.5 249.8L382.1 250L385.1 250.5L388.2 250.8L391.3 251.3L394.3 251.9L397.4 252.6L400.5 253.3L403.5 254L406.6 254.7L409.6 255.2L412.7 255.6L415.8 256L418.8 256.4L421.9 256.9L425 257.6L428 258.2L431.1 258.7L434.1 259.2L437.2 259.7L440.3 260.2L443.3 260.7L446.4 261.7L449.5 262.8L452.5 263.6L455.6 264.1L458.6 264.5L461.7 265.1L464.8 265.6L467.8 266.1L470.9 266.6L474 267.1L477 267.4L480.1 267.7L483.1 268L486.2 268.2L489.3 268.4L492.3 268.6L495.4 268.7L498.5 269L501.5 269.5L504.6 269.9L507.6 270.3L510.7 270.7L513.8 271.1L516.8 271.4L519.9 271.7L523 271.9L526 272.1L529.1 272.2L532.1 272.4L534.8 272.4" stroke="#0bd264" stroke-width="1.2" stroke-dasharray="4 1.7" fill="none"/>
<path d="M341.8 232h4v4h-4zM349.5 242.2h4v4h-4zM357.1 244h4v4h-4zM364.8 245.2h4v4h-4zM372.4 246.5h4v4h-4zM380.1 248h4v4h-4zM387.7 249.1h4v4h-4zM395.4 250.6h4v4h-4zM403 252.4h4v4h-4zM410.7 253.6h4v4h-4zM418.4 254.7h4v4h-4zM426 256.2h4v4h-4zM433.7 257.5h4v4h-4zM441.3 258.7h4v4h-4zM449 261.3h4v4h-4zM456.6 262.5h4v4h-4zM464.3 263.8h4v4h-4zM472 265.1h4v4h-4zM479.6 265.9h4v4h-4zM487.3 266.4h4v4h-4zM494.9 266.9h4v4h-4zM502.6 267.9h4v4h-4zM510.2 268.9h4v4h-4zM517.9 269.7h4v4h-4zM525.5 270.2h4v4h-4z" fill="#0bd264"/>
<path d="M343.8 234L344.6 235.8L345.3 237.2L346.1 238.3L346.9 239.4L347.6 240.3L348.4 241.2L349.2 242L349.9 242.7L350.7 243.5L351.5 244.2L353 245.6L354.5 246.9L356 248.2L357.6 249.4L359.1 250.5L360.6 251.6L362.2 252.7L363.7 253.8L365.2 254.7L366.8 255.6L368.3 256.4L369.8 257.2L371.4 257.9L372.9 258.6L374.4 259.5L376 260.4L377.5 261.4L379 262.5L380.5 263.6L382.1 264.5L385.1 266.3L388.2 268L391.3 269.7L394.3 271.4L397.4 272.9L400.5 274.4L403.5 275.9L406.6 277.1L409.6 278.3L412.7 279.3L415.8 280.1L418.8 280.7L421.9 281.4L425 282.1L428 282.9L431.1 283.7L434.1 284.7L437.2 285.6L440.3 286.5L443.3 287.5L446.4 288.5L449.5 289.5L452.5 290.5L455.6 291.6L458.6 292.5L461.7 293.4L464.8 294.2L467.8 294.9L470.9 295.6L474 296.4L477 297.3L480.1 298.3L483.1 299.5L486.2 300.9L489.3 302.2L492.3 303.5L495.4 304.7L498.5 305.8L501.5 306.8L504.6 307.8L507.6 309.1L510.7 310.5L513.8 311.8L516.8 313.1L519.9 314.2L523 315L526 315.7L529.1 316.3L532.1 316.8L534.8 317.2" stroke="#de4b34" stroke-width="1.2" stroke-dasharray="4 1.7" fill="none"/>
<path d="M343.8 231.4l1.4 2.6l-1.4 2.6l-1.4 -2.6zM351.5 241.6l1.4 2.6l-1.4 2.6l-1.4 -2.6zM359.1 247.9l1.4 2.6l-1.4 2.6l-1.4 -2.6zM366.8 253l1.4 2.6l-1.4 2.6l-1.4 -2.6zM374.4 256.9l1.4 2.6l-1.4 2.6l-1.4 -2.6zM382.1 261.9l1.4 2.6l-1.4 2.6l-1.4 -2.6zM389.7 266.3l1.4 2.6l-1.4 2.6l-1.4 -2.6zM397.4 270.3l1.4 2.6l-1.4 2.6l-1.4 -2.6zM405 273.9l1.4 2.6l-1.4 2.6l-1.4 -2.6zM412.7 276.7l1.4 2.6l-1.4 2.6l-1.4 -2.6zM420.4 278.5l1.4 2.6l-1.4 2.6l-1.4 -2.6zM428 280.3l1.4 2.6l-1.4 2.6l-1.4 -2.6zM435.7 282.6l1.4 2.6l-1.4 2.6l-1.4 -2.6zM443.3 284.9l1.4 2.6l-1.4 2.6l-1.4 -2.6zM451 287.4l1.4 2.6l-1.4 2.6l-1.4 -2.6zM458.6 289.9l1.4 2.6l-1.4 2.6l-1.4 -2.6zM466.3 292l1.4 2.6l-1.4 2.6l-1.4 -2.6zM474 293.8l1.4 2.6l-1.4 2.6l-1.4 -2.6zM481.6 296.3l1.4 2.6l-1.4 2.6l-1.4 -2.6zM489.3 299.6l1.4 2.6l-1.4 2.6l-1.4 -2.6zM496.9 302.7l1.4 2.6l-1.4 2.6l-1.4 -2.6zM504.6 305.2l1.4 2.6l-1.4 2.6l-1.4 -2.6zM512.2 308.5l1.4 2.6l-1.4 2.6l-1.4 -2.6zM519.9 311.6l1.4 2.6l-1.4 2.6l-1.4 -2.6zM527.5 313.4l1.4 2.6l-1.4 2.6l-1.4 -2.6z" fill="#de4b34"/>
<path d="M343.8 236.5L344.6 239.1L345.3 240.9L346.1 242.2L346.9 243.3L347.6 244.3L348.4 245.2L349.2 246L349.9 246.7L350.7 247.4L351.5 248L353 249.1L354.5 250.1L356 251L357.6 251.8L359.1 252.6L360.6 253.3L362.2 253.9L363.7 254.5L365.2 255.1L366.8 255.6L368.3 256.2L369.8 256.7L371.4 257.2L372.9 257.7L374.4 258.2L376 258.7L377.5 259.2L379 259.8L380.5 260.3L382.1 260.7L385.1 261.6L388.2 262.4L391.3 263.1L394.3 263.8L397.4 264.5L400.5 265.3L403.5 266L406.6 266.6L409.6 267.2L412.7 267.9L415.8 268.6L418.8 269.3L421.9 269.9L425 270.4L428 270.9L431.1 271.4L434.1 271.9L437.2 272.5L440.3 273.1L443.3 273.8L446.4 274.5L449.5 275.2L452.5 275.9L455.6 276.6L458.6 277.3L461.7 277.9L464.8 278.6L467.8 279.3L470.9 279.9L474 280.5L477 281L480.1 281.4L483.1 281.8L486.2 282.1L489.3 282.4L492.3 282.7L495.4 283L498.5 283.3L501.5 283.6L504.6 283.9L507.6 284.2L510.7 284.5L513.8 284.7L516.8 285L519.9 285.2L523 285.4L526 285.6L529.1 285.8L532.1 286L534.8 286.2" stroke="#ab76f7" stroke-width="1.2" stroke-dasharray="4 1.5 0.9 1.5" fill="none"/>
<path d="M342.1 236.5a1.8 1.8 0 1 0 3.5 0a1.8 1.8 0 1 0 -3.5 0zM349.7 248a1.8 1.8 0 1 0 3.5 0a1.8 1.8 0 1 0 -3.5 0zM357.4 252.6a1.8 1.8 0 1 0 3.5 0a1.8 1.8 0 1 0 -3.5 0zM365 255.6a1.8 1.8 0 1 0 3.5 0a1.8 1.8 0 1 0 -3.5 0zM372.7 258.2a1.8 1.8 0 1 0 3.5 0a1.8 1.8 0 1 0 -3.5 0zM380.3 260.7a1.8 1.8 0 1 0 3.5 0a1.8 1.8 0 1 0 -3.5 0zM388 262.8a1.8 1.8 0 1 0 3.5 0a1.8 1.8 0 1 0 -3.5 0zM395.6 264.5a1.8 1.8 0 1 0 3.5 0a1.8 1.8 0 1 0 -3.5 0zM403.3 266.3a1.8 1.8 0 1 0 3.5 0a1.8 1.8 0 1 0 -3.5 0zM411 267.9a1.8 1.8 0 1 0 3.5 0a1.8 1.8 0 1 0 -3.5 0zM418.6 269.6a1.8 1.8 0 1 0 3.5 0a1.8 1.8 0 1 0 -3.5 0zM426.3 270.9a1.8 1.8 0 1 0 3.5 0a1.8 1.8 0 1 0 -3.5 0zM433.9 272.2a1.8 1.8 0 1 0 3.5 0a1.8 1.8 0 1 0 -3.5 0zM441.6 273.8a1.8 1.8 0 1 0 3.5 0a1.8 1.8 0 1 0 -3.5 0zM449.2 275.6a1.8 1.8 0 1 0 3.5 0a1.8 1.8 0 1 0 -3.5 0zM456.9 277.3a1.8 1.8 0 1 0 3.5 0a1.8 1.8 0 1 0 -3.5 0zM464.5 278.9a1.8 1.8 0 1 0 3.5 0a1.8 1.8 0 1 0 -3.5 0zM472.2 280.5a1.8 1.8 0 1 0 3.5 0a1.8 1.8 0 1 0 -3.5 0zM479.9 281.6a1.8 1.8 0 1 0 3.5 0a1.8 1.8 0 1 0 -3.5 0zM487.5 282.4a1.8 1.8 0 1 0 3.5 0a1.8 1.8 0 1 0 -3.5 0zM495.2 283.1a1.8 1.8 0 1 0 3.5 0a1.8 1.8 0 1 0 -3.5 0zM502.8 283.9a1.8 1.8 0 1 0 3.5 0a1.8 1.8 0 1 0 -3.5 0zM510.5 284.6a1.8 1.8 0 1 0 3.5 0a1.8 1.8 0 1 0 -3.5 0zM518.1 285.2a1.8 1.8 0 1 0 3.5 0a1.8 1.8 0 1 0 -3.5 0zM525.8 285.7a1.8 1.8 0 1 0 3.5 0a1.8 1.8 0 1 0 -3.5 0z" fill="#ab76f7"/>
<path d="M343.8 240.4L344.6 246.1L345.3 249.6L346.1 252.3L346.9 254.4L347.6 256.2L348.4 257.7L349.2 259L349.9 260.2L350.7 261.1L351.5 262L353 263.4L354.5 264.6L356 265.5L357.6 266.4L359.1 267.1L360.6 267.7L362.2 268.3L363.7 268.8L365.2 269.2L366.8 269.6L368.3 270L369.8 270.4L371.4 270.8L372.9 271.1L374.4 271.4L376 271.7L377.5 271.9L379 272.1L380.5 272.3L382.1 272.4L385.1 272.8L388.2 273.1L391.3 273.4L394.3 273.7L397.4 274L400.5 274.2L403.5 274.4L406.6 274.6L409.6 274.8L412.7 275L415.8 275.2L418.8 275.4L421.9 275.6L425 275.8L428 276L431.1 276.2L434.1 276.5L437.2 276.7L440.3 276.9L443.3 277.1L446.4 277.3L449.5 277.5L452.5 277.7L455.6 277.9L458.6 278L461.7 278.2L464.8 278.4L467.8 278.5L470.9 278.7L474 278.9L477 279L480.1 279.2L483.1 279.3L486.2 279.4L489.3 279.6L492.3 279.7L495.4 279.8L498.5 279.9L501.5 279.9L504.6 280L507.6 280.1L510.7 280.2L513.8 280.2L516.8 280.3L519.9 280.4L523 280.4L526 280.5L529.1 280.5L532.1 280.5L534.8 280.6" stroke="#ad5f35" stroke-width="1.1" stroke-dasharray="4 1.7" fill="none"/>
<path d="M343.8 238.9v3M351.5 260.5v3M359.1 265.6v3M366.8 268.1v3M374.4 269.9v3M382.1 270.9v3M389.7 271.8v3M397.4 272.5v3M405 273v3M412.7 273.5v3M420.4 274v3M428 274.5v3M435.7 275.1v3M443.3 275.6v3M451 276.1v3M458.6 276.5v3M466.3 277v3M474 277.4v3M481.6 277.7v3M489.3 278.1v3M496.9 278.3v3M504.6 278.5v3M512.2 278.7v3M519.9 278.9v3M527.5 279v3" stroke="#ad5f35" stroke-width="0.9" fill="none"/>
<path d="M343.8 235.3L344.6 237.8L345.3 239.4L346.1 240.8L346.9 241.9L347.6 242.9L348.4 243.8L349.2 244.6L349.9 245.4L350.7 246.1L351.5 246.7L353 248L354.5 249.1L356 250.2L357.6 251.1L359.1 251.8L360.6 252.4L362.2 253L363.7 253.5L365.2 253.9L366.8 254.4L368.3 254.8L369.8 255.1L371.4 255.5L372.9 255.8L374.4 256.1L376 256.5L377.5 256.8L379 257.2L380.5 257.5L382.1 257.7L385.1 258L388.2 258.2L391.3 258.3L394.3 258.5L397.4 258.7L400.5 258.9L403.5 259.1L406.6 259.4L409.6 259.6L412.7 259.8L415.8 260L418.8 260.1L421.9 260.3L425 260.4L428 260.5L431.1 260.7L434.1 260.8L437.2 260.9L440.3 261L443.3 261L446.4 261.1L449.5 261.2L452.5 261.3L455.6 261.4L458.6 261.5L461.7 261.6L464.8 261.7L467.8 261.8L470.9 261.8L474 261.9L477 262L480.1 262.1L483.1 262.2L486.2 262.3L489.3 262.3L492.3 262.4L495.4 262.5L498.5 262.5L501.5 262.6L504.6 262.7L507.6 262.7L510.7 262.8L513.8 262.9L516.8 262.9L519.9 263L523 263.1L526 263.1L529.1 263.2L532.1 263.2L534.8 263.3" stroke="#e682de" stroke-width="0.75" stroke-dasharray="3.8 1.4 0.8 1.4" fill="none"/>
<path d="M342.5 235.3h2.6m-1.3 -1.3v2.6M350.2 246.7h2.6m-1.3 -1.3v2.6M357.8 251.8h2.6m-1.3 -1.3v2.6M365.5 254.4h2.6m-1.3 -1.3v2.6M373.1 256.1h2.6m-1.3 -1.3v2.6M380.8 257.7h2.6m-1.3 -1.3v2.6M388.4 258.3h2.6m-1.3 -1.3v2.6M396.1 258.7h2.6m-1.3 -1.3v2.6M403.7 259.2h2.6m-1.3 -1.3v2.6M411.4 259.8h2.6m-1.3 -1.3v2.6M419.1 260.2h2.6m-1.3 -1.3v2.6M426.7 260.5h2.6m-1.3 -1.3v2.6M434.4 260.8h2.6m-1.3 -1.3v2.6M442 261h2.6m-1.3 -1.3v2.6M449.7 261.3h2.6m-1.3 -1.3v2.6M457.3 261.5h2.6m-1.3 -1.3v2.6M465 261.7h2.6m-1.3 -1.3v2.6M472.7 261.9h2.6m-1.3 -1.3v2.6M480.3 262.1h2.6m-1.3 -1.3v2.6M488 262.3h2.6m-1.3 -1.3v2.6M495.6 262.5h2.6m-1.3 -1.3v2.6M503.3 262.7h2.6m-1.3 -1.3v2.6M510.9 262.8h2.6m-1.3 -1.3v2.6M518.6 263h2.6m-1.3 -1.3v2.6M526.2 263.1h2.6m-1.3 -1.3v2.6" stroke="#e682de" stroke-width="0.65" fill="none"/>
<path d="M343.8 241.6L344.6 247L345.3 250.3L346.1 252.8L346.9 254.7L347.6 256.2L348.4 257.5L349.2 258.5L349.9 259.4L350.7 260.1L351.5 260.7L353 261.6L354.5 262.3L356 262.8L357.6 263.3L359.1 263.8L360.6 264.3L362.2 264.7L363.7 265.1L365.2 265.5L366.8 265.8L368.3 266.1L369.8 266.4L371.4 266.6L372.9 266.8L374.4 267.1L376 267.4L377.5 267.6L379 267.9L380.5 268.2L382.1 268.4L385.1 268.7L388.2 269L391.3 269.2L394.3 269.4L397.4 269.6L400.5 269.9L403.5 270.1L406.6 270.3L409.6 270.6L412.7 270.8L415.8 270.9L418.8 271.1L421.9 271.2L425 271.3L428 271.4L431.1 271.5L434.1 271.6L437.2 271.7L440.3 271.8L443.3 271.8L446.4 271.9L449.5 272L452.5 272L455.6 272.1L458.6 272.2L461.7 272.3L464.8 272.3L467.8 272.4L470.9 272.5L474 272.5L477 272.6L480.1 272.6L483.1 272.7L486.2 272.8L489.3 272.8L492.3 272.9L495.4 272.9L498.5 273L501.5 273L504.6 273.1L507.6 273.1L510.7 273.2L513.8 273.2L516.8 273.2L519.9 273.3L523 273.3L526 273.4L529.1 273.4L532.1 273.4L534.8 273.5" stroke="#b1b1b1" stroke-width="1.1" stroke-dasharray="4 1.7" fill="none"/>
<path d="M342.2 241.6a1.6 1.6 0 1 0 3.1 0a1.6 1.6 0 1 0 -3.1 0zM349.9 260.7a1.6 1.6 0 1 0 3.1 0a1.6 1.6 0 1 0 -3.1 0zM357.6 263.8a1.6 1.6 0 1 0 3.1 0a1.6 1.6 0 1 0 -3.1 0zM365.2 265.8a1.6 1.6 0 1 0 3.1 0a1.6 1.6 0 1 0 -3.1 0zM372.9 267.1a1.6 1.6 0 1 0 3.1 0a1.6 1.6 0 1 0 -3.1 0zM380.5 268.4a1.6 1.6 0 1 0 3.1 0a1.6 1.6 0 1 0 -3.1 0zM388.2 269.1a1.6 1.6 0 1 0 3.1 0a1.6 1.6 0 1 0 -3.1 0zM395.8 269.6a1.6 1.6 0 1 0 3.1 0a1.6 1.6 0 1 0 -3.1 0zM403.5 270.2a1.6 1.6 0 1 0 3.1 0a1.6 1.6 0 1 0 -3.1 0zM411.2 270.8a1.6 1.6 0 1 0 3.1 0a1.6 1.6 0 1 0 -3.1 0zM418.8 271.2a1.6 1.6 0 1 0 3.1 0a1.6 1.6 0 1 0 -3.1 0zM426.5 271.4a1.6 1.6 0 1 0 3.1 0a1.6 1.6 0 1 0 -3.1 0zM434.1 271.7a1.6 1.6 0 1 0 3.1 0a1.6 1.6 0 1 0 -3.1 0zM441.8 271.8a1.6 1.6 0 1 0 3.1 0a1.6 1.6 0 1 0 -3.1 0zM449.4 272a1.6 1.6 0 1 0 3.1 0a1.6 1.6 0 1 0 -3.1 0zM457.1 272.2a1.6 1.6 0 1 0 3.1 0a1.6 1.6 0 1 0 -3.1 0zM464.7 272.4a1.6 1.6 0 1 0 3.1 0a1.6 1.6 0 1 0 -3.1 0zM472.4 272.5a1.6 1.6 0 1 0 3.1 0a1.6 1.6 0 1 0 -3.1 0zM480.1 272.7a1.6 1.6 0 1 0 3.1 0a1.6 1.6 0 1 0 -3.1 0zM487.7 272.8a1.6 1.6 0 1 0 3.1 0a1.6 1.6 0 1 0 -3.1 0zM495.4 272.9a1.6 1.6 0 1 0 3.1 0a1.6 1.6 0 1 0 -3.1 0zM503 273.1a1.6 1.6 0 1 0 3.1 0a1.6 1.6 0 1 0 -3.1 0zM510.7 273.2a1.6 1.6 0 1 0 3.1 0a1.6 1.6 0 1 0 -3.1 0zM518.3 273.3a1.6 1.6 0 1 0 3.1 0a1.6 1.6 0 1 0 -3.1 0zM526 273.4a1.6 1.6 0 1 0 3.1 0a1.6 1.6 0 1 0 -3.1 0z" fill="#b1b1b1"/>
<path d="M343.8 242.9L344.6 247.5L345.3 250.4L346.1 252.6L346.9 254.4L347.6 255.8L348.4 257.1L349.2 258.2L349.9 259.1L350.7 260L351.5 260.7L353 262L354.5 263L356 263.9L357.6 264.7L359.1 265.3L360.6 265.9L362.2 266.4L363.7 266.8L365.2 267.2L366.8 267.6L368.3 268L369.8 268.3L371.4 268.6L372.9 268.9L374.4 269.1L376 269.4L377.5 269.6L379 269.8L380.5 270L382.1 270.1L385.1 270.5L388.2 270.8L391.3 271.1L394.3 271.4L397.4 271.7L400.5 272L403.5 272.3L406.6 272.6L409.6 272.8L412.7 272.9L415.8 273.1L418.8 273.4L421.9 273.6L425 273.8L428 274L431.1 274.2L434.1 274.4L437.2 274.6L440.3 274.8L443.3 275L446.4 275.2L449.5 275.4L452.5 275.6L455.6 275.8L458.6 276L461.7 276.2L464.8 276.4L467.8 276.6L470.9 276.7L474 276.9L477 277.1L480.1 277.3L483.1 277.4L486.2 277.6L489.3 277.7L492.3 277.9L495.4 278L498.5 278.1L501.5 278.2L504.6 278.3L507.6 278.4L510.7 278.5L513.8 278.6L516.8 278.7L519.9 278.7L523 278.8L526 278.9L529.1 278.9L532.1 279L534.8 279" stroke="#cfcf00" stroke-width="1.2" stroke-dasharray="4 1.7" fill="none"/>
<path d="M341.9 242.9a1.9 1.9 0 1 0 3.8 0a1.9 1.9 0 1 0 -3.8 0zM349.6 260.7a1.9 1.9 0 1 0 3.8 0a1.9 1.9 0 1 0 -3.8 0zM357.2 265.3a1.9 1.9 0 1 0 3.8 0a1.9 1.9 0 1 0 -3.8 0zM364.9 267.6a1.9 1.9 0 1 0 3.8 0a1.9 1.9 0 1 0 -3.8 0zM372.5 269.1a1.9 1.9 0 1 0 3.8 0a1.9 1.9 0 1 0 -3.8 0zM380.2 270.1a1.9 1.9 0 1 0 3.8 0a1.9 1.9 0 1 0 -3.8 0zM387.8 270.9a1.9 1.9 0 1 0 3.8 0a1.9 1.9 0 1 0 -3.8 0zM395.5 271.7a1.9 1.9 0 1 0 3.8 0a1.9 1.9 0 1 0 -3.8 0zM403.1 272.4a1.9 1.9 0 1 0 3.8 0a1.9 1.9 0 1 0 -3.8 0zM410.8 272.9a1.9 1.9 0 1 0 3.8 0a1.9 1.9 0 1 0 -3.8 0zM418.5 273.5a1.9 1.9 0 1 0 3.8 0a1.9 1.9 0 1 0 -3.8 0zM426.1 274a1.9 1.9 0 1 0 3.8 0a1.9 1.9 0 1 0 -3.8 0zM433.8 274.5a1.9 1.9 0 1 0 3.8 0a1.9 1.9 0 1 0 -3.8 0zM441.4 275a1.9 1.9 0 1 0 3.8 0a1.9 1.9 0 1 0 -3.8 0zM449.1 275.5a1.9 1.9 0 1 0 3.8 0a1.9 1.9 0 1 0 -3.8 0zM456.7 276a1.9 1.9 0 1 0 3.8 0a1.9 1.9 0 1 0 -3.8 0zM464.4 276.5a1.9 1.9 0 1 0 3.8 0a1.9 1.9 0 1 0 -3.8 0zM472.1 276.9a1.9 1.9 0 1 0 3.8 0a1.9 1.9 0 1 0 -3.8 0zM479.7 277.3a1.9 1.9 0 1 0 3.8 0a1.9 1.9 0 1 0 -3.8 0zM487.4 277.7a1.9 1.9 0 1 0 3.8 0a1.9 1.9 0 1 0 -3.8 0zM495 278a1.9 1.9 0 1 0 3.8 0a1.9 1.9 0 1 0 -3.8 0zM502.7 278.3a1.9 1.9 0 1 0 3.8 0a1.9 1.9 0 1 0 -3.8 0zM510.3 278.5a1.9 1.9 0 1 0 3.8 0a1.9 1.9 0 1 0 -3.8 0zM518 278.7a1.9 1.9 0 1 0 3.8 0a1.9 1.9 0 1 0 -3.8 0zM525.6 278.9a1.9 1.9 0 1 0 3.8 0a1.9 1.9 0 1 0 -3.8 0z" fill="#cfcf00"/>
<path d="M343.8 234.8L344.6 236.8L345.3 238.2L346.1 239.4L346.9 240.5L347.6 241.4L348.4 242.3L349.2 243.2L349.9 244L350.7 244.7L351.5 245.5L353 246.8L354.5 248.2L356 249.5L357.6 250.7L359.1 251.8L360.6 252.9L362.2 253.9L363.7 254.9L365.2 255.9L366.8 256.9L368.3 257.9L369.8 259L371.4 260.1L372.9 261.1L374.4 262L376 262.8L377.5 263.6L379 264.3L380.5 265L382.1 265.8L385.1 267.6L388.2 269.5L391.3 271.2L394.3 272.6L397.4 274L400.5 275.3L403.5 276.6L406.6 277.9L409.6 279.2L412.7 280.3L415.8 281.2L418.8 282L421.9 282.7L425 283.3L428 283.9L431.1 284.4L434.1 284.9L437.2 285.4L440.3 285.8L443.3 286.1L446.4 286.4L449.5 286.7L452.5 287L455.6 287.2L458.6 287.5L461.7 287.7L464.8 287.9L467.8 288.1L470.9 288.3L474 288.5L477 288.7L480.1 288.9L483.1 289.1L486.2 289.3L489.3 289.5L492.3 289.7L495.4 289.9L498.5 290.1L501.5 290.3L504.6 290.5L507.6 290.7L510.7 290.9L513.8 291.1L516.8 291.3L519.9 291.6L523 291.9L526 292.1L529.1 292.4L532.1 292.7L534.8 293" stroke="#ff8f57" stroke-width="0.85" stroke-dasharray="3.8 1.4 0.8 1.4" fill="none"/>
<path d="M342.3 233.3l3 3m0 -3l-3 3M350 244l3 3m0 -3l-3 3M357.6 250.3l3 3m0 -3l-3 3M365.3 255.4l3 3m0 -3l-3 3M372.9 260.5l3 3m0 -3l-3 3M380.6 264.3l3 3m0 -3l-3 3M388.2 268.9l3 3m0 -3l-3 3M395.9 272.5l3 3m0 -3l-3 3M403.5 275.8l3 3m0 -3l-3 3M411.2 278.8l3 3m0 -3l-3 3M418.9 280.9l3 3m0 -3l-3 3M426.5 282.4l3 3m0 -3l-3 3M434.2 283.7l3 3m0 -3l-3 3M441.8 284.6l3 3m0 -3l-3 3M449.5 285.3l3 3m0 -3l-3 3M457.1 286l3 3m0 -3l-3 3M464.8 286.5l3 3m0 -3l-3 3M472.5 287l3 3m0 -3l-3 3M480.1 287.5l3 3m0 -3l-3 3M487.8 288l3 3m0 -3l-3 3M495.4 288.5l3 3m0 -3l-3 3M503.1 289l3 3m0 -3l-3 3M510.7 289.5l3 3m0 -3l-3 3M518.4 290.1l3 3m0 -3l-3 3M526 290.8l3 3m0 -3l-3 3" stroke="#ff8f57" stroke-width="0.66" fill="none"/>
<path d="M343.8 245.5L344.6 252.3L345.3 256.7L346.1 260L346.9 262.8L347.6 265.1L348.4 267.2L349.2 269L349.9 270.6L350.7 272.1L351.5 273.5L353 275.8L354.5 277.7L356 279.4L357.6 280.9L359.1 282.4L360.6 283.7L362.2 285L363.7 286.1L365.2 287.2L366.8 288.2L368.3 289.2L369.8 290.1L371.4 291L372.9 291.8L374.4 292.5L376 293.2L377.5 293.8L379 294.4L380.5 295L382.1 295.6L385.1 296.9L388.2 298.3L391.3 299.5L394.3 300.8L397.4 302L400.5 303L403.5 304L406.6 304.9L409.6 305.8L412.7 306.5L415.8 307.3L418.8 308L421.9 308.6L425 309.3L428 309.9L431.1 310.4L434.1 311L437.2 311.7L440.3 312.5L443.3 313.4L446.4 314.6L449.5 316L452.5 317.6L455.6 319.6L458.6 321.3L461.7 322.4L464.8 323.3L467.8 324.5L470.9 325.8L474 326.9L477 327.4L480.1 327.9L483.1 328.6L486.2 329.9L489.3 331.2L492.3 332.3L495.4 333.3L498.5 334.2L501.5 335L504.6 335.8L507.6 337L510.7 338.4L513.8 339.9L516.8 341.5L519.9 342.9L523 344L526 345L529.1 346L532.1 346.9L534.8 347.7" stroke="#06069a" stroke-width="1.2" stroke-dasharray="4 1.7" fill="none"/>
<path d="M343.8 243.3L344.4 244.7L345.8 244.8L344.7 245.8L345.1 247.2L343.8 246.4L342.5 247.2L342.9 245.8L341.8 244.8L343.2 244.7zM351.5 271.3L352 272.7L353.5 272.8L352.4 273.8L352.7 275.2L351.5 274.4L350.2 275.2L350.5 273.8L349.4 272.8L350.9 272.7zM359.1 280.2L359.7 281.6L361.2 281.7L360 282.7L360.4 284.1L359.1 283.3L357.8 284.1L358.2 282.7L357.1 281.7L358.5 281.6zM366.8 286.1L367.3 287.4L368.8 287.6L367.7 288.5L368 290L366.8 289.2L365.5 290L365.8 288.5L364.7 287.6L366.2 287.4zM374.4 290.4L375 291.8L376.5 291.9L375.3 292.8L375.7 294.3L374.4 293.5L373.2 294.3L373.5 292.8L372.4 291.9L373.9 291.8zM382.1 293.5L382.6 294.8L384.1 294.9L383 295.9L383.3 297.3L382.1 296.6L380.8 297.3L381.2 295.9L380 294.9L381.5 294.8zM389.7 296.8L390.3 298.1L391.8 298.2L390.7 299.2L391 300.6L389.7 299.9L388.5 300.6L388.8 299.2L387.7 298.2L389.2 298.1zM397.4 299.8L398 301.2L399.4 301.3L398.3 302.3L398.7 303.7L397.4 302.9L396.1 303.7L396.5 302.3L395.3 301.3L396.8 301.2zM405 302.4L405.6 303.7L407.1 303.8L406 304.8L406.3 306.2L405 305.5L403.8 306.2L404.1 304.8L403 303.8L404.5 303.7zM412.7 304.4L413.3 305.8L414.7 305.9L413.6 306.8L414 308.3L412.7 307.5L411.4 308.3L411.8 306.8L410.7 305.9L412.1 305.8zM420.4 306.2L420.9 307.5L422.4 307.7L421.3 308.6L421.6 310.1L420.4 309.3L419.1 310.1L419.4 308.6L418.3 307.7L419.8 307.5zM428 307.7L428.6 309.1L430.1 309.2L428.9 310.2L429.3 311.6L428 310.8L426.8 311.6L427.1 310.2L426 309.2L427.4 309.1zM435.7 309.2L436.2 310.6L437.7 310.7L436.6 311.7L436.9 313.1L435.7 312.3L434.4 313.1L434.8 311.7L433.6 310.7L435.1 310.6zM443.3 311.3L443.9 312.6L445.4 312.8L444.2 313.7L444.6 315.2L443.3 314.4L442.1 315.2L442.4 313.7L441.3 312.8L442.8 312.6zM451 314.6L451.6 315.9L453 316.1L451.9 317L452.2 318.5L451 317.7L449.7 318.5L450.1 317L448.9 316.1L450.4 315.9zM458.6 319.2L459.2 320.5L460.7 320.6L459.6 321.6L459.9 323L458.6 322.3L457.4 323L457.7 321.6L456.6 320.6L458.1 320.5zM466.3 321.7L466.9 323.1L468.3 323.2L467.2 324.2L467.6 325.6L466.3 324.8L465 325.6L465.4 324.2L464.3 323.2L465.7 323.1zM474 324.8L474.5 326.1L476 326.2L474.9 327.2L475.2 328.6L474 327.9L472.7 328.6L473 327.2L471.9 326.2L473.4 326.1zM481.6 326L482.2 327.4L483.7 327.5L482.5 328.5L482.9 329.9L481.6 329.1L480.3 329.9L480.7 328.5L479.6 327.5L481 327.4zM489.3 329.1L489.8 330.5L491.3 330.6L490.2 331.5L490.5 333L489.3 332.2L488 333L488.3 331.5L487.2 330.6L488.7 330.5zM496.9 331.6L497.5 333L499 333.1L497.8 334.1L498.2 335.5L496.9 334.7L495.7 335.5L496 334.1L494.9 333.1L496.4 333zM504.6 333.7L505.1 335L506.6 335.2L505.5 336.1L505.8 337.6L504.6 336.8L503.3 337.6L503.7 336.1L502.5 335.2L504 335zM512.2 337L512.8 338.3L514.3 338.5L513.2 339.4L513.5 340.9L512.2 340.1L511 340.9L511.3 339.4L510.2 338.5L511.7 338.3zM519.9 340.8L520.5 342.2L521.9 342.3L520.8 343.2L521.2 344.7L519.9 343.9L518.6 344.7L519 343.2L517.8 342.3L519.3 342.2zM527.5 343.3L528.1 344.7L529.6 344.8L528.5 345.8L528.8 347.2L527.5 346.5L526.3 347.2L526.6 345.8L525.5 344.8L527 344.7z" fill="#06069a"/>
<path d="M343.8 237.8L344.6 244.5L345.3 248.9L346.1 252.3L346.9 255.2L347.6 257.7L348.4 259.9L349.2 262L349.9 263.8L350.7 265.5L351.5 267.1L353 270L354.5 272.5L356 274.8L357.6 276.8L359.1 278.5L360.6 280.1L362.2 281.5L363.7 282.8L365.2 283.9L366.8 284.9L368.3 285.7L369.8 286.4L371.4 287L372.9 287.6L374.4 288.2L376 288.8L377.5 289.4L379 290L380.5 290.7L382.1 291.3L385.1 292.6L388.2 293.9L391.3 295.2L394.3 296.5L397.4 297.6L400.5 298.5L403.5 299.3L406.6 300.1L409.6 300.8L412.7 301.5L415.8 301.9L418.8 302.3L421.9 302.7L425 303.3L428 303.9L431.1 304.6L434.1 305.3L437.2 306L440.3 306.7L443.3 307.5L446.4 308.3L449.5 309.2L452.5 310L455.6 310.8L458.6 311.6L461.7 312.4L464.8 313.2L467.8 314L470.9 314.8L474 315.5L477 316.1L480.1 316.6L483.1 317L486.2 317.5L489.3 317.8L492.3 318.2L495.4 318.6L498.5 319L501.5 319.3L504.6 319.7L507.6 320.1L510.7 320.4L513.8 320.8L516.8 321.1L519.9 321.5L523 321.8L526 322.1L529.1 322.5L532.1 323L534.8 323.5" stroke="#ff1493" stroke-width="1.2" stroke-dasharray="4 1.7" fill="none"/>
<path d="M341.8 236.9L342.9 235.8L343.8 236.7L344.7 235.8L345.9 236.9L344.9 237.8L345.9 238.7L344.7 239.9L343.8 239L342.9 239.9L341.8 238.7L342.7 237.8zM349.4 266.2L350.6 265L351.5 265.9L352.4 265L353.5 266.2L352.6 267.1L353.5 268L352.4 269.1L351.5 268.2L350.6 269.1L349.4 268L350.3 267.1zM357.1 277.6L358.2 276.5L359.1 277.4L360 276.5L361.2 277.6L360.3 278.5L361.2 279.4L360 280.6L359.1 279.7L358.2 280.6L357.1 279.4L358 278.5zM364.7 284L365.9 282.9L366.8 283.8L367.7 282.9L368.8 284L367.9 284.9L368.8 285.8L367.7 287L366.8 286.1L365.9 287L364.7 285.8L365.6 284.9zM372.4 287.3L373.5 286.2L374.4 287.1L375.3 286.2L376.5 287.3L375.6 288.2L376.5 289.1L375.3 290.3L374.4 289.4L373.5 290.3L372.4 289.1L373.3 288.2zM380 290.4L381.2 289.2L382.1 290.1L383 289.2L384.1 290.4L383.2 291.3L384.1 292.2L383 293.3L382.1 292.4L381.2 293.3L380 292.2L380.9 291.3zM387.7 293.7L388.8 292.5L389.7 293.4L390.6 292.5L391.8 293.7L390.9 294.6L391.8 295.5L390.6 296.6L389.7 295.7L388.8 296.6L387.7 295.5L388.6 294.6zM395.3 296.7L396.5 295.6L397.4 296.5L398.3 295.6L399.4 296.7L398.5 297.6L399.4 298.5L398.3 299.7L397.4 298.8L396.5 299.7L395.3 298.5L396.2 297.6zM403 298.8L404.1 297.6L405 298.5L405.9 297.6L407.1 298.8L406.2 299.7L407.1 300.6L405.9 301.7L405 300.8L404.1 301.7L403 300.6L403.9 299.7zM410.7 300.6L411.8 299.4L412.7 300.3L413.6 299.4L414.8 300.6L413.9 301.5L414.8 302.4L413.6 303.5L412.7 302.6L411.8 303.5L410.7 302.4L411.6 301.5zM418.3 301.6L419.5 300.4L420.4 301.3L421.3 300.4L422.4 301.6L421.5 302.5L422.4 303.4L421.3 304.5L420.4 303.6L419.5 304.5L418.3 303.4L419.2 302.5zM426 303L427.1 301.9L428 302.8L428.9 301.9L430.1 303L429.2 303.9L430.1 304.8L428.9 306L428 305.1L427.1 306L426 304.8L426.9 303.9zM433.6 304.7L434.8 303.6L435.7 304.5L436.6 303.6L437.7 304.7L436.8 305.6L437.7 306.5L436.6 307.7L435.7 306.8L434.8 307.7L433.6 306.5L434.5 305.6zM441.3 306.6L442.4 305.4L443.3 306.4L444.2 305.4L445.4 306.6L444.5 307.5L445.4 308.4L444.2 309.5L443.3 308.6L442.4 309.5L441.3 308.4L442.2 307.5zM448.9 308.7L450.1 307.5L451 308.4L451.9 307.5L453 308.7L452.1 309.6L453 310.5L451.9 311.6L451 310.7L450.1 311.6L448.9 310.5L449.8 309.6zM456.6 310.7L457.7 309.6L458.6 310.5L459.5 309.6L460.7 310.7L459.8 311.6L460.7 312.5L459.5 313.7L458.6 312.8L457.7 313.7L456.6 312.5L457.5 311.6zM464.2 312.7L465.4 311.6L466.3 312.5L467.2 311.6L468.3 312.7L467.4 313.6L468.3 314.5L467.2 315.7L466.3 314.8L465.4 315.7L464.2 314.5L465.1 313.6zM471.9 314.6L473.1 313.4L474 314.3L474.9 313.4L476 314.6L475.1 315.5L476 316.4L474.9 317.5L474 316.6L473.1 317.5L471.9 316.4L472.8 315.5zM479.6 315.9L480.7 314.8L481.6 315.7L482.5 314.8L483.7 315.9L482.8 316.8L483.7 317.7L482.5 318.9L481.6 318L480.7 318.9L479.6 317.7L480.5 316.8zM487.2 316.9L488.4 315.8L489.3 316.7L490.2 315.8L491.3 316.9L490.4 317.8L491.3 318.7L490.2 319.9L489.3 319L488.4 319.9L487.2 318.7L488.1 317.8zM494.9 317.9L496 316.7L496.9 317.6L497.8 316.7L499 317.9L498.1 318.8L499 319.7L497.8 320.8L496.9 319.9L496 320.8L494.9 319.7L495.8 318.8zM502.5 318.8L503.7 317.7L504.6 318.6L505.5 317.7L506.6 318.8L505.7 319.7L506.6 320.6L505.5 321.8L504.6 320.9L503.7 321.8L502.5 320.6L503.4 319.7zM510.2 319.7L511.3 318.6L512.2 319.5L513.1 318.6L514.3 319.7L513.4 320.6L514.3 321.5L513.1 322.7L512.2 321.8L511.3 322.7L510.2 321.5L511.1 320.6zM517.8 320.6L519 319.4L519.9 320.3L520.8 319.4L521.9 320.6L521 321.5L521.9 322.4L520.8 323.5L519.9 322.6L519 323.5L517.8 322.4L518.7 321.5zM525.5 321.4L526.6 320.3L527.5 321.2L528.4 320.3L529.6 321.4L528.7 322.3L529.6 323.2L528.4 324.4L527.5 323.5L526.6 324.4L525.5 323.2L526.4 322.3z" fill="#ff1493"/>
</g>
<rect x="334.4" y="228.4" width="210.1" height="124.8" fill="none" stroke="#8f8f8f" stroke-width="1.15"/>
<text transform="translate(343.8 360.6) scale(.89 1)" font-size="6.2" text-anchor="middle" fill="#151515">0</text>
<text transform="translate(382.08 360.6) scale(.89 1)" font-size="6.2" text-anchor="middle" fill="#151515">100</text>
<text transform="translate(420.36 360.6) scale(.89 1)" font-size="6.2" text-anchor="middle" fill="#151515">200</text>
<text transform="translate(458.64 360.6) scale(.89 1)" font-size="6.2" text-anchor="middle" fill="#151515">300</text>
<text transform="translate(496.92 360.6) scale(.89 1)" font-size="6.2" text-anchor="middle" fill="#151515">400</text>
<text transform="translate(535.2 360.6) scale(.89 1)" font-size="6.2" text-anchor="middle" fill="#151515">500</text>
<text x="332.4" y="257.6" font-size="6" text-anchor="end" fill="#151515">10<tspan dy="-2.3" font-size="4">5</tspan></text>
<text x="332.4" y="321.2" font-size="6" text-anchor="end" fill="#151515">10<tspan dy="-2.3" font-size="4">4</tspan></text>
<text x="439.45" y="226.9" font-size="8.9" font-weight="bold" text-anchor="middle" fill="#111">C6</text>
<text transform="translate(439.45 369.1) scale(.93 1)" font-family='"Liberation Serif", "DejaVu Serif", serif' font-size="9.2" font-weight="bold" text-anchor="middle" fill="#111">Iterations</text>
<text transform="translate(317.8 290.8) rotate(-90)" font-family='"Liberation Serif", "DejaVu Serif", serif' font-size="8.6" font-weight="bold" text-anchor="middle" fill="#111">LogY--Fitness</text>
</g>
<g>
<clipPath id="clipC7"><rect x="38.8" y="395.85" width="210.1" height="124.95"/></clipPath>
<rect x="38.8" y="395.85" width="210.1" height="124.95" fill="#fff"/>
<path d="M48.4 395.85V520.8M86.6 395.85V520.8M124.8 395.85V520.8M163 395.85V520.8M201.2 395.85V520.8M239.4 395.85V520.8M38.8 516.6H248.9M38.8 498.92H248.9M38.8 481.23H248.9M38.8 463.55H248.9M38.8 445.87H248.9M38.8 428.19H248.9M38.8 410.5H248.9" stroke="#d6d6d6" stroke-width="0.55" fill="none"/>
<g clip-path="url(#clipC7)">
<path d="M48.4 407.9L49.2 416.2L49.9 421.5L50.7 425.6L51.5 429L52.2 431.9L53 434.4L53.7 436.7L54.5 438.7L55.3 440.6L56 442.3L57.6 445.2L59.1 447.7L60.6 449.9L62.2 451.9L63.7 453.7L65.2 455.5L66.7 457.1L68.3 458.7L69.8 460.1L71.3 461.4L72.8 462.5L74.4 463.6L75.9 464.6L77.4 465.6L79 466.5L80.5 467.3L82 468.1L83.5 468.8L85.1 469.6L86.6 470.3L89.7 471.7L92.7 473L95.8 474.1L98.8 475.2L101.9 476.1L104.9 476.9L108 477.6L111 478.2L114.1 478.8L117.2 479.4L120.2 479.9L123.3 480.3L126.3 480.6L129.4 480.7L132.4 480.9L135.5 481L138.6 481.1L141.6 481.3L144.7 481.4L147.7 481.6L150.8 481.7L153.8 481.8L156.9 482L159.9 482.1L163 482.2L166.1 482.4L169.1 482.5L172.2 482.6L175.2 482.8L178.3 483L181.3 483.3L184.4 483.7L187.4 484.2L190.5 484.7L193.6 485.2L196.6 485.7L199.7 486.1L202.7 486.5L205.8 486.8L208.8 487.1L211.9 487.4L215 487.7L218 487.9L221.1 488.1L224.1 488.3L227.2 488.5L230.2 488.6L233.3 488.7L236.3 488.8L239 488.8" stroke="#5b93d6" stroke-width="0.75" stroke-dasharray="3.8 1.4 0.8 1.4" fill="none"/>
<path d="M48.4 407.9v1.4M47.3 407.2l1.1 0.7l1.1 -0.7M56 442.3v1.4M54.9 441.6l1.1 0.7l1.1 -0.7M63.7 453.7v1.4M62.6 453l1.1 0.7l1.1 -0.7M71.3 461.4v1.4M70.2 460.7l1.1 0.7l1.1 -0.7M79 466.5v1.4M77.8 465.8l1.1 0.7l1.1 -0.7M86.6 470.3v1.4M85.5 469.6l1.1 0.7l1.1 -0.7M94.2 473.6v1.4M93.1 472.9l1.1 0.7l1.1 -0.7M101.9 476.1v1.4M100.8 475.4l1.1 0.7l1.1 -0.7M109.5 477.9v1.4M108.4 477.2l1.1 0.7l1.1 -0.7M117.2 479.4v1.4M116 478.7l1.1 0.7l1.1 -0.7M124.8 480.5v1.4M123.7 479.8l1.1 0.7l1.1 -0.7M132.4 480.9v1.4M131.3 480.2l1.1 0.7l1.1 -0.7M140.1 481.2v1.4M139 480.5l1.1 0.7l1.1 -0.7M147.7 481.6v1.4M146.6 480.9l1.1 0.7l1.1 -0.7M155.4 481.9v1.4M154.2 481.2l1.1 0.7l1.1 -0.7M163 482.2v1.4M161.9 481.5l1.1 0.7l1.1 -0.7M170.6 482.6v1.4M169.5 481.9l1.1 0.7l1.1 -0.7M178.3 483v1.4M177.2 482.3l1.1 0.7l1.1 -0.7M185.9 483.9v1.4M184.8 483.2l1.1 0.7l1.1 -0.7M193.6 485.2v1.4M192.4 484.5l1.1 0.7l1.1 -0.7M201.2 486.3v1.4M200.1 485.6l1.1 0.7l1.1 -0.7M208.8 487.1v1.4M207.7 486.4l1.1 0.7l1.1 -0.7M216.5 487.8v1.4M215.4 487.1l1.1 0.7l1.1 -0.7M224.1 488.3v1.4M223 487.6l1.1 0.7l1.1 -0.7M231.8 488.6v1.4M230.6 487.9l1.1 0.7l1.1 -0.7" stroke="#5b93d6" stroke-width="0.62" fill="none"/>
<path d="M48.4 428.3L49.2 445.5L49.9 456.1L50.7 463.7L51.5 469.7L52.2 474.4L53 478.2L53.7 481.2L54.5 483.6L55.3 485.4L56 486.8L57.6 488.8L59.1 490.2L60.6 491.3L62.2 492.2L63.7 493.2L65.2 494.1L66.7 494.9L68.3 495.6L69.8 496.3L71.3 497L72.8 497.7L74.4 498.4L75.9 499L77.4 499.6L79 500.1L80.5 500.4L82 500.8L83.5 501.1L85.1 501.3L86.6 501.6L89.7 502L92.7 502.4L95.8 502.8L98.8 503.1L101.9 503.4L104.9 503.7L108 504L111 504.2L114.1 504.5L117.2 504.7L120.2 504.9L123.3 505L126.3 505.2L129.4 505.4L132.4 505.6L135.5 505.8L138.6 506L141.6 506.3L144.7 506.6L147.7 506.9L150.8 507.3L153.8 507.6L156.9 507.9L159.9 508.2L163 508.5L166.1 508.7L169.1 508.8L172.2 509L175.2 509.2L178.3 509.3L181.3 509.4L184.4 509.6L187.4 509.7L190.5 509.8L193.6 509.9L196.6 510.1L199.7 510.2L202.7 510.3L205.8 510.4L208.8 510.5L211.9 510.6L215 510.7L218 510.8L221.1 510.9L224.1 511L227.2 511.1L230.2 511.2L233.3 511.3L236.3 511.4L239 511.5" stroke="#f59b12" stroke-width="1.2" stroke-dasharray="4 1.7" fill="none"/>
<path d="M48.4 426.4l1.9 3.4h-3.8zM56 484.9l1.9 3.4h-3.8zM63.7 491.3l1.9 3.4h-3.8zM71.3 495.1l1.9 3.4h-3.8zM79 498.2l1.9 3.4h-3.8zM86.6 499.7l1.9 3.4h-3.8zM94.2 500.7l1.9 3.4h-3.8zM101.9 501.5l1.9 3.4h-3.8zM109.5 502.2l1.9 3.4h-3.8zM117.2 502.8l1.9 3.4h-3.8zM124.8 503.2l1.9 3.4h-3.8zM132.4 503.7l1.9 3.4h-3.8zM140.1 504.3l1.9 3.4h-3.8zM147.7 505l1.9 3.4h-3.8zM155.4 505.9l1.9 3.4h-3.8zM163 506.6l1.9 3.4h-3.8zM170.6 507l1.9 3.4h-3.8zM178.3 507.4l1.9 3.4h-3.8zM185.9 507.7l1.9 3.4h-3.8zM193.6 508l1.9 3.4h-3.8zM201.2 508.3l1.9 3.4h-3.8zM208.8 508.6l1.9 3.4h-3.8zM216.5 508.9l1.9 3.4h-3.8zM224.1 509.1l1.9 3.4h-3.8zM231.8 509.4l1.9 3.4h-3.8z" fill="#f59b12"/>
<path d="M48.4 401.5L49.2 409.1L49.9 413.8L50.7 417.4L51.5 420.2L52.2 422.6L53 424.6L53.7 426.3L54.5 427.8L55.3 429.2L56 430.3L57.6 432.2L59.1 433.6L60.6 434.9L62.2 436L63.7 437.2L65.2 438.3L66.7 439.4L68.3 440.5L69.8 441.4L71.3 442.3L72.8 443L74.4 443.6L75.9 444.2L77.4 444.7L79 445.3L80.5 446L82 446.6L83.5 447.3L85.1 448L86.6 448.6L89.7 449.9L92.7 451.1L95.8 452.2L98.8 453.2L101.9 454.2L104.9 455.2L108 456.3L111 457.3L114.1 458.5L117.2 459.6L120.2 460.3L123.3 460.9L126.3 462L129.4 463.8L132.4 465.2L135.5 465.8L138.6 466.2L141.6 466.8L144.7 467.6L147.7 468.5L150.8 469.7L153.8 471L156.9 472L159.9 472.6L163 473.3L166.1 474L169.1 474.8L172.2 476.2L175.2 478.7L178.3 480.5L181.3 481.1L184.4 481.5L187.4 482L190.5 482.5L193.6 483L196.6 483.5L199.7 484L202.7 484.7L205.8 485.8L208.8 486.8L211.9 487.4L215 487.8L218 488.3L221.1 488.9L224.1 489.4L227.2 489.9L230.2 490.4L233.3 490.9L236.3 491.4L239 491.8" stroke="#0bd264" stroke-width="1.2" stroke-dasharray="4 1.7" fill="none"/>
<path d="M46.4 399.5h4v4h-4zM54 428.3h4v4h-4zM61.7 435.2h4v4h-4zM69.3 440.3h4v4h-4zM77 443.3h4v4h-4zM84.6 446.6h4v4h-4zM92.2 449.7h4v4h-4zM99.9 452.2h4v4h-4zM107.5 454.8h4v4h-4zM115.2 457.6h4v4h-4zM122.8 459.4h4v4h-4zM130.4 463.2h4v4h-4zM138.1 464.5h4v4h-4zM145.7 466.5h4v4h-4zM153.4 469.5h4v4h-4zM161 471.3h4v4h-4zM168.6 473.4h4v4h-4zM176.3 478.5h4v4h-4zM183.9 479.7h4v4h-4zM191.6 481h4v4h-4zM199.2 482.3h4v4h-4zM206.8 484.8h4v4h-4zM214.5 486.1h4v4h-4zM222.1 487.4h4v4h-4zM229.8 488.6h4v4h-4z" fill="#0bd264"/>
<path d="M48.4 402.8L49.2 411.8L49.9 417.8L50.7 422.6L51.5 426.6L52.2 430.1L53 433.3L53.7 436.1L54.5 438.8L55.3 441.2L56 443.5L57.6 447.8L59.1 451.5L60.6 454.9L62.2 458L63.7 460.9L65.2 463.5L66.7 465.9L68.3 468.1L69.8 470.3L71.3 472.3L72.8 474.3L74.4 476.1L75.9 477.9L77.4 479.6L79 481.2L80.5 482.8L82 484.4L83.5 485.9L85.1 487.2L86.6 488.1L89.7 489.3L92.7 490.2L95.8 491.1L98.8 492.1L101.9 493.2L104.9 494.7L108 496.3L111 497.6L114.1 498.7L117.2 499.5L120.2 500.1L123.3 500.6L126.3 501L129.4 501.4L132.4 501.8L135.5 502.1L138.6 502.4L141.6 502.8L144.7 503L147.7 503.3L150.8 503.6L153.8 503.9L156.9 504.1L159.9 504.4L163 504.6L166.1 504.9L169.1 505.2L172.2 505.4L175.2 505.7L178.3 505.9L181.3 506.2L184.4 506.5L187.4 506.7L190.5 506.9L193.6 507.2L196.6 507.4L199.7 507.6L202.7 507.8L205.8 508L208.8 508.2L211.9 508.3L215 508.5L218 508.7L221.1 508.9L224.1 509L227.2 509.2L230.2 509.3L233.3 509.5L236.3 509.6L239 509.7" stroke="#de4b34" stroke-width="1.2" stroke-dasharray="4 1.7" fill="none"/>
<path d="M48.4 400.2l1.4 2.6l-1.4 2.6l-1.4 -2.6zM56 440.9l1.4 2.6l-1.4 2.6l-1.4 -2.6zM63.7 458.3l1.4 2.6l-1.4 2.6l-1.4 -2.6zM71.3 469.7l1.4 2.6l-1.4 2.6l-1.4 -2.6zM79 478.6l1.4 2.6l-1.4 2.6l-1.4 -2.6zM86.6 485.5l1.4 2.6l-1.4 2.6l-1.4 -2.6zM94.2 488l1.4 2.6l-1.4 2.6l-1.4 -2.6zM101.9 490.6l1.4 2.6l-1.4 2.6l-1.4 -2.6zM109.5 494.4l1.4 2.6l-1.4 2.6l-1.4 -2.6zM117.2 496.9l1.4 2.6l-1.4 2.6l-1.4 -2.6zM124.8 498.2l1.4 2.6l-1.4 2.6l-1.4 -2.6zM132.4 499.2l1.4 2.6l-1.4 2.6l-1.4 -2.6zM140.1 500l1.4 2.6l-1.4 2.6l-1.4 -2.6zM147.7 500.7l1.4 2.6l-1.4 2.6l-1.4 -2.6zM155.4 501.4l1.4 2.6l-1.4 2.6l-1.4 -2.6zM163 502l1.4 2.6l-1.4 2.6l-1.4 -2.6zM170.6 502.7l1.4 2.6l-1.4 2.6l-1.4 -2.6zM178.3 503.3l1.4 2.6l-1.4 2.6l-1.4 -2.6zM185.9 504l1.4 2.6l-1.4 2.6l-1.4 -2.6zM193.6 504.6l1.4 2.6l-1.4 2.6l-1.4 -2.6zM201.2 505.1l1.4 2.6l-1.4 2.6l-1.4 -2.6zM208.8 505.6l1.4 2.6l-1.4 2.6l-1.4 -2.6zM216.5 506l1.4 2.6l-1.4 2.6l-1.4 -2.6zM224.1 506.4l1.4 2.6l-1.4 2.6l-1.4 -2.6zM231.8 506.8l1.4 2.6l-1.4 2.6l-1.4 -2.6z" fill="#de4b34"/>
<path d="M48.4 409.2L49.2 418.7L49.9 424.7L50.7 429.2L51.5 432.8L52.2 435.9L53 438.5L53.7 440.8L54.5 442.8L55.3 444.5L56 446.1L57.6 448.7L59.1 450.9L60.6 452.8L62.2 454.4L63.7 455.8L65.2 457L66.7 457.9L68.3 458.9L69.8 459.8L71.3 460.9L72.8 462.1L74.4 463.5L75.9 464.9L77.4 466.1L79 467.2L80.5 468.1L82 468.8L83.5 469.5L85.1 470.2L86.6 471L89.7 473.4L92.7 476L95.8 478.2L98.8 480.1L101.9 481.7L104.9 482.8L108 483.7L111 484.9L114.1 486.2L117.2 487.6L120.2 488.8L123.3 490L126.3 491.3L129.4 492.7L132.4 493.9L135.5 495L138.6 496L141.6 497.1L144.7 498.4L147.7 499.5L150.8 500.5L153.8 501.4L156.9 502.2L159.9 502.9L163 503.4L166.1 503.7L169.1 504L172.2 504.3L175.2 504.5L178.3 504.7L181.3 504.9L184.4 505L187.4 505.2L190.5 505.4L193.6 505.5L196.6 505.7L199.7 505.8L202.7 506L205.8 506.2L208.8 506.3L211.9 506.5L215 506.6L218 506.8L221.1 506.9L224.1 507.1L227.2 507.2L230.2 507.3L233.3 507.4L236.3 507.6L239 507.7" stroke="#ab76f7" stroke-width="1.2" stroke-dasharray="4 1.5 0.9 1.5" fill="none"/>
<path d="M46.6 409.2a1.8 1.8 0 1 0 3.5 0a1.8 1.8 0 1 0 -3.5 0zM54.3 446.1a1.8 1.8 0 1 0 3.5 0a1.8 1.8 0 1 0 -3.5 0zM61.9 455.8a1.8 1.8 0 1 0 3.5 0a1.8 1.8 0 1 0 -3.5 0zM69.6 460.9a1.8 1.8 0 1 0 3.5 0a1.8 1.8 0 1 0 -3.5 0zM77.2 467.2a1.8 1.8 0 1 0 3.5 0a1.8 1.8 0 1 0 -3.5 0zM84.8 471a1.8 1.8 0 1 0 3.5 0a1.8 1.8 0 1 0 -3.5 0zM92.5 477.1a1.8 1.8 0 1 0 3.5 0a1.8 1.8 0 1 0 -3.5 0zM100.1 481.7a1.8 1.8 0 1 0 3.5 0a1.8 1.8 0 1 0 -3.5 0zM107.8 484.3a1.8 1.8 0 1 0 3.5 0a1.8 1.8 0 1 0 -3.5 0zM115.4 487.6a1.8 1.8 0 1 0 3.5 0a1.8 1.8 0 1 0 -3.5 0zM123.1 490.6a1.8 1.8 0 1 0 3.5 0a1.8 1.8 0 1 0 -3.5 0zM130.7 493.9a1.8 1.8 0 1 0 3.5 0a1.8 1.8 0 1 0 -3.5 0zM138.3 496.5a1.8 1.8 0 1 0 3.5 0a1.8 1.8 0 1 0 -3.5 0zM146 499.5a1.8 1.8 0 1 0 3.5 0a1.8 1.8 0 1 0 -3.5 0zM153.6 501.8a1.8 1.8 0 1 0 3.5 0a1.8 1.8 0 1 0 -3.5 0zM161.2 503.4a1.8 1.8 0 1 0 3.5 0a1.8 1.8 0 1 0 -3.5 0zM168.9 504.1a1.8 1.8 0 1 0 3.5 0a1.8 1.8 0 1 0 -3.5 0zM176.5 504.7a1.8 1.8 0 1 0 3.5 0a1.8 1.8 0 1 0 -3.5 0zM184.2 505.1a1.8 1.8 0 1 0 3.5 0a1.8 1.8 0 1 0 -3.5 0zM191.8 505.5a1.8 1.8 0 1 0 3.5 0a1.8 1.8 0 1 0 -3.5 0zM199.5 505.9a1.8 1.8 0 1 0 3.5 0a1.8 1.8 0 1 0 -3.5 0zM207.1 506.3a1.8 1.8 0 1 0 3.5 0a1.8 1.8 0 1 0 -3.5 0zM214.7 506.7a1.8 1.8 0 1 0 3.5 0a1.8 1.8 0 1 0 -3.5 0zM222.4 507.1a1.8 1.8 0 1 0 3.5 0a1.8 1.8 0 1 0 -3.5 0zM230 507.4a1.8 1.8 0 1 0 3.5 0a1.8 1.8 0 1 0 -3.5 0z" fill="#ab76f7"/>
<path d="M48.4 413L49.2 431L49.9 442.1L50.7 450.1L51.5 456.4L52.2 461.3L53 465.2L53.7 468.3L54.5 470.8L55.3 472.7L56 474.1L57.6 476.1L59.1 477.5L60.6 478.6L62.2 479.5L63.7 480.5L65.2 481.4L66.7 482.2L68.3 483L69.8 483.7L71.3 484.3L72.8 484.8L74.4 485.2L75.9 485.6L77.4 486L79 486.3L80.5 486.6L82 486.9L83.5 487.1L85.1 487.3L86.6 487.6L89.7 488.1L92.7 488.6L95.8 489.1L98.8 489.5L101.9 489.9L104.9 490.2L108 490.5L111 490.8L114.1 491L117.2 491.3L120.2 491.5L123.3 491.8L126.3 492.1L129.4 492.4L132.4 492.7L135.5 493.1L138.6 493.3L141.6 493.5L144.7 493.7L147.7 493.8L150.8 494L153.8 494.1L156.9 494.2L159.9 494.3L163 494.5L166.1 494.6L169.1 494.7L172.2 494.8L175.2 494.9L178.3 495L181.3 495.1L184.4 495.2L187.4 495.3L190.5 495.4L193.6 495.5L196.6 495.6L199.7 495.7L202.7 495.8L205.8 495.9L208.8 496L211.9 496.1L215 496.2L218 496.3L221.1 496.4L224.1 496.5L227.2 496.6L230.2 496.7L233.3 496.8L236.3 496.9L239 497" stroke="#ad5f35" stroke-width="1.1" stroke-dasharray="4 1.7" fill="none"/>
<path d="M48.4 411.5v3M56 472.6v3M63.7 479v3M71.3 482.8v3M79 484.8v3M86.6 486.1v3M94.2 487.3v3M101.9 488.4v3M109.5 489.1v3M117.2 489.8v3M124.8 490.4v3M132.4 491.2v3M140.1 491.9v3M147.7 492.3v3M155.4 492.7v3M163 493v3M170.6 493.2v3M178.3 493.5v3M185.9 493.7v3M193.6 494v3M201.2 494.2v3M208.8 494.5v3M216.5 494.7v3M224.1 495v3M231.8 495.2v3" stroke="#ad5f35" stroke-width="0.9" fill="none"/>
<path d="M48.4 402.8L49.2 412.2L49.9 418.1L50.7 422.6L51.5 426.3L52.2 429.3L53 432L53.7 434.3L54.5 436.3L55.3 438.1L56 439.7L57.6 442.4L59.1 444.6L60.6 446.5L62.2 448.2L63.7 449.9L65.2 451.6L66.7 453.3L68.3 454.8L69.8 456.2L71.3 457.5L72.8 458.7L74.4 459.8L75.9 460.9L77.4 461.8L79 462.6L80.5 463.4L82 464.2L83.5 464.8L85.1 465.4L86.6 465.9L89.7 466.8L92.7 467.4L95.8 468L98.8 468.5L101.9 469L104.9 469.4L108 469.8L111 470.1L114.1 470.4L117.2 470.7L120.2 471.1L123.3 471.4L126.3 471.7L129.4 472.1L132.4 472.5L135.5 472.8L138.6 473.2L141.6 473.5L144.7 473.8L147.7 474.1L150.8 474.3L153.8 474.6L156.9 474.9L159.9 475.1L163 475.4L166.1 475.6L169.1 475.9L172.2 476.1L175.2 476.3L178.3 476.6L181.3 476.8L184.4 477L187.4 477.2L190.5 477.4L193.6 477.6L196.6 477.7L199.7 477.9L202.7 478L205.8 478.1L208.8 478.1L211.9 478.2L215 478.3L218 478.4L221.1 478.5L224.1 478.5L227.2 478.6L230.2 478.6L233.3 478.6L236.3 478.7L239 478.7" stroke="#e682de" stroke-width="0.75" stroke-dasharray="3.8 1.4 0.8 1.4" fill="none"/>
<path d="M47.1 402.8h2.6m-1.3 -1.3v2.6M54.7 439.7h2.6m-1.3 -1.3v2.6M62.4 449.9h2.6m-1.3 -1.3v2.6M70 457.5h2.6m-1.3 -1.3v2.6M77.7 462.6h2.6m-1.3 -1.3v2.6M85.3 465.9h2.6m-1.3 -1.3v2.6M92.9 467.7h2.6m-1.3 -1.3v2.6M100.6 469h2.6m-1.3 -1.3v2.6M108.2 469.9h2.6m-1.3 -1.3v2.6M115.9 470.7h2.6m-1.3 -1.3v2.6M123.5 471.5h2.6m-1.3 -1.3v2.6M131.1 472.5h2.6m-1.3 -1.3v2.6M138.8 473.3h2.6m-1.3 -1.3v2.6M146.4 474.1h2.6m-1.3 -1.3v2.6M154.1 474.7h2.6m-1.3 -1.3v2.6M161.7 475.4h2.6m-1.3 -1.3v2.6M169.3 476h2.6m-1.3 -1.3v2.6M177 476.6h2.6m-1.3 -1.3v2.6M184.6 477.1h2.6m-1.3 -1.3v2.6M192.3 477.6h2.6m-1.3 -1.3v2.6M199.9 477.9h2.6m-1.3 -1.3v2.6M207.5 478.1h2.6m-1.3 -1.3v2.6M215.2 478.3h2.6m-1.3 -1.3v2.6M222.8 478.5h2.6m-1.3 -1.3v2.6M230.5 478.6h2.6m-1.3 -1.3v2.6" stroke="#e682de" stroke-width="0.65" fill="none"/>
<path d="M48.4 415.5L49.2 437.6L49.9 450.3L50.7 458.8L51.5 464.8L52.2 469L53 472.1L53.7 474.7L54.5 476.7L55.3 478.2L56 479.2L57.6 480.4L59.1 481.2L60.6 481.9L62.2 482.4L63.7 483L65.2 483.6L66.7 484.1L68.3 484.6L69.8 485.1L71.3 485.5L72.8 486L74.4 486.3L75.9 486.7L77.4 487L79 487.3L80.5 487.6L82 487.9L83.5 488.2L85.1 488.4L86.6 488.6L89.7 488.9L92.7 489.2L95.8 489.5L98.8 489.8L101.9 490.1L104.9 490.4L108 490.8L111 491L114.1 491.2L117.2 491.4L120.2 491.6L123.3 491.8L126.3 492L129.4 492.2L132.4 492.4L135.5 492.6L138.6 492.8L141.6 493L144.7 493.2L147.7 493.3L150.8 493.5L153.8 493.6L156.9 493.8L159.9 493.9L163 493.9L166.1 494L169.1 494.1L172.2 494.1L175.2 494.2L178.3 494.2L181.3 494.2L184.4 494.3L187.4 494.3L190.5 494.3L193.6 494.4L196.6 494.4L199.7 494.4L202.7 494.5L205.8 494.5L208.8 494.6L211.9 494.6L215 494.6L218 494.7L221.1 494.7L224.1 494.8L227.2 494.8L230.2 494.8L233.3 494.9L236.3 494.9L239 495" stroke="#b1b1b1" stroke-width="1.1" stroke-dasharray="4 1.7" fill="none"/>
<path d="M46.9 415.5a1.6 1.6 0 1 0 3.1 0a1.6 1.6 0 1 0 -3.1 0zM54.5 479.2a1.6 1.6 0 1 0 3.1 0a1.6 1.6 0 1 0 -3.1 0zM62.1 483a1.6 1.6 0 1 0 3.1 0a1.6 1.6 0 1 0 -3.1 0zM69.8 485.5a1.6 1.6 0 1 0 3.1 0a1.6 1.6 0 1 0 -3.1 0zM77.4 487.3a1.6 1.6 0 1 0 3.1 0a1.6 1.6 0 1 0 -3.1 0zM85 488.6a1.6 1.6 0 1 0 3.1 0a1.6 1.6 0 1 0 -3.1 0zM92.7 489.4a1.6 1.6 0 1 0 3.1 0a1.6 1.6 0 1 0 -3.1 0zM100.3 490.1a1.6 1.6 0 1 0 3.1 0a1.6 1.6 0 1 0 -3.1 0zM108 490.9a1.6 1.6 0 1 0 3.1 0a1.6 1.6 0 1 0 -3.1 0zM115.6 491.4a1.6 1.6 0 1 0 3.1 0a1.6 1.6 0 1 0 -3.1 0zM123.3 491.9a1.6 1.6 0 1 0 3.1 0a1.6 1.6 0 1 0 -3.1 0zM130.9 492.4a1.6 1.6 0 1 0 3.1 0a1.6 1.6 0 1 0 -3.1 0zM138.5 492.9a1.6 1.6 0 1 0 3.1 0a1.6 1.6 0 1 0 -3.1 0zM146.2 493.3a1.6 1.6 0 1 0 3.1 0a1.6 1.6 0 1 0 -3.1 0zM153.8 493.7a1.6 1.6 0 1 0 3.1 0a1.6 1.6 0 1 0 -3.1 0zM161.4 493.9a1.6 1.6 0 1 0 3.1 0a1.6 1.6 0 1 0 -3.1 0zM169.1 494.1a1.6 1.6 0 1 0 3.1 0a1.6 1.6 0 1 0 -3.1 0zM176.7 494.2a1.6 1.6 0 1 0 3.1 0a1.6 1.6 0 1 0 -3.1 0zM184.4 494.3a1.6 1.6 0 1 0 3.1 0a1.6 1.6 0 1 0 -3.1 0zM192 494.4a1.6 1.6 0 1 0 3.1 0a1.6 1.6 0 1 0 -3.1 0zM199.7 494.5a1.6 1.6 0 1 0 3.1 0a1.6 1.6 0 1 0 -3.1 0zM207.3 494.6a1.6 1.6 0 1 0 3.1 0a1.6 1.6 0 1 0 -3.1 0zM214.9 494.7a1.6 1.6 0 1 0 3.1 0a1.6 1.6 0 1 0 -3.1 0zM222.6 494.8a1.6 1.6 0 1 0 3.1 0a1.6 1.6 0 1 0 -3.1 0zM230.2 494.9a1.6 1.6 0 1 0 3.1 0a1.6 1.6 0 1 0 -3.1 0z" fill="#b1b1b1"/>
<path d="M48.4 438.5L49.2 452.2L49.9 460.7L50.7 466.8L51.5 471.5L52.2 475.1L53 478L53.7 480.3L54.5 482.1L55.3 483.4L56 484.3L57.6 485.5L59.1 486.3L60.6 486.9L62.2 487.5L63.7 488.1L65.2 488.7L66.7 489.3L68.3 489.8L69.8 490.3L71.3 490.6L72.8 490.9L74.4 491.2L75.9 491.4L77.4 491.7L79 491.9L80.5 492.2L82 492.5L83.5 492.7L85.1 493L86.6 493.2L89.7 493.5L92.7 493.8L95.8 494.1L98.8 494.6L101.9 495L104.9 495.3L108 495.6L111 495.9L114.1 496.2L117.2 496.5L120.2 496.7L123.3 496.9L126.3 497.1L129.4 497.3L132.4 497.5L135.5 497.7L138.6 497.9L141.6 498.1L144.7 498.3L147.7 498.6L150.8 498.8L153.8 499L156.9 499.2L159.9 499.4L163 499.5L166.1 499.7L169.1 499.8L172.2 499.9L175.2 500L178.3 500.2L181.3 500.3L184.4 500.4L187.4 500.4L190.5 500.5L193.6 500.6L196.6 500.7L199.7 500.8L202.7 500.9L205.8 500.9L208.8 501L211.9 501.1L215 501.1L218 501.2L221.1 501.3L224.1 501.3L227.2 501.4L230.2 501.4L233.3 501.5L236.3 501.5L239 501.6" stroke="#cfcf00" stroke-width="1.2" stroke-dasharray="4 1.7" fill="none"/>
<path d="M46.5 438.5a1.9 1.9 0 1 0 3.8 0a1.9 1.9 0 1 0 -3.8 0zM54.1 484.3a1.9 1.9 0 1 0 3.8 0a1.9 1.9 0 1 0 -3.8 0zM61.8 488.1a1.9 1.9 0 1 0 3.8 0a1.9 1.9 0 1 0 -3.8 0zM69.4 490.6a1.9 1.9 0 1 0 3.8 0a1.9 1.9 0 1 0 -3.8 0zM77.1 491.9a1.9 1.9 0 1 0 3.8 0a1.9 1.9 0 1 0 -3.8 0zM84.7 493.2a1.9 1.9 0 1 0 3.8 0a1.9 1.9 0 1 0 -3.8 0zM92.3 493.9a1.9 1.9 0 1 0 3.8 0a1.9 1.9 0 1 0 -3.8 0zM100 495a1.9 1.9 0 1 0 3.8 0a1.9 1.9 0 1 0 -3.8 0zM107.6 495.7a1.9 1.9 0 1 0 3.8 0a1.9 1.9 0 1 0 -3.8 0zM115.3 496.5a1.9 1.9 0 1 0 3.8 0a1.9 1.9 0 1 0 -3.8 0zM122.9 497a1.9 1.9 0 1 0 3.8 0a1.9 1.9 0 1 0 -3.8 0zM130.5 497.5a1.9 1.9 0 1 0 3.8 0a1.9 1.9 0 1 0 -3.8 0zM138.2 498a1.9 1.9 0 1 0 3.8 0a1.9 1.9 0 1 0 -3.8 0zM145.8 498.6a1.9 1.9 0 1 0 3.8 0a1.9 1.9 0 1 0 -3.8 0zM153.5 499.1a1.9 1.9 0 1 0 3.8 0a1.9 1.9 0 1 0 -3.8 0zM161.1 499.5a1.9 1.9 0 1 0 3.8 0a1.9 1.9 0 1 0 -3.8 0zM168.7 499.9a1.9 1.9 0 1 0 3.8 0a1.9 1.9 0 1 0 -3.8 0zM176.4 500.2a1.9 1.9 0 1 0 3.8 0a1.9 1.9 0 1 0 -3.8 0zM184 500.4a1.9 1.9 0 1 0 3.8 0a1.9 1.9 0 1 0 -3.8 0zM191.7 500.6a1.9 1.9 0 1 0 3.8 0a1.9 1.9 0 1 0 -3.8 0zM199.3 500.8a1.9 1.9 0 1 0 3.8 0a1.9 1.9 0 1 0 -3.8 0zM206.9 501a1.9 1.9 0 1 0 3.8 0a1.9 1.9 0 1 0 -3.8 0zM214.6 501.2a1.9 1.9 0 1 0 3.8 0a1.9 1.9 0 1 0 -3.8 0zM222.2 501.3a1.9 1.9 0 1 0 3.8 0a1.9 1.9 0 1 0 -3.8 0zM229.9 501.5a1.9 1.9 0 1 0 3.8 0a1.9 1.9 0 1 0 -3.8 0z" fill="#cfcf00"/>
<path d="M48.4 402.3L49.2 409.7L49.9 414.4L50.7 418L51.5 421L52.2 423.5L53 425.6L53.7 427.5L54.5 429.2L55.3 430.7L56 432.1L57.6 434.4L59.1 436.2L60.6 437.9L62.2 439.4L63.7 441L65.2 442.6L66.7 444.1L68.3 445.5L69.8 447.1L71.3 448.6L72.8 450.3L74.4 452.1L75.9 453.9L77.4 455.7L79 457.5L80.5 459.3L82 461.2L83.5 463L85.1 464.8L86.6 466.5L89.7 469.5L92.7 472.5L95.8 475.8L98.8 479.3L101.9 483L104.9 487.1L108 491.2L111 495L114.1 498.5L117.2 500.8L120.2 502L123.3 502.9L126.3 503.6L129.4 504.2L132.4 504.6L135.5 505L138.6 505.4L141.6 505.7L144.7 506L147.7 506.2L150.8 506.5L153.8 506.7L156.9 506.9L159.9 507L163 507.2L166.1 507.3L169.1 507.5L172.2 507.6L175.2 507.7L178.3 507.8L181.3 507.9L184.4 508L187.4 508.1L190.5 508.2L193.6 508.3L196.6 508.3L199.7 508.4L202.7 508.5L205.8 508.6L208.8 508.6L211.9 508.7L215 508.8L218 508.8L221.1 508.9L224.1 509L227.2 509L230.2 509.1L233.3 509.1L236.3 509.2L239 509.2" stroke="#ff8f57" stroke-width="0.85" stroke-dasharray="3.8 1.4 0.8 1.4" fill="none"/>
<path d="M46.9 400.8l3 3m0 -3l-3 3M54.5 430.6l3 3m0 -3l-3 3M62.2 439.5l3 3m0 -3l-3 3M69.8 447.1l3 3m0 -3l-3 3M77.5 456l3 3m0 -3l-3 3M85.1 465l3 3m0 -3l-3 3M92.7 472.6l3 3m0 -3l-3 3M100.4 481.5l3 3m0 -3l-3 3M108 491.7l3 3m0 -3l-3 3M115.7 499.3l3 3m0 -3l-3 3M123.3 501.8l3 3m0 -3l-3 3M130.9 503.1l3 3m0 -3l-3 3M138.6 504l3 3m0 -3l-3 3M146.2 504.7l3 3m0 -3l-3 3M153.9 505.3l3 3m0 -3l-3 3M161.5 505.7l3 3m0 -3l-3 3M169.1 506l3 3m0 -3l-3 3M176.8 506.3l3 3m0 -3l-3 3M184.4 506.5l3 3m0 -3l-3 3M192.1 506.8l3 3m0 -3l-3 3M199.7 507l3 3m0 -3l-3 3M207.3 507.1l3 3m0 -3l-3 3M215 507.3l3 3m0 -3l-3 3M222.6 507.5l3 3m0 -3l-3 3M230.3 507.6l3 3m0 -3l-3 3" stroke="#ff8f57" stroke-width="0.66" fill="none"/>
<path d="M48.4 433.4L49.2 454.6L49.9 466.8L50.7 474.9L51.5 480.5L52.2 484.3L53 486.9L53.7 488.9L54.5 490.5L55.3 491.9L56 493.2L57.6 495.5L59.1 497.5L60.6 499.3L62.2 500.8L63.7 502.1L65.2 503.2L66.7 504.3L68.3 505.2L69.8 506L71.3 506.7L72.8 507.3L74.4 507.8L75.9 508.2L77.4 508.6L79 509L80.5 509.3L82 509.5L83.5 509.8L85.1 510L86.6 510.2L89.7 510.7L92.7 511.1L95.8 511.4L98.8 511.7L101.9 512L104.9 512.3L108 512.7L111 512.9L114.1 513.1L117.2 513.2L120.2 513.4L123.3 513.5L126.3 513.6L129.4 513.7L132.4 513.8L135.5 513.9L138.6 514L141.6 514.1L144.7 514.2L147.7 514.3L150.8 514.4L153.8 514.6L156.9 514.7L159.9 514.7L163 514.8L166.1 514.9L169.1 514.9L172.2 515L175.2 515L178.3 515.1L181.3 515.1L184.4 515.2L187.4 515.2L190.5 515.2L193.6 515.3L196.6 515.3L199.7 515.3L202.7 515.3L205.8 515.4L208.8 515.4L211.9 515.4L215 515.4L218 515.5L221.1 515.5L224.1 515.5L227.2 515.5L230.2 515.5L233.3 515.6L236.3 515.6L239 515.6" stroke="#06069a" stroke-width="1.2" stroke-dasharray="4 1.7" fill="none"/>
<path d="M48.4 431.2L49 432.6L50.4 432.7L49.3 433.7L49.7 435.1L48.4 434.3L47.1 435.1L47.5 433.7L46.4 432.7L47.8 432.6zM56 491L56.6 492.4L58.1 492.5L57 493.5L57.3 494.9L56 494.1L54.8 494.9L55.1 493.5L54 492.5L55.5 492.4zM63.7 499.9L64.2 501.3L65.7 501.4L64.6 502.4L64.9 503.8L63.7 503.1L62.4 503.8L62.8 502.4L61.6 501.4L63.1 501.3zM71.3 504.5L71.9 505.9L73.4 506L72.2 507L72.6 508.4L71.3 507.6L70.1 508.4L70.4 507L69.3 506L70.8 505.9zM79 506.8L79.5 508.2L81 508.3L79.9 509.3L80.2 510.7L79 509.9L77.7 510.7L78 509.3L76.9 508.3L78.4 508.2zM86.6 508.1L87.2 509.5L88.6 509.6L87.5 510.5L87.9 512L86.6 511.2L85.3 512L85.7 510.5L84.6 509.6L86 509.5zM94.2 509.1L94.8 510.5L96.3 510.6L95.2 511.6L95.5 513L94.2 512.2L93 513L93.3 511.6L92.2 510.6L93.7 510.5zM101.9 509.9L102.4 511.2L103.9 511.4L102.8 512.3L103.1 513.8L101.9 513L100.6 513.8L101 512.3L99.8 511.4L101.3 511.2zM109.5 510.6L110.1 512L111.6 512.1L110.4 513.1L110.8 514.5L109.5 513.7L108.3 514.5L108.6 513.1L107.5 512.1L109 512zM117.2 511.1L117.7 512.4L119.2 512.6L118.1 513.5L118.4 515L117.2 514.2L115.9 515L116.2 513.5L115.1 512.6L116.6 512.4zM124.8 511.4L125.4 512.8L126.8 512.9L125.7 513.8L126.1 515.3L124.8 514.5L123.5 515.3L123.9 513.8L122.8 512.9L124.2 512.8zM132.4 511.7L133 513L134.5 513.1L133.4 514.1L133.7 515.6L132.4 514.8L131.2 515.6L131.5 514.1L130.4 513.1L131.9 513zM140.1 511.9L140.6 513.3L142.1 513.4L141 514.4L141.3 515.8L140.1 515L138.8 515.8L139.2 514.4L138 513.4L139.5 513.3zM147.7 512.2L148.3 513.6L149.8 513.7L148.6 514.6L149 516.1L147.7 515.3L146.5 516.1L146.8 514.6L145.7 513.7L147.2 513.6zM155.4 512.5L155.9 513.8L157.4 513.9L156.3 514.9L156.6 516.4L155.4 515.6L154.1 516.4L154.4 514.9L153.3 513.9L154.8 513.8zM163 512.7L163.6 514L165 514.2L163.9 515.1L164.3 516.6L163 515.8L161.7 516.6L162.1 515.1L161 514.2L162.4 514zM170.6 512.8L171.2 514.2L172.7 514.3L171.6 515.3L171.9 516.7L170.6 515.9L169.4 516.7L169.7 515.3L168.6 514.3L170.1 514.2zM178.3 512.9L178.8 514.3L180.3 514.4L179.2 515.4L179.5 516.8L178.3 516L177 516.8L177.4 515.4L176.2 514.4L177.7 514.3zM185.9 513L186.5 514.4L188 514.5L186.8 515.5L187.2 516.9L185.9 516.1L184.7 516.9L185 515.5L183.9 514.5L185.4 514.4zM193.6 513.1L194.1 514.5L195.6 514.6L194.5 515.6L194.8 517L193.6 516.2L192.3 517L192.6 515.6L191.5 514.6L193 514.5zM201.2 513.2L201.8 514.5L203.2 514.7L202.1 515.6L202.5 517.1L201.2 516.3L199.9 517.1L200.3 515.6L199.2 514.7L200.6 514.5zM208.8 513.2L209.4 514.6L210.9 514.7L209.8 515.7L210.1 517.1L208.8 516.4L207.6 517.1L207.9 515.7L206.8 514.7L208.3 514.6zM216.5 513.3L217 514.7L218.5 514.8L217.4 515.8L217.7 517.2L216.5 516.4L215.2 517.2L215.6 515.8L214.4 514.8L215.9 514.7zM224.1 513.4L224.7 514.7L226.2 514.8L225 515.8L225.4 517.2L224.1 516.5L222.9 517.2L223.2 515.8L222.1 514.8L223.6 514.7zM231.8 513.4L232.3 514.8L233.8 514.9L232.7 515.8L233 517.3L231.8 516.5L230.5 517.3L230.8 515.8L229.7 514.9L231.2 514.8z" fill="#06069a"/>
<path d="M48.4 401.5L49.2 424.7L49.9 439L50.7 449.5L51.5 457.7L52.2 464.3L53 469.6L53.7 474.1L54.5 477.7L55.3 480.6L56 483L57.6 486.6L59.1 489.4L60.6 491.6L62.2 493.4L63.7 495L65.2 496.3L66.7 497.4L68.3 498.3L69.8 499.2L71.3 500.1L72.8 500.9L74.4 501.8L75.9 502.6L77.4 503.3L79 503.9L80.5 504.4L82 504.8L83.5 505.2L85.1 505.6L86.6 505.9L89.7 506.5L92.7 506.9L95.8 507.4L98.8 508L101.9 508.5L104.9 508.8L108 509.1L111 509.4L114.1 509.7L117.2 510L120.2 510.2L123.3 510.4L126.3 510.6L129.4 510.8L132.4 511L135.5 511.2L138.6 511.4L141.6 511.6L144.7 511.8L147.7 512.1L150.8 512.3L153.8 512.5L156.9 512.7L159.9 512.9L163 513L166.1 513.2L169.1 513.3L172.2 513.4L175.2 513.6L178.3 513.7L181.3 513.8L184.4 513.9L187.4 514L190.5 514.1L193.6 514.1L196.6 514.2L199.7 514.3L202.7 514.3L205.8 514.4L208.8 514.4L211.9 514.5L215 514.6L218 514.6L221.1 514.6L224.1 514.7L227.2 514.7L230.2 514.7L233.3 514.8L236.3 514.8L239 514.8" stroke="#ff1493" stroke-width="1.2" stroke-dasharray="4 1.7" fill="none"/>
<path d="M46.4 400.6L47.5 399.5L48.4 400.4L49.3 399.5L50.4 400.6L49.5 401.5L50.4 402.4L49.3 403.6L48.4 402.7L47.5 403.6L46.4 402.4L47.3 401.5zM54 482.1L55.1 480.9L56 481.9L56.9 480.9L58.1 482.1L57.2 483L58.1 483.9L56.9 485.1L56 484.1L55.1 485.1L54 483.9L54.9 483zM61.6 494.1L62.8 492.9L63.7 493.8L64.6 492.9L65.7 494.1L64.8 495L65.7 495.9L64.6 497L63.7 496.1L62.8 497L61.6 495.9L62.5 495zM69.3 499.2L70.4 498L71.3 498.9L72.2 498L73.4 499.2L72.5 500.1L73.4 501L72.2 502.1L71.3 501.2L70.4 502.1L69.3 501L70.2 500.1zM76.9 503L78.1 501.8L79 502.7L79.9 501.8L81 503L80.1 503.9L81 504.8L79.9 505.9L79 505L78.1 505.9L76.9 504.8L77.8 503.9zM84.5 505L85.7 503.9L86.6 504.8L87.5 503.9L88.6 505L87.7 505.9L88.6 506.8L87.5 508L86.6 507.1L85.7 508L84.5 506.8L85.5 505.9zM92.2 506.3L93.3 505.1L94.2 506L95.1 505.1L96.3 506.3L95.4 507.2L96.3 508.1L95.1 509.2L94.2 508.3L93.3 509.2L92.2 508.1L93.1 507.2zM99.8 507.6L101 506.4L101.9 507.3L102.8 506.4L103.9 507.6L103 508.5L103.9 509.4L102.8 510.5L101.9 509.6L101 510.5L99.8 509.4L100.7 508.5zM107.5 508.3L108.6 507.2L109.5 508.1L110.4 507.2L111.6 508.3L110.7 509.2L111.6 510.1L110.4 511.3L109.5 510.4L108.6 511.3L107.5 510.1L108.4 509.2zM115.1 509.1L116.3 507.9L117.2 508.8L118.1 507.9L119.2 509.1L118.3 510L119.2 510.9L118.1 512L117.2 511.1L116.3 512L115.1 510.9L116 510zM122.8 509.6L123.9 508.4L124.8 509.3L125.7 508.4L126.9 509.6L125.9 510.5L126.9 511.4L125.7 512.5L124.8 511.6L123.9 512.5L122.8 511.4L123.7 510.5zM130.4 510.1L131.5 509L132.4 509.9L133.3 509L134.5 510.1L133.6 511L134.5 511.9L133.3 513.1L132.4 512.1L131.5 513.1L130.4 511.9L131.3 511zM138 510.6L139.2 509.5L140.1 510.4L141 509.5L142.1 510.6L141.2 511.5L142.1 512.4L141 513.6L140.1 512.7L139.2 513.6L138 512.4L138.9 511.5zM145.7 511.2L146.8 510L147.7 510.9L148.6 510L149.8 511.2L148.9 512.1L149.8 513L148.6 514.1L147.7 513.2L146.8 514.1L145.7 513L146.6 512.1zM153.3 511.7L154.5 510.5L155.4 511.5L156.3 510.5L157.4 511.7L156.5 512.6L157.4 513.5L156.3 514.6L155.4 513.7L154.5 514.6L153.3 513.5L154.2 512.6zM160.9 512.1L162.1 511L163 511.9L163.9 511L165.1 512.1L164.1 513L165.1 513.9L163.9 515.1L163 514.2L162.1 515.1L160.9 513.9L161.9 513zM168.6 512.5L169.7 511.3L170.6 512.2L171.5 511.3L172.7 512.5L171.8 513.4L172.7 514.3L171.5 515.4L170.6 514.5L169.7 515.4L168.6 514.3L169.5 513.4zM176.2 512.8L177.4 511.6L178.3 512.5L179.2 511.6L180.3 512.8L179.4 513.7L180.3 514.6L179.2 515.7L178.3 514.8L177.4 515.7L176.2 514.6L177.1 513.7zM183.9 513L185 511.9L185.9 512.8L186.8 511.9L188 513L187.1 513.9L188 514.8L186.8 516L185.9 515.1L185 516L183.9 514.8L184.8 513.9zM191.5 513.2L192.7 512.1L193.6 513L194.5 512.1L195.6 513.2L194.7 514.1L195.6 515L194.5 516.2L193.6 515.3L192.7 516.2L191.5 515L192.4 514.1zM199.2 513.4L200.3 512.3L201.2 513.2L202.1 512.3L203.3 513.4L202.3 514.3L203.3 515.2L202.1 516.4L201.2 515.5L200.3 516.4L199.2 515.2L200.1 514.3zM206.8 513.5L207.9 512.4L208.8 513.3L209.7 512.4L210.9 513.5L210 514.4L210.9 515.4L209.7 516.5L208.8 515.6L207.9 516.5L206.8 515.4L207.7 514.4zM214.4 513.7L215.6 512.5L216.5 513.4L217.4 512.5L218.5 513.7L217.6 514.6L218.5 515.5L217.4 516.6L216.5 515.7L215.6 516.6L214.4 515.5L215.3 514.6zM222.1 513.8L223.2 512.6L224.1 513.5L225 512.6L226.2 513.8L225.3 514.7L226.2 515.6L225 516.7L224.1 515.8L223.2 516.7L222.1 515.6L223 514.7zM229.7 513.9L230.9 512.7L231.8 513.6L232.7 512.7L233.8 513.9L232.9 514.8L233.8 515.7L232.7 516.8L231.8 515.9L230.9 516.8L229.7 515.7L230.6 514.8z" fill="#ff1493"/>
</g>
<path d="M103.8 439L236.4 515.3M188 439L239.4 515.3" stroke="#333" stroke-width="0.85" fill="none"/>
<rect x="236.4" y="514.7" width="3" height="1.2" fill="#555" />
<rect x="103.8" y="402.3" width="84.2" height="36.7" fill="#fff" stroke="#626262" stroke-width="0.95"/>
<path d="M125.4 402.3V439M146.3 402.3V439M167.1 402.3V439M103.8 416H188M103.8 429.5H188" stroke="#d4d4d4" stroke-width="0.5" fill="none"/>
<path d="M104.5 403.6L120.9 404L137.6 404.8L154.2 406.6L162 408.5L170.7 413.8L179.6 416.8" stroke="#ff1493" stroke-width="1.2" stroke-dasharray="4 1.7" fill="none"/>
<path d="M102.3 402.6L103.5 401.4L104.5 402.4L105.5 401.4L106.7 402.6L105.7 403.6L106.7 404.6L105.5 405.8L104.5 404.8L103.5 405.8L102.3 404.6L103.3 403.6zM118.7 403L119.9 401.8L120.9 402.8L121.9 401.8L123.1 403L122.1 404L123.1 405L121.9 406.2L120.9 405.2L119.9 406.2L118.7 405L119.7 404zM135.4 403.8L136.6 402.6L137.6 403.6L138.6 402.6L139.8 403.8L138.8 404.8L139.8 405.8L138.6 407L137.6 406L136.6 407L135.4 405.8L136.4 404.8zM152 405.6L153.2 404.4L154.2 405.4L155.2 404.4L156.4 405.6L155.4 406.6L156.4 407.6L155.2 408.8L154.2 407.8L153.2 408.8L152 407.6L153 406.6zM168.5 412.8L169.7 411.6L170.7 412.6L171.7 411.6L172.9 412.8L171.9 413.8L172.9 414.8L171.7 416L170.7 415L169.7 416L168.5 414.8L169.5 413.8z" fill="#ff1493"/>
<path d="M104.5 437.7L179.6 437.9" stroke="#06069a" stroke-width="1.2" stroke-dasharray="2.6 1.6" fill="none"/>
<path d="M104.5 435.4L105.1 436.9L106.7 437L105.5 438L105.9 439.6L104.5 438.7L103.1 439.6L103.5 438L102.3 437L103.9 436.9zM120.9 435.4L121.5 436.9L123.1 437L121.9 438L122.3 439.6L120.9 438.7L119.5 439.6L119.9 438L118.7 437L120.3 436.9zM137.6 435.4L138.2 436.9L139.8 437L138.6 438L139 439.6L137.6 438.7L136.2 439.6L136.6 438L135.4 437L137 436.9zM154.2 435.4L154.8 436.9L156.4 437L155.2 438L155.6 439.6L154.2 438.7L152.8 439.6L153.2 438L152 437L153.6 436.9zM170.7 435.4L171.3 436.9L172.9 437L171.7 438L172.1 439.6L170.7 438.7L169.3 439.6L169.7 438L168.5 437L170.1 436.9z" fill="#06069a"/>
<text x="105.1" y="446.8" font-size="6.0" text-anchor="middle" fill="#111">490.0</text>
<text x="125.5" y="446.8" font-size="6.0" text-anchor="middle" fill="#111">492.5</text>
<text x="147.3" y="446.8" font-size="6.0" text-anchor="middle" fill="#111">495.0</text>
<text x="168.2" y="446.8" font-size="6.0" text-anchor="middle" fill="#111">497.5</text>
<text x="188.5" y="446.8" font-size="6.0" text-anchor="middle" fill="#111">500.0</text>
<text x="101.5" y="404.9" font-size="6.0" text-anchor="end" fill="#111">0.06</text>
<text x="101.5" y="418.1" font-size="6.0" text-anchor="end" fill="#111">0.05</text>
<text x="101.5" y="431.6" font-size="6.0" text-anchor="end" fill="#111">0.04</text>
<text x="104.3" y="400.7" font-size="3.7" fill="#222">+7.001e2</text>
<rect x="38.8" y="395.85" width="210.1" height="124.95" fill="none" stroke="#8f8f8f" stroke-width="1.15"/>
<text transform="translate(48.4 528.2) scale(.89 1)" font-size="6.2" text-anchor="middle" fill="#151515">0</text>
<text transform="translate(86.6 528.2) scale(.89 1)" font-size="6.2" text-anchor="middle" fill="#151515">100</text>
<text transform="translate(124.8 528.2) scale(.89 1)" font-size="6.2" text-anchor="middle" fill="#151515">200</text>
<text transform="translate(163 528.2) scale(.89 1)" font-size="6.2" text-anchor="middle" fill="#151515">300</text>
<text transform="translate(201.2 528.2) scale(.89 1)" font-size="6.2" text-anchor="middle" fill="#151515">400</text>
<text transform="translate(239.4 528.2) scale(.89 1)" font-size="6.2" text-anchor="middle" fill="#151515">500</text>
<text transform="translate(36.1 518.8) scale(0.98 1)" font-size="6.2" text-anchor="end" fill="#151515">700</text>
<text transform="translate(36.1 501.12) scale(0.98 1)" font-size="6.2" text-anchor="end" fill="#151515">702</text>
<text transform="translate(36.1 483.43) scale(0.98 1)" font-size="6.2" text-anchor="end" fill="#151515">704</text>
<text transform="translate(36.1 465.75) scale(0.98 1)" font-size="6.2" text-anchor="end" fill="#151515">706</text>
<text transform="translate(36.1 448.07) scale(0.98 1)" font-size="6.2" text-anchor="end" fill="#151515">708</text>
<text transform="translate(36.1 430.39) scale(0.98 1)" font-size="6.2" text-anchor="end" fill="#151515">710</text>
<text transform="translate(36.1 412.7) scale(0.98 1)" font-size="6.2" text-anchor="end" fill="#151515">712</text>
<text x="143.85" y="394.35" font-size="8.9" font-weight="bold" text-anchor="middle" fill="#111">C7</text>
<text transform="translate(143.85 536.7) scale(.93 1)" font-family='"Liberation Serif", "DejaVu Serif", serif' font-size="9.2" font-weight="bold" text-anchor="middle" fill="#111">Iterations</text>
<text transform="translate(22.4 458.32) rotate(-90)" font-family='"Liberation Serif", "DejaVu Serif", serif' font-size="8.6" font-weight="bold" text-anchor="middle" fill="#111">Y--Fitness</text>
</g>
<g>
<clipPath id="clipC8"><rect x="334.5" y="394.4" width="210.1" height="124.7"/></clipPath>
<rect x="334.5" y="394.4" width="210.1" height="124.7" fill="#fff"/>
<path d="M343.8 394.4V519.1M382.08 394.4V519.1M420.36 394.4V519.1M458.64 394.4V519.1M496.92 394.4V519.1M535.2 394.4V519.1" stroke="#d6d6d6" stroke-width="0.55" fill="none"/>
<g clip-path="url(#clipC8)">
<path d="M343.8 413L344.6 417.3L345.3 420.3L346.1 422.8L346.9 424.9L347.6 426.9L348.4 428.6L349.2 430.3L349.9 431.8L350.7 433.3L351.5 434.6L353 437.3L354.5 439.8L356 442.1L357.6 444.2L359.1 446.1L360.6 447.8L362.2 449.4L363.7 450.9L365.2 452.3L366.8 453.7L368.3 455.1L369.8 456.4L371.4 457.7L372.9 458.9L374.4 460.1L376 461.2L377.5 462.3L379 463.3L380.5 464.3L382.1 465.2L385.1 466.9L388.2 468.4L391.3 469.6L394.3 470.6L397.4 471.5L400.5 472.6L403.5 473.7L406.6 474.4L409.6 475L412.7 475.4L415.8 475.8L418.8 476.3L421.9 477L425 477.7L428 478.5L431.1 479.4L434.1 480.2L437.2 481.1L440.3 481.9L443.3 482.7L446.4 483.6L449.5 484.4L452.5 485.2L455.6 486L458.6 486.8L461.7 487.7L464.8 488.6L467.8 489.5L470.9 490.3L474 491.1L477 491.8L480.1 492.3L483.1 492.8L486.2 493.2L489.3 493.6L492.3 493.9L495.4 494.3L498.5 494.6L501.5 495L504.6 495.3L507.6 495.6L510.7 495.9L513.8 496.1L516.8 496.3L519.9 496.4L523 496.6L526 496.7L529.1 496.8L532.1 496.9L534.8 497" stroke="#5b93d6" stroke-width="0.75" stroke-dasharray="3.8 1.4 0.8 1.4" fill="none"/>
<path d="M343.8 413v1.4M342.7 412.3l1.1 0.7l1.1 -0.7M351.5 434.6v1.4M350.3 433.9l1.1 0.7l1.1 -0.7M359.1 446.1v1.4M358 445.4l1.1 0.7l1.1 -0.7M366.8 453.7v1.4M365.6 453l1.1 0.7l1.1 -0.7M374.4 460.1v1.4M373.3 459.4l1.1 0.7l1.1 -0.7M382.1 465.2v1.4M381 464.5l1.1 0.7l1.1 -0.7M389.7 469v1.4M388.6 468.3l1.1 0.7l1.1 -0.7M397.4 471.5v1.4M396.3 470.8l1.1 0.7l1.1 -0.7M405 474.1v1.4M403.9 473.4l1.1 0.7l1.1 -0.7M412.7 475.4v1.4M411.6 474.7l1.1 0.7l1.1 -0.7M420.4 476.6v1.4M419.2 475.9l1.1 0.7l1.1 -0.7M428 478.5v1.4M426.9 477.8l1.1 0.7l1.1 -0.7M435.7 480.7v1.4M434.6 480l1.1 0.7l1.1 -0.7M443.3 482.7v1.4M442.2 482l1.1 0.7l1.1 -0.7M451 484.8v1.4M449.9 484.1l1.1 0.7l1.1 -0.7M458.6 486.8v1.4M457.5 486.1l1.1 0.7l1.1 -0.7M466.3 489v1.4M465.2 488.3l1.1 0.7l1.1 -0.7M474 491.1v1.4M472.8 490.4l1.1 0.7l1.1 -0.7M481.6 492.5v1.4M480.5 491.8l1.1 0.7l1.1 -0.7M489.3 493.6v1.4M488.1 492.9l1.1 0.7l1.1 -0.7M496.9 494.5v1.4M495.8 493.8l1.1 0.7l1.1 -0.7M504.6 495.3v1.4M503.5 494.6l1.1 0.7l1.1 -0.7M512.2 496v1.4M511.1 495.3l1.1 0.7l1.1 -0.7M519.9 496.4v1.4M518.8 495.7l1.1 0.7l1.1 -0.7M527.5 496.8v1.4M526.4 496.1l1.1 0.7l1.1 -0.7" stroke="#5b93d6" stroke-width="0.62" fill="none"/>
<path d="M343.8 430.8L344.6 442.2L345.3 449.2L346.1 454.4L346.9 458.3L347.6 461.5L348.4 464.1L349.2 466.2L349.9 467.9L350.7 469.2L351.5 470.3L353 471.8L354.5 472.9L356 473.7L357.6 474.5L359.1 475.4L360.6 476.2L362.2 477L363.7 477.8L365.2 478.5L366.8 479.2L368.3 479.8L369.8 480.3L371.4 480.8L372.9 481.3L374.4 481.7L376 482.2L377.5 482.6L379 483L380.5 483.4L382.1 483.8L385.1 484.3L388.2 484.8L391.3 485.4L394.3 486.1L397.4 486.8L400.5 487.4L403.5 487.9L406.6 488.3L409.6 488.7L412.7 489L415.8 489.3L418.8 489.7L421.9 490.1L425 490.5L428 490.9L431.1 491.3L434.1 491.7L437.2 492.1L440.3 492.5L443.3 492.9L446.4 493.4L449.5 493.8L452.5 494.2L455.6 494.6L458.6 495L461.7 495.3L464.8 495.7L467.8 496L470.9 496.4L474 496.7L477 496.9L480.1 497.2L483.1 497.4L486.2 497.6L489.3 497.8L492.3 498L495.4 498.2L498.5 498.4L501.5 498.6L504.6 498.8L507.6 499L510.7 499.2L513.8 499.4L516.8 499.6L519.9 499.7L523 499.9L526 500L529.1 500.1L532.1 500.2L534.8 500.3" stroke="#f59b12" stroke-width="1.2" stroke-dasharray="4 1.7" fill="none"/>
<path d="M343.8 428.9l1.9 3.4h-3.8zM351.5 468.4l1.9 3.4h-3.8zM359.1 473.5l1.9 3.4h-3.8zM366.8 477.3l1.9 3.4h-3.8zM374.4 479.8l1.9 3.4h-3.8zM382.1 481.9l1.9 3.4h-3.8zM389.7 483.1l1.9 3.4h-3.8zM397.4 484.9l1.9 3.4h-3.8zM405 486.2l1.9 3.4h-3.8zM412.7 487.1l1.9 3.4h-3.8zM420.4 488l1.9 3.4h-3.8zM428 489l1.9 3.4h-3.8zM435.7 490l1.9 3.4h-3.8zM443.3 491l1.9 3.4h-3.8zM451 492.1l1.9 3.4h-3.8zM458.6 493.1l1.9 3.4h-3.8zM466.3 494l1.9 3.4h-3.8zM474 494.8l1.9 3.4h-3.8zM481.6 495.4l1.9 3.4h-3.8zM489.3 495.9l1.9 3.4h-3.8zM496.9 496.4l1.9 3.4h-3.8zM504.6 496.9l1.9 3.4h-3.8zM512.2 497.4l1.9 3.4h-3.8zM519.9 497.8l1.9 3.4h-3.8zM527.5 498.2l1.9 3.4h-3.8z" fill="#f59b12"/>
<path d="M343.8 402.8L344.6 403.4L345.3 404.4L346.1 405.5L346.9 406.6L347.6 407.6L348.4 408.7L349.2 409.7L349.9 410.7L350.7 411.6L351.5 412.5L353 414.7L354.5 417.4L356 420.1L357.6 422.6L359.1 424.5L360.6 425.9L362.2 427.1L363.7 428.2L365.2 429.2L366.8 430.3L368.3 431.4L369.8 432.5L371.4 433.5L372.9 434.7L374.4 435.9L376 437.4L377.5 439.1L379 440.8L380.5 442.5L382.1 444.1L385.1 446.8L388.2 449.2L391.3 451.5L394.3 453.6L397.4 455.8L400.5 458.2L403.5 460.8L406.6 463.4L409.6 466.1L412.7 468.5L415.8 470.5L418.8 472.3L421.9 473.8L425 474.9L428 476.1L431.1 477.5L434.1 478.8L437.2 479.9L440.3 480.7L443.3 481.7L446.4 483.6L449.5 485.8L452.5 487.7L455.6 489.3L458.6 490.6L461.7 491.6L464.8 492.3L467.8 493.1L470.9 493.8L474 494.5L477 495L480.1 495.5L483.1 495.9L486.2 496.2L489.3 496.5L492.3 496.7L495.4 496.9L498.5 497.1L501.5 497.2L504.6 497.3L507.6 497.4L510.7 497.5L513.8 497.5L516.8 497.6L519.9 497.7L523 497.7L526 497.8L529.1 497.8L532.1 497.8L534.8 497.8" stroke="#0bd264" stroke-width="1.2" stroke-dasharray="4 1.7" fill="none"/>
<path d="M341.8 400.8h4v4h-4zM349.5 410.5h4v4h-4zM357.1 422.5h4v4h-4zM364.8 428.3h4v4h-4zM372.4 433.9h4v4h-4zM380.1 442.1h4v4h-4zM387.7 448.4h4v4h-4zM395.4 453.8h4v4h-4zM403 460.1h4v4h-4zM410.7 466.5h4v4h-4zM418.4 471.1h4v4h-4zM426 474.1h4v4h-4zM433.7 477.4h4v4h-4zM441.3 479.7h4v4h-4zM449 484.8h4v4h-4zM456.6 488.6h4v4h-4zM464.3 490.7h4v4h-4zM472 492.5h4v4h-4zM479.6 493.7h4v4h-4zM487.3 494.5h4v4h-4zM494.9 495h4v4h-4zM502.6 495.3h4v4h-4zM510.2 495.5h4v4h-4zM517.9 495.7h4v4h-4zM525.5 495.8h4v4h-4z" fill="#0bd264"/>
<path d="M343.8 410.5L344.6 414.2L345.3 417L346.1 419.4L346.9 421.6L347.6 423.6L348.4 425.5L349.2 427.2L349.9 428.9L350.7 430.5L351.5 432.1L353 435.3L354.5 438.6L356 441.7L357.6 444.4L359.1 446.6L360.6 448.3L362.2 449.8L363.7 451.1L365.2 452.4L366.8 453.7L368.3 455L369.8 456.3L371.4 457.6L372.9 458.9L374.4 460.1L376 461.4L377.5 462.7L379 464L380.5 465.1L382.1 465.9L385.1 467L388.2 467.8L391.3 468.8L394.3 470.3L397.4 471.5L400.5 472.4L403.5 473.2L406.6 474L409.6 474.7L412.7 475.4L415.8 476.1L418.8 476.8L421.9 477.5L425 478.1L428 478.7L431.1 479.2L434.1 479.7L437.2 480.1L440.3 480.6L443.3 481L446.4 481.4L449.5 481.8L452.5 482.2L455.6 482.6L458.6 483L461.7 483.4L464.8 483.7L467.8 484L470.9 484.3L474 484.7L477 485L480.1 485.3L483.1 485.6L486.2 485.9L489.3 486.2L492.3 486.5L495.4 486.7L498.5 486.9L501.5 487L504.6 487.2L507.6 487.3L510.7 487.4L513.8 487.5L516.8 487.6L519.9 487.7L523 487.9L526 488L529.1 488.1L532.1 488.2L534.8 488.3" stroke="#de4b34" stroke-width="1.2" stroke-dasharray="4 1.7" fill="none"/>
<path d="M343.8 407.9l1.4 2.6l-1.4 2.6l-1.4 -2.6zM351.5 429.5l1.4 2.6l-1.4 2.6l-1.4 -2.6zM359.1 444l1.4 2.6l-1.4 2.6l-1.4 -2.6zM366.8 451.1l1.4 2.6l-1.4 2.6l-1.4 -2.6zM374.4 457.5l1.4 2.6l-1.4 2.6l-1.4 -2.6zM382.1 463.3l1.4 2.6l-1.4 2.6l-1.4 -2.6zM389.7 465.6l1.4 2.6l-1.4 2.6l-1.4 -2.6zM397.4 468.9l1.4 2.6l-1.4 2.6l-1.4 -2.6zM405 471l1.4 2.6l-1.4 2.6l-1.4 -2.6zM412.7 472.8l1.4 2.6l-1.4 2.6l-1.4 -2.6zM420.4 474.5l1.4 2.6l-1.4 2.6l-1.4 -2.6zM428 476.1l1.4 2.6l-1.4 2.6l-1.4 -2.6zM435.7 477.3l1.4 2.6l-1.4 2.6l-1.4 -2.6zM443.3 478.4l1.4 2.6l-1.4 2.6l-1.4 -2.6zM451 479.4l1.4 2.6l-1.4 2.6l-1.4 -2.6zM458.6 480.4l1.4 2.6l-1.4 2.6l-1.4 -2.6zM466.3 481.3l1.4 2.6l-1.4 2.6l-1.4 -2.6zM474 482.1l1.4 2.6l-1.4 2.6l-1.4 -2.6zM481.6 482.8l1.4 2.6l-1.4 2.6l-1.4 -2.6zM489.3 483.6l1.4 2.6l-1.4 2.6l-1.4 -2.6zM496.9 484.2l1.4 2.6l-1.4 2.6l-1.4 -2.6zM504.6 484.6l1.4 2.6l-1.4 2.6l-1.4 -2.6zM512.2 484.8l1.4 2.6l-1.4 2.6l-1.4 -2.6zM519.9 485.1l1.4 2.6l-1.4 2.6l-1.4 -2.6zM527.5 485.4l1.4 2.6l-1.4 2.6l-1.4 -2.6z" fill="#de4b34"/>
<path d="M343.8 423.2L344.6 427.9L345.3 431.1L346.1 433.8L346.9 436L347.6 438L348.4 439.9L349.2 441.6L349.9 443.2L350.7 444.7L351.5 446.1L353 448.9L354.5 451.7L356 454.1L357.6 456.1L359.1 457.5L360.6 458.5L362.2 459.2L363.7 459.9L365.2 460.5L366.8 461.4L368.3 462.5L369.8 463.8L371.4 465.1L372.9 466.5L374.4 467.7L376 468.8L377.5 469.8L379 470.7L380.5 471.7L382.1 472.8L385.1 475.5L388.2 478.2L391.3 479.8L394.3 480.8L397.4 481.7L400.5 483L403.5 484.2L406.6 485.2L409.6 486L412.7 486.8L415.8 487.6L418.8 488.5L421.9 489.2L425 490L428 490.8L431.1 491.5L434.1 492.3L437.2 493.1L440.3 493.8L443.3 494.6L446.4 495.4L449.5 496.1L452.5 496.9L455.6 497.7L458.6 498.3L461.7 498.6L464.8 498.9L467.8 499.1L470.9 499.2L474 499.4L477 499.5L480.1 499.6L483.1 499.7L486.2 499.8L489.3 499.9L492.3 500L495.4 500L498.5 500.1L501.5 500.2L504.6 500.2L507.6 500.3L510.7 500.4L513.8 500.4L516.8 500.5L519.9 500.5L523 500.6L526 500.7L529.1 500.7L532.1 500.8L534.8 500.8" stroke="#ab76f7" stroke-width="1.2" stroke-dasharray="4 1.5 0.9 1.5" fill="none"/>
<path d="M342.1 423.2a1.8 1.8 0 1 0 3.5 0a1.8 1.8 0 1 0 -3.5 0zM349.7 446.1a1.8 1.8 0 1 0 3.5 0a1.8 1.8 0 1 0 -3.5 0zM357.4 457.5a1.8 1.8 0 1 0 3.5 0a1.8 1.8 0 1 0 -3.5 0zM365 461.4a1.8 1.8 0 1 0 3.5 0a1.8 1.8 0 1 0 -3.5 0zM372.7 467.7a1.8 1.8 0 1 0 3.5 0a1.8 1.8 0 1 0 -3.5 0zM380.3 472.8a1.8 1.8 0 1 0 3.5 0a1.8 1.8 0 1 0 -3.5 0zM388 479.2a1.8 1.8 0 1 0 3.5 0a1.8 1.8 0 1 0 -3.5 0zM395.6 481.7a1.8 1.8 0 1 0 3.5 0a1.8 1.8 0 1 0 -3.5 0zM403.3 484.8a1.8 1.8 0 1 0 3.5 0a1.8 1.8 0 1 0 -3.5 0zM411 486.8a1.8 1.8 0 1 0 3.5 0a1.8 1.8 0 1 0 -3.5 0zM418.6 488.9a1.8 1.8 0 1 0 3.5 0a1.8 1.8 0 1 0 -3.5 0zM426.3 490.8a1.8 1.8 0 1 0 3.5 0a1.8 1.8 0 1 0 -3.5 0zM433.9 492.7a1.8 1.8 0 1 0 3.5 0a1.8 1.8 0 1 0 -3.5 0zM441.6 494.6a1.8 1.8 0 1 0 3.5 0a1.8 1.8 0 1 0 -3.5 0zM449.2 496.5a1.8 1.8 0 1 0 3.5 0a1.8 1.8 0 1 0 -3.5 0zM456.9 498.3a1.8 1.8 0 1 0 3.5 0a1.8 1.8 0 1 0 -3.5 0zM464.5 499a1.8 1.8 0 1 0 3.5 0a1.8 1.8 0 1 0 -3.5 0zM472.2 499.4a1.8 1.8 0 1 0 3.5 0a1.8 1.8 0 1 0 -3.5 0zM479.9 499.7a1.8 1.8 0 1 0 3.5 0a1.8 1.8 0 1 0 -3.5 0zM487.5 499.9a1.8 1.8 0 1 0 3.5 0a1.8 1.8 0 1 0 -3.5 0zM495.2 500.1a1.8 1.8 0 1 0 3.5 0a1.8 1.8 0 1 0 -3.5 0zM502.8 500.2a1.8 1.8 0 1 0 3.5 0a1.8 1.8 0 1 0 -3.5 0zM510.5 500.4a1.8 1.8 0 1 0 3.5 0a1.8 1.8 0 1 0 -3.5 0zM518.1 500.5a1.8 1.8 0 1 0 3.5 0a1.8 1.8 0 1 0 -3.5 0zM525.8 500.7a1.8 1.8 0 1 0 3.5 0a1.8 1.8 0 1 0 -3.5 0z" fill="#ab76f7"/>
<path d="M343.8 435.9L344.6 445.1L345.3 450.8L346.1 455.1L346.9 458.4L347.6 461.1L348.4 463.3L349.2 465.1L349.9 466.7L350.7 467.9L351.5 469L353 470.6L354.5 471.8L356 472.8L357.6 473.7L359.1 474.6L360.6 475.5L362.2 476.4L363.7 477.2L365.2 478L366.8 478.7L368.3 479.3L369.8 479.8L371.4 480.3L372.9 480.8L374.4 481.2L376 481.6L377.5 482L379 482.3L380.5 482.7L382.1 483L385.1 483.7L388.2 484.4L391.3 485.1L394.3 485.7L397.4 486.3L400.5 486.9L403.5 487.4L406.6 487.8L409.6 488.2L412.7 488.5L415.8 488.8L418.8 489.2L421.9 489.6L425 489.9L428 490.3L431.1 490.7L434.1 491.2L437.2 491.6L440.3 492.2L443.3 492.9L446.4 493.5L449.5 494.2L452.5 494.8L455.6 495.3L458.6 495.7L461.7 496.1L464.8 496.4L467.8 496.8L470.9 497.1L474 497.4L477 497.6L480.1 497.9L483.1 498.1L486.2 498.3L489.3 498.5L492.3 498.7L495.4 498.9L498.5 499.1L501.5 499.3L504.6 499.5L507.6 499.6L510.7 499.8L513.8 500L516.8 500.1L519.9 500.2L523 500.4L526 500.5L529.1 500.6L532.1 500.7L534.8 500.8" stroke="#ad5f35" stroke-width="1.1" stroke-dasharray="4 1.7" fill="none"/>
<path d="M343.8 434.4v3M351.5 467.5v3M359.1 473.1v3M366.8 477.2v3M374.4 479.7v3M382.1 481.5v3M389.7 483.3v3M397.4 484.8v3M405 486.1v3M412.7 487v3M420.4 487.9v3M428 488.8v3M435.7 489.9v3M443.3 491.4v3M451 493v3M458.6 494.2v3M466.3 495.1v3M474 495.9v3M481.6 496.5v3M489.3 497v3M496.9 497.5v3M504.6 498v3M512.2 498.4v3M519.9 498.7v3M527.5 499.1v3" stroke="#ad5f35" stroke-width="0.9" fill="none"/>
<path d="M343.8 415.5L344.6 422.1L345.3 426.4L346.1 429.7L346.9 432.4L347.6 434.8L348.4 436.9L349.2 438.8L349.9 440.5L350.7 442.1L351.5 443.5L353 446.1L354.5 448.4L356 450.3L357.6 452.1L359.1 453.7L360.6 455.2L362.2 456.5L363.7 457.8L365.2 459L366.8 460.1L368.3 461.2L369.8 462.3L371.4 463.3L372.9 464.3L374.4 465.2L376 466L377.5 466.9L379 467.6L380.5 468.4L382.1 469L385.1 470.1L388.2 471.1L391.3 472L394.3 472.9L397.4 473.6L400.5 474.2L403.5 474.7L406.6 475.2L409.6 475.6L412.7 476L415.8 476.4L418.8 476.7L421.9 477L425 477.3L428 477.6L431.1 477.9L434.1 478.1L437.2 478.4L440.3 478.6L443.3 478.8L446.4 479L449.5 479.2L452.5 479.4L455.6 479.5L458.6 479.7L461.7 479.8L464.8 480L467.8 480.1L470.9 480.3L474 480.4L477 480.5L480.1 480.6L483.1 480.7L486.2 480.9L489.3 481L492.3 481.1L495.4 481.2L498.5 481.3L501.5 481.4L504.6 481.5L507.6 481.5L510.7 481.6L513.8 481.7L516.8 481.8L519.9 481.9L523 482L526 482L529.1 482.1L532.1 482.2L534.8 482.2" stroke="#e682de" stroke-width="0.75" stroke-dasharray="3.8 1.4 0.8 1.4" fill="none"/>
<path d="M342.5 415.5h2.6m-1.3 -1.3v2.6M350.2 443.5h2.6m-1.3 -1.3v2.6M357.8 453.7h2.6m-1.3 -1.3v2.6M365.5 460.1h2.6m-1.3 -1.3v2.6M373.1 465.2h2.6m-1.3 -1.3v2.6M380.8 469h2.6m-1.3 -1.3v2.6M388.4 471.5h2.6m-1.3 -1.3v2.6M396.1 473.6h2.6m-1.3 -1.3v2.6M403.7 475h2.6m-1.3 -1.3v2.6M411.4 476h2.6m-1.3 -1.3v2.6M419.1 476.9h2.6m-1.3 -1.3v2.6M426.7 477.6h2.6m-1.3 -1.3v2.6M434.4 478.2h2.6m-1.3 -1.3v2.6M442 478.8h2.6m-1.3 -1.3v2.6M449.7 479.3h2.6m-1.3 -1.3v2.6M457.3 479.7h2.6m-1.3 -1.3v2.6M465 480.1h2.6m-1.3 -1.3v2.6M472.7 480.4h2.6m-1.3 -1.3v2.6M480.3 480.7h2.6m-1.3 -1.3v2.6M488 481h2.6m-1.3 -1.3v2.6M495.6 481.2h2.6m-1.3 -1.3v2.6M503.3 481.5h2.6m-1.3 -1.3v2.6M510.9 481.7h2.6m-1.3 -1.3v2.6M518.6 481.9h2.6m-1.3 -1.3v2.6M526.2 482.1h2.6m-1.3 -1.3v2.6" stroke="#e682de" stroke-width="0.65" fill="none"/>
<path d="M343.8 435.9L344.6 445.3L345.3 450.7L346.1 454.4L346.9 457L347.6 458.8L348.4 460.1L349.2 461.2L349.9 462L350.7 462.7L351.5 463.4L353 464.5L354.5 465.5L356 466.3L357.6 467.1L359.1 467.7L360.6 468.3L362.2 468.9L363.7 469.4L365.2 469.9L366.8 470.3L368.3 470.6L369.8 470.9L371.4 471.1L372.9 471.3L374.4 471.5L376 471.7L377.5 471.9L379 472L380.5 472.2L382.1 472.3L385.1 472.5L388.2 472.7L391.3 472.9L394.3 473.1L397.4 473.3L400.5 473.6L403.5 474L406.6 474.2L409.6 474.3L412.7 474.4L415.8 474.5L418.8 474.6L421.9 474.6L425 474.7L428 474.8L431.1 474.9L434.1 474.9L437.2 475L440.3 475.1L443.3 475.1L446.4 475.2L449.5 475.2L452.5 475.3L455.6 475.3L458.6 475.4L461.7 475.4L464.8 475.4L467.8 475.4L470.9 475.5L474 475.5L477 475.5L480.1 475.5L483.1 475.5L486.2 475.6L489.3 475.6L492.3 475.6L495.4 475.6L498.5 475.6L501.5 475.6L504.6 475.7L507.6 475.7L510.7 475.7L513.8 475.7L516.8 475.8L519.9 475.8L523 475.8L526 475.8L529.1 475.8L532.1 475.9L534.8 475.9" stroke="#b1b1b1" stroke-width="1.1" stroke-dasharray="4 1.7" fill="none"/>
<path d="M342.2 435.9a1.6 1.6 0 1 0 3.1 0a1.6 1.6 0 1 0 -3.1 0zM349.9 463.4a1.6 1.6 0 1 0 3.1 0a1.6 1.6 0 1 0 -3.1 0zM357.6 467.7a1.6 1.6 0 1 0 3.1 0a1.6 1.6 0 1 0 -3.1 0zM365.2 470.3a1.6 1.6 0 1 0 3.1 0a1.6 1.6 0 1 0 -3.1 0zM372.9 471.5a1.6 1.6 0 1 0 3.1 0a1.6 1.6 0 1 0 -3.1 0zM380.5 472.3a1.6 1.6 0 1 0 3.1 0a1.6 1.6 0 1 0 -3.1 0zM388.2 472.8a1.6 1.6 0 1 0 3.1 0a1.6 1.6 0 1 0 -3.1 0zM395.8 473.3a1.6 1.6 0 1 0 3.1 0a1.6 1.6 0 1 0 -3.1 0zM403.5 474.1a1.6 1.6 0 1 0 3.1 0a1.6 1.6 0 1 0 -3.1 0zM411.2 474.4a1.6 1.6 0 1 0 3.1 0a1.6 1.6 0 1 0 -3.1 0zM418.8 474.6a1.6 1.6 0 1 0 3.1 0a1.6 1.6 0 1 0 -3.1 0zM426.5 474.8a1.6 1.6 0 1 0 3.1 0a1.6 1.6 0 1 0 -3.1 0zM434.1 475a1.6 1.6 0 1 0 3.1 0a1.6 1.6 0 1 0 -3.1 0zM441.8 475.1a1.6 1.6 0 1 0 3.1 0a1.6 1.6 0 1 0 -3.1 0zM449.4 475.3a1.6 1.6 0 1 0 3.1 0a1.6 1.6 0 1 0 -3.1 0zM457.1 475.4a1.6 1.6 0 1 0 3.1 0a1.6 1.6 0 1 0 -3.1 0zM464.7 475.4a1.6 1.6 0 1 0 3.1 0a1.6 1.6 0 1 0 -3.1 0zM472.4 475.5a1.6 1.6 0 1 0 3.1 0a1.6 1.6 0 1 0 -3.1 0zM480.1 475.5a1.6 1.6 0 1 0 3.1 0a1.6 1.6 0 1 0 -3.1 0zM487.7 475.6a1.6 1.6 0 1 0 3.1 0a1.6 1.6 0 1 0 -3.1 0zM495.4 475.6a1.6 1.6 0 1 0 3.1 0a1.6 1.6 0 1 0 -3.1 0zM503 475.7a1.6 1.6 0 1 0 3.1 0a1.6 1.6 0 1 0 -3.1 0zM510.7 475.7a1.6 1.6 0 1 0 3.1 0a1.6 1.6 0 1 0 -3.1 0zM518.3 475.8a1.6 1.6 0 1 0 3.1 0a1.6 1.6 0 1 0 -3.1 0zM526 475.8a1.6 1.6 0 1 0 3.1 0a1.6 1.6 0 1 0 -3.1 0z" fill="#b1b1b1"/>
<path d="M343.8 450.7L344.6 458L345.3 462.6L346.1 466L346.9 468.8L347.6 471.1L348.4 473.1L349.2 474.8L349.9 476.2L350.7 477.5L351.5 478.7L353 480.6L354.5 482.1L356 483.4L357.6 484.5L359.1 485.5L360.6 486.5L362.2 487.3L363.7 488.1L365.2 488.8L366.8 489.4L368.3 489.8L369.8 490.3L371.4 490.6L372.9 491L374.4 491.4L376 491.9L377.5 492.3L379 492.8L380.5 493.3L382.1 493.7L385.1 494.4L388.2 494.9L391.3 495.5L394.3 496L397.4 496.5L400.5 497L403.5 497.5L406.6 498L409.6 498.4L412.7 498.8L415.8 499.3L418.8 499.8L421.9 500.2L425 500.5L428 500.8L431.1 501.1L434.1 501.4L437.2 501.7L440.3 502L443.3 502.3L446.4 502.5L449.5 502.8L452.5 503L455.6 503.2L458.6 503.4L461.7 503.5L464.8 503.7L467.8 503.8L470.9 503.9L474 504L477 504.1L480.1 504.2L483.1 504.3L486.2 504.4L489.3 504.5L492.3 504.5L495.4 504.6L498.5 504.7L501.5 504.7L504.6 504.8L507.6 504.8L510.7 504.9L513.8 504.9L516.8 505L519.9 505L523 505L526 505.1L529.1 505.1L532.1 505.1L534.8 505.1" stroke="#cfcf00" stroke-width="1.2" stroke-dasharray="4 1.7" fill="none"/>
<path d="M341.9 450.7a1.9 1.9 0 1 0 3.8 0a1.9 1.9 0 1 0 -3.8 0zM349.6 478.7a1.9 1.9 0 1 0 3.8 0a1.9 1.9 0 1 0 -3.8 0zM357.2 485.5a1.9 1.9 0 1 0 3.8 0a1.9 1.9 0 1 0 -3.8 0zM364.9 489.4a1.9 1.9 0 1 0 3.8 0a1.9 1.9 0 1 0 -3.8 0zM372.5 491.4a1.9 1.9 0 1 0 3.8 0a1.9 1.9 0 1 0 -3.8 0zM380.2 493.7a1.9 1.9 0 1 0 3.8 0a1.9 1.9 0 1 0 -3.8 0zM387.8 495.2a1.9 1.9 0 1 0 3.8 0a1.9 1.9 0 1 0 -3.8 0zM395.5 496.5a1.9 1.9 0 1 0 3.8 0a1.9 1.9 0 1 0 -3.8 0zM403.1 497.8a1.9 1.9 0 1 0 3.8 0a1.9 1.9 0 1 0 -3.8 0zM410.8 498.8a1.9 1.9 0 1 0 3.8 0a1.9 1.9 0 1 0 -3.8 0zM418.5 500.1a1.9 1.9 0 1 0 3.8 0a1.9 1.9 0 1 0 -3.8 0zM426.1 500.8a1.9 1.9 0 1 0 3.8 0a1.9 1.9 0 1 0 -3.8 0zM433.8 501.6a1.9 1.9 0 1 0 3.8 0a1.9 1.9 0 1 0 -3.8 0zM441.4 502.3a1.9 1.9 0 1 0 3.8 0a1.9 1.9 0 1 0 -3.8 0zM449.1 502.9a1.9 1.9 0 1 0 3.8 0a1.9 1.9 0 1 0 -3.8 0zM456.7 503.4a1.9 1.9 0 1 0 3.8 0a1.9 1.9 0 1 0 -3.8 0zM464.4 503.7a1.9 1.9 0 1 0 3.8 0a1.9 1.9 0 1 0 -3.8 0zM472.1 504a1.9 1.9 0 1 0 3.8 0a1.9 1.9 0 1 0 -3.8 0zM479.7 504.2a1.9 1.9 0 1 0 3.8 0a1.9 1.9 0 1 0 -3.8 0zM487.4 504.5a1.9 1.9 0 1 0 3.8 0a1.9 1.9 0 1 0 -3.8 0zM495 504.6a1.9 1.9 0 1 0 3.8 0a1.9 1.9 0 1 0 -3.8 0zM502.7 504.8a1.9 1.9 0 1 0 3.8 0a1.9 1.9 0 1 0 -3.8 0zM510.3 504.9a1.9 1.9 0 1 0 3.8 0a1.9 1.9 0 1 0 -3.8 0zM518 505a1.9 1.9 0 1 0 3.8 0a1.9 1.9 0 1 0 -3.8 0zM525.6 505.1a1.9 1.9 0 1 0 3.8 0a1.9 1.9 0 1 0 -3.8 0z" fill="#cfcf00"/>
<path d="M343.8 405.4L344.6 408.8L345.3 411.2L346.1 413.2L346.9 415L347.6 416.6L348.4 418.1L349.2 419.5L349.9 420.8L350.7 422L351.5 423.2L353 425.4L354.5 427.4L356 429.4L357.6 431.4L359.1 433.4L360.6 435.3L362.2 437.4L363.7 439.4L365.2 441.4L366.8 443.5L368.3 445.7L369.8 448L371.4 450.4L372.9 452.7L374.4 455L376 457.4L377.5 459.8L379 462.2L380.5 464.5L382.1 466.5L385.1 469.7L388.2 472.5L391.3 475.7L394.3 478.9L397.4 483L400.5 490.2L403.5 496.3L406.6 499.4L409.6 501L412.7 502.1L415.8 502.9L418.8 503.4L421.9 503.8L425 504.1L428 504.3L431.1 504.5L434.1 504.6L437.2 504.7L440.3 504.7L443.3 504.8L446.4 504.8L449.5 504.8L452.5 504.8L455.6 504.9L458.6 504.9L461.7 504.9L464.8 504.9L467.8 505L470.9 505L474 505L477 505.1L480.1 505.1L483.1 505.1L486.2 505.1L489.3 505.1L492.3 505.1L495.4 505.1L498.5 505.1L501.5 505.1L504.6 505.1L507.6 505.1L510.7 505.1L513.8 505.1L516.8 505.1L519.9 505.1L523 505.1L526 505.1L529.1 505.1L532.1 505.1L534.8 505.1" stroke="#ff8f57" stroke-width="0.85" stroke-dasharray="3.8 1.4 0.8 1.4" fill="none"/>
<path d="M342.3 403.9l3 3m0 -3l-3 3M350 421.7l3 3m0 -3l-3 3M357.6 431.9l3 3m0 -3l-3 3M365.3 442l3 3m0 -3l-3 3M372.9 453.5l3 3m0 -3l-3 3M380.6 465l3 3m0 -3l-3 3M388.2 472.6l3 3m0 -3l-3 3M395.9 481.5l3 3m0 -3l-3 3M403.5 496.8l3 3m0 -3l-3 3M411.2 500.6l3 3m0 -3l-3 3M418.9 502.1l3 3m0 -3l-3 3M426.5 502.8l3 3m0 -3l-3 3M434.2 503.1l3 3m0 -3l-3 3M441.8 503.3l3 3m0 -3l-3 3M449.5 503.3l3 3m0 -3l-3 3M457.1 503.4l3 3m0 -3l-3 3M464.8 503.5l3 3m0 -3l-3 3M472.5 503.5l3 3m0 -3l-3 3M480.1 503.6l3 3m0 -3l-3 3M487.8 503.6l3 3m0 -3l-3 3M495.4 503.6l3 3m0 -3l-3 3M503.1 503.6l3 3m0 -3l-3 3M510.7 503.6l3 3m0 -3l-3 3M518.4 503.6l3 3m0 -3l-3 3M526 503.6l3 3m0 -3l-3 3" stroke="#ff8f57" stroke-width="0.66" fill="none"/>
<path d="M343.8 433.4L344.6 450.3L345.3 460.2L346.1 467.3L346.9 472.6L347.6 476.6L348.4 479.8L349.2 482.4L349.9 484.5L350.7 486.4L351.5 488.1L353 491.1L354.5 493.6L356 495.8L357.6 497.6L359.1 499L360.6 500.2L362.2 501.2L363.7 502.1L365.2 502.8L366.8 503.4L368.3 503.8L369.8 504.2L371.4 504.5L372.9 504.8L374.4 505.1L376 505.5L377.5 505.8L379 506.1L380.5 506.4L382.1 506.7L385.1 507.1L388.2 507.5L391.3 507.8L394.3 508L397.4 508.2L400.5 508.3L403.5 508.4L406.6 508.5L409.6 508.6L412.7 508.7L415.8 508.8L418.8 508.9L421.9 509L425 509.1L428 509.1L431.1 509.2L434.1 509.2L437.2 509.2L440.3 509.3L443.3 509.3L446.4 509.3L449.5 509.3L452.5 509.4L455.6 509.4L458.6 509.4L461.7 509.4L464.8 509.5L467.8 509.5L470.9 509.5L474 509.5L477 509.6L480.1 509.6L483.1 509.6L486.2 509.6L489.3 509.6L492.3 509.6L495.4 509.6L498.5 509.7L501.5 509.7L504.6 509.7L507.6 509.7L510.7 509.7L513.8 509.7L516.8 509.7L519.9 509.7L523 509.7L526 509.7L529.1 509.7L532.1 509.7L534.8 509.7" stroke="#06069a" stroke-width="1.2" stroke-dasharray="4 1.7" fill="none"/>
<path d="M343.8 431.2L344.4 432.6L345.8 432.7L344.7 433.7L345.1 435.1L343.8 434.3L342.5 435.1L342.9 433.7L341.8 432.7L343.2 432.6zM351.5 485.9L352 487.3L353.5 487.4L352.4 488.4L352.7 489.8L351.5 489.1L350.2 489.8L350.5 488.4L349.4 487.4L350.9 487.3zM359.1 496.9L359.7 498.3L361.2 498.4L360 499.3L360.4 500.8L359.1 500L357.8 500.8L358.2 499.3L357.1 498.4L358.5 498.3zM366.8 501.2L367.3 502.6L368.8 502.7L367.7 503.7L368 505.1L366.8 504.3L365.5 505.1L365.8 503.7L364.7 502.7L366.2 502.6zM374.4 503L375 504.4L376.5 504.5L375.3 505.4L375.7 506.9L374.4 506.1L373.2 506.9L373.5 505.4L372.4 504.5L373.9 504.4zM382.1 504.5L382.6 505.9L384.1 506L383 507L383.3 508.4L382.1 507.6L380.8 508.4L381.2 507L380 506L381.5 505.9zM389.7 505.5L390.3 506.9L391.8 507L390.7 508L391 509.4L389.7 508.7L388.5 509.4L388.8 508L387.7 507L389.2 506.9zM397.4 506.1L398 507.4L399.4 507.5L398.3 508.5L398.7 509.9L397.4 509.2L396.1 509.9L396.5 508.5L395.3 507.5L396.8 507.4zM405 506.3L405.6 507.7L407.1 507.8L406 508.8L406.3 510.2L405 509.4L403.8 510.2L404.1 508.8L403 507.8L404.5 507.7zM412.7 506.6L413.3 507.9L414.7 508.1L413.6 509L414 510.5L412.7 509.7L411.4 510.5L411.8 509L410.7 508.1L412.1 507.9zM420.4 506.8L420.9 508.2L422.4 508.3L421.3 509.3L421.6 510.7L420.4 509.9L419.1 510.7L419.4 509.3L418.3 508.3L419.8 508.2zM428 507L428.6 508.3L430.1 508.5L428.9 509.4L429.3 510.9L428 510.1L426.8 510.9L427.1 509.4L426 508.5L427.4 508.3zM435.7 507.1L436.2 508.4L437.7 508.6L436.6 509.5L436.9 511L435.7 510.2L434.4 511L434.8 509.5L433.6 508.6L435.1 508.4zM443.3 507.1L443.9 508.5L445.4 508.6L444.2 509.6L444.6 511L443.3 510.3L442.1 511L442.4 509.6L441.3 508.6L442.8 508.5zM451 507.2L451.6 508.6L453 508.7L451.9 509.7L452.2 511.1L451 510.3L449.7 511.1L450.1 509.7L448.9 508.7L450.4 508.6zM458.6 507.3L459.2 508.6L460.7 508.8L459.6 509.7L459.9 511.2L458.6 510.4L457.4 511.2L457.7 509.7L456.6 508.8L458.1 508.6zM466.3 507.3L466.9 508.7L468.3 508.8L467.2 509.8L467.6 511.2L466.3 510.4L465 511.2L465.4 509.8L464.3 508.8L465.7 508.7zM474 507.4L474.5 508.7L476 508.9L474.9 509.8L475.2 511.3L474 510.5L472.7 511.3L473 509.8L471.9 508.9L473.4 508.7zM481.6 507.4L482.2 508.8L483.7 508.9L482.5 509.9L482.9 511.3L481.6 510.5L480.3 511.3L480.7 509.9L479.6 508.9L481 508.8zM489.3 507.5L489.8 508.8L491.3 509L490.2 509.9L490.5 511.4L489.3 510.6L488 511.4L488.3 509.9L487.2 509L488.7 508.8zM496.9 507.5L497.5 508.9L499 509L497.8 509.9L498.2 511.4L496.9 510.6L495.7 511.4L496 509.9L494.9 509L496.4 508.9zM504.6 507.5L505.1 508.9L506.6 509L505.5 510L505.8 511.4L504.6 510.6L503.3 511.4L503.7 510L502.5 509L504 508.9zM512.2 507.5L512.8 508.9L514.3 509L513.2 510L513.5 511.4L512.2 510.7L511 511.4L511.3 510L510.2 509L511.7 508.9zM519.9 507.6L520.5 508.9L521.9 509.1L520.8 510L521.2 511.5L519.9 510.7L518.6 511.5L519 510L517.8 509.1L519.3 508.9zM527.5 507.6L528.1 508.9L529.6 509.1L528.5 510L528.8 511.5L527.5 510.7L526.3 511.5L526.6 510L525.5 509.1L527 508.9z" fill="#06069a"/>
<path d="M343.8 400.3L344.6 426.5L345.3 442.2L346.1 453.5L346.9 462.2L347.6 469L348.4 474.7L349.2 479.6L349.9 483.7L350.7 486.9L351.5 489.4L353 492.8L354.5 495.4L356 497.5L357.6 499.2L359.1 500.8L360.6 502.3L362.2 503.6L363.7 504.8L365.2 505.8L366.8 506.7L368.3 507.4L369.8 508.1L371.4 508.7L372.9 509.2L374.4 509.7L376 510.2L377.5 510.6L379 510.9L380.5 511.3L382.1 511.5L385.1 511.9L388.2 512.1L391.3 512.4L394.3 512.6L397.4 512.8L400.5 512.9L403.5 513L406.6 513.1L409.6 513.1L412.7 513.2L415.8 513.2L418.8 513.3L421.9 513.3L425 513.4L428 513.4L431.1 513.5L434.1 513.5L437.2 513.6L440.3 513.6L443.3 513.6L446.4 513.6L449.5 513.7L452.5 513.7L455.6 513.7L458.6 513.8L461.7 513.8L464.8 513.8L467.8 513.8L470.9 513.8L474 513.9L477 513.9L480.1 513.9L483.1 513.9L486.2 513.9L489.3 513.9L492.3 514L495.4 514L498.5 514L501.5 514L504.6 514L507.6 514L510.7 514L513.8 514L516.8 514L519.9 514L523 514L526 514.1L529.1 514.1L532.1 514.1L534.8 514.1" stroke="#ff1493" stroke-width="1.2" stroke-dasharray="4 1.7" fill="none"/>
<path d="M341.8 399.4L342.9 398.2L343.8 399.1L344.7 398.2L345.9 399.4L344.9 400.3L345.9 401.2L344.7 402.3L343.8 401.4L342.9 402.3L341.8 401.2L342.7 400.3zM349.4 488.5L350.6 487.3L351.5 488.2L352.4 487.3L353.5 488.5L352.6 489.4L353.5 490.3L352.4 491.4L351.5 490.5L350.6 491.4L349.4 490.3L350.3 489.4zM357.1 499.9L358.2 498.8L359.1 499.7L360 498.8L361.2 499.9L360.3 500.8L361.2 501.7L360 502.9L359.1 502L358.2 502.9L357.1 501.7L358 500.8zM364.7 505.8L365.9 504.6L366.8 505.5L367.7 504.6L368.8 505.8L367.9 506.7L368.8 507.6L367.7 508.7L366.8 507.8L365.9 508.7L364.7 507.6L365.6 506.7zM372.4 508.8L373.5 507.7L374.4 508.6L375.3 507.7L376.5 508.8L375.6 509.7L376.5 510.6L375.3 511.8L374.4 510.9L373.5 511.8L372.4 510.6L373.3 509.7zM380 510.6L381.2 509.5L382.1 510.4L383 509.5L384.1 510.6L383.2 511.5L384.1 512.4L383 513.6L382.1 512.7L381.2 513.6L380 512.4L380.9 511.5zM387.7 511.4L388.8 510.2L389.7 511.1L390.6 510.2L391.8 511.4L390.9 512.3L391.8 513.2L390.6 514.3L389.7 513.4L388.8 514.3L387.7 513.2L388.6 512.3zM395.3 511.9L396.5 510.7L397.4 511.6L398.3 510.7L399.4 511.9L398.5 512.8L399.4 513.7L398.3 514.8L397.4 513.9L396.5 514.8L395.3 513.7L396.2 512.8zM403 512.1L404.1 511L405 511.9L405.9 511L407.1 512.1L406.2 513L407.1 513.9L405.9 515.1L405 514.2L404.1 515.1L403 513.9L403.9 513zM410.7 512.3L411.8 511.1L412.7 512L413.6 511.1L414.8 512.3L413.9 513.2L414.8 514.1L413.6 515.2L412.7 514.3L411.8 515.2L410.7 514.1L411.6 513.2zM418.3 512.4L419.5 511.2L420.4 512.1L421.3 511.2L422.4 512.4L421.5 513.3L422.4 514.2L421.3 515.3L420.4 514.4L419.5 515.3L418.3 514.2L419.2 513.3zM426 512.5L427.1 511.4L428 512.3L428.9 511.4L430.1 512.5L429.2 513.4L430.1 514.3L428.9 515.5L428 514.6L427.1 515.5L426 514.3L426.9 513.4zM433.6 512.6L434.8 511.5L435.7 512.4L436.6 511.5L437.7 512.6L436.8 513.5L437.7 514.4L436.6 515.6L435.7 514.7L434.8 515.6L433.6 514.4L434.5 513.5zM441.3 512.7L442.4 511.6L443.3 512.5L444.2 511.6L445.4 512.7L444.5 513.6L445.4 514.5L444.2 515.7L443.3 514.8L442.4 515.7L441.3 514.5L442.2 513.6zM448.9 512.8L450.1 511.6L451 512.5L451.9 511.6L453 512.8L452.1 513.7L453 514.6L451.9 515.7L451 514.8L450.1 515.7L448.9 514.6L449.8 513.7zM456.6 512.8L457.7 511.7L458.6 512.6L459.5 511.7L460.7 512.8L459.8 513.8L460.7 514.7L459.5 515.8L458.6 514.9L457.7 515.8L456.6 514.7L457.5 513.8zM464.2 512.9L465.4 511.8L466.3 512.7L467.2 511.8L468.3 512.9L467.4 513.8L468.3 514.7L467.2 515.9L466.3 515L465.4 515.9L464.2 514.7L465.1 513.8zM471.9 513L473.1 511.8L474 512.7L474.9 511.8L476 513L475.1 513.9L476 514.8L474.9 515.9L474 515L473.1 515.9L471.9 514.8L472.8 513.9zM479.6 513L480.7 511.9L481.6 512.8L482.5 511.9L483.7 513L482.8 513.9L483.7 514.8L482.5 516L481.6 515.1L480.7 516L479.6 514.8L480.5 513.9zM487.2 513L488.4 511.9L489.3 512.8L490.2 511.9L491.3 513L490.4 513.9L491.3 514.8L490.2 516L489.3 515.1L488.4 516L487.2 514.8L488.1 513.9zM494.9 513.1L496 511.9L496.9 512.8L497.8 511.9L499 513.1L498.1 514L499 514.9L497.8 516L496.9 515.1L496 516L494.9 514.9L495.8 514zM502.5 513.1L503.7 512L504.6 512.9L505.5 512L506.6 513.1L505.7 514L506.6 514.9L505.5 516.1L504.6 515.2L503.7 516.1L502.5 514.9L503.4 514zM510.2 513.1L511.3 512L512.2 512.9L513.1 512L514.3 513.1L513.4 514L514.3 514.9L513.1 516.1L512.2 515.2L511.3 516.1L510.2 514.9L511.1 514zM517.8 513.1L519 512L519.9 512.9L520.8 512L521.9 513.1L521 514L521.9 514.9L520.8 516.1L519.9 515.2L519 516.1L517.8 514.9L518.7 514zM525.5 513.1L526.6 512L527.5 512.9L528.4 512L529.6 513.1L528.7 514.1L529.6 515L528.4 516.1L527.5 515.2L526.6 516.1L525.5 515L526.4 514.1z" fill="#ff1493"/>
</g>
<rect x="334.5" y="394.4" width="210.1" height="124.7" fill="none" stroke="#8f8f8f" stroke-width="1.15"/>
<text transform="translate(343.8 526.5) scale(.89 1)" font-size="6.2" text-anchor="middle" fill="#151515">0</text>
<text transform="translate(382.08 526.5) scale(.89 1)" font-size="6.2" text-anchor="middle" fill="#151515">100</text>
<text transform="translate(420.36 526.5) scale(.89 1)" font-size="6.2" text-anchor="middle" fill="#151515">200</text>
<text transform="translate(458.64 526.5) scale(.89 1)" font-size="6.2" text-anchor="middle" fill="#151515">300</text>
<text transform="translate(496.92 526.5) scale(.89 1)" font-size="6.2" text-anchor="middle" fill="#151515">400</text>
<text transform="translate(535.2 526.5) scale(.89 1)" font-size="6.2" text-anchor="middle" fill="#151515">500</text>
<text x="333" y="412" font-size="3.7" text-anchor="end" fill="#1c1c1c">9 × 10<tspan dy="-1.3" font-size="2.6">2</tspan></text>
<text x="333" y="517.5" font-size="3.7" text-anchor="end" fill="#1c1c1c">8 × 10<tspan dy="-1.3" font-size="2.6">2</tspan></text>
<text x="439.55" y="392.9" font-size="8.9" font-weight="bold" text-anchor="middle" fill="#111">C8</text>
<text transform="translate(439.55 535) scale(.93 1)" font-family='"Liberation Serif", "DejaVu Serif", serif' font-size="9.2" font-weight="bold" text-anchor="middle" fill="#111">Iterations</text>
<text transform="translate(316.4 456.75) rotate(-90)" font-family='"Liberation Serif", "DejaVu Serif", serif' font-size="8.6" font-weight="bold" text-anchor="middle" fill="#111">LogY--Fitness</text>
</g>
<g>
<clipPath id="clipC9"><rect x="186.3" y="561.75" width="210.4" height="125.25"/></clipPath>
<rect x="186.3" y="561.75" width="210.4" height="125.25" fill="#fff"/>
<path d="M196 561.75V687M234.22 561.75V687M272.44 561.75V687M310.66 561.75V687M348.88 561.75V687M387.1 561.75V687M186.3 575.2H396.7" stroke="#d6d6d6" stroke-width="0.55" fill="none"/>
<g clip-path="url(#clipC9)">
<path d="M196 568.9L196.8 573.6L197.5 576.6L198.3 578.9L199.1 580.7L199.8 582.2L200.6 583.5L201.4 584.6L202.1 585.6L202.9 586.4L203.6 587.2L205.2 588.4L206.7 589.4L208.2 590.3L209.8 591L211.3 591.8L212.8 592.5L214.3 593.2L215.9 593.8L217.4 594.3L218.9 594.8L220.5 595.2L222 595.6L223.5 596L225 596.3L226.6 596.6L228.1 596.8L229.6 597.1L231.2 597.4L232.7 597.6L234.2 597.9L237.3 598.4L240.3 598.8L243.4 599.3L246.5 599.7L249.5 600.1L252.6 600.5L255.6 600.9L258.7 601.2L261.7 601.5L264.8 601.8L267.9 602.1L270.9 602.3L274 602.6L277 602.8L280.1 602.9L283.1 603.1L286.2 603.3L289.3 603.4L292.3 603.6L295.4 603.7L298.4 603.9L301.5 604L304.5 604.2L307.6 604.3L310.7 604.5L313.7 604.7L316.8 604.9L319.8 605L322.9 605.2L325.9 605.4L329 605.6L332.1 605.9L335.1 606.1L338.2 606.3L341.2 606.5L344.3 606.7L347.4 606.9L350.4 607.1L353.5 607.4L356.5 607.6L359.6 607.8L362.6 608.1L365.7 608.3L368.8 608.6L371.8 608.8L374.9 609.1L377.9 609.3L381 609.6L384 609.8L386.7 610.1" stroke="#5b93d6" stroke-width="0.75" stroke-dasharray="3.8 1.4 0.8 1.4" fill="none"/>
<path d="M196 568.9v1.4M194.9 568.2l1.1 0.7l1.1 -0.7M203.6 587.2v1.4M202.5 586.5l1.1 0.7l1.1 -0.7M211.3 591.8v1.4M210.2 591.1l1.1 0.7l1.1 -0.7M218.9 594.8v1.4M217.8 594.1l1.1 0.7l1.1 -0.7M226.6 596.6v1.4M225.5 595.9l1.1 0.7l1.1 -0.7M234.2 597.9v1.4M233.1 597.2l1.1 0.7l1.1 -0.7M241.9 599.1v1.4M240.7 598.4l1.1 0.7l1.1 -0.7M249.5 600.1v1.4M248.4 599.4l1.1 0.7l1.1 -0.7M257.2 601v1.4M256 600.3l1.1 0.7l1.1 -0.7M264.8 601.8v1.4M263.7 601.1l1.1 0.7l1.1 -0.7M272.4 602.5v1.4M271.3 601.8l1.1 0.7l1.1 -0.7M280.1 602.9v1.4M279 602.2l1.1 0.7l1.1 -0.7M287.7 603.3v1.4M286.6 602.6l1.1 0.7l1.1 -0.7M295.4 603.7v1.4M294.3 603l1.1 0.7l1.1 -0.7M303 604.1v1.4M301.9 603.4l1.1 0.7l1.1 -0.7M310.7 604.5v1.4M309.5 603.8l1.1 0.7l1.1 -0.7M318.3 605v1.4M317.2 604.3l1.1 0.7l1.1 -0.7M325.9 605.4v1.4M324.8 604.7l1.1 0.7l1.1 -0.7M333.6 606v1.4M332.5 605.3l1.1 0.7l1.1 -0.7M341.2 606.5v1.4M340.1 605.8l1.1 0.7l1.1 -0.7M348.9 607v1.4M347.8 606.3l1.1 0.7l1.1 -0.7M356.5 607.6v1.4M355.4 606.9l1.1 0.7l1.1 -0.7M364.2 608.2v1.4M363 607.5l1.1 0.7l1.1 -0.7M371.8 608.8v1.4M370.7 608.1l1.1 0.7l1.1 -0.7M379.5 609.4v1.4M378.3 608.7l1.1 0.7l1.1 -0.7" stroke="#5b93d6" stroke-width="0.62" fill="none"/>
<path d="M196 569.4L196.8 576.6L197.5 581.2L198.3 584.8L199.1 587.6L199.8 590.1L200.6 592.2L201.4 594.1L202.1 595.8L202.9 597.3L203.6 598.6L205.2 601L206.7 603L208.2 604.8L209.8 606.2L211.3 607.5L212.8 608.7L214.3 609.6L215.9 610.5L217.4 611.3L218.9 612.1L220.5 612.9L222 613.6L223.5 614.3L225 615L226.6 615.7L228.1 616.4L229.6 617L231.2 617.7L232.7 618.3L234.2 619L237.3 620.5L240.3 622L243.4 623.6L246.5 625.2L249.5 626.6L252.6 627.8L255.6 628.7L258.7 629.6L261.7 630.3L264.8 631L267.9 631.7L270.9 632.4L274 633.1L277 633.8L280.1 634.4L283.1 635.1L286.2 635.7L289.3 636.3L292.3 637L295.4 637.6L298.4 638.2L301.5 638.8L304.5 639.4L307.6 640L310.7 640.6L313.7 641.2L316.8 641.9L319.8 642.5L322.9 643.1L325.9 643.7L329 644.3L332.1 644.9L335.1 645.5L338.2 646.2L341.2 646.8L344.3 647.4L347.4 648L350.4 648.6L353.5 649.1L356.5 649.6L359.6 650.1L362.6 650.6L365.7 651.2L368.8 651.7L371.8 652.4L374.9 653.1L377.9 653.6L381 654.1L384 654.4L386.7 654.6" stroke="#f59b12" stroke-width="1.2" stroke-dasharray="4 1.7" fill="none"/>
<path d="M196 567.5l1.9 3.4h-3.8zM203.6 596.7l1.9 3.4h-3.8zM211.3 605.6l1.9 3.4h-3.8zM218.9 610.2l1.9 3.4h-3.8zM226.6 613.8l1.9 3.4h-3.8zM234.2 617.1l1.9 3.4h-3.8zM241.9 620.9l1.9 3.4h-3.8zM249.5 624.7l1.9 3.4h-3.8zM257.2 627.3l1.9 3.4h-3.8zM264.8 629.1l1.9 3.4h-3.8zM272.4 630.8l1.9 3.4h-3.8zM280.1 632.5l1.9 3.4h-3.8zM287.7 634.1l1.9 3.4h-3.8zM295.4 635.7l1.9 3.4h-3.8zM303 637.2l1.9 3.4h-3.8zM310.7 638.7l1.9 3.4h-3.8zM318.3 640.3l1.9 3.4h-3.8zM325.9 641.8l1.9 3.4h-3.8zM333.6 643.3l1.9 3.4h-3.8zM341.2 644.9l1.9 3.4h-3.8zM348.9 646.4l1.9 3.4h-3.8zM356.5 647.7l1.9 3.4h-3.8zM364.2 649l1.9 3.4h-3.8zM371.8 650.5l1.9 3.4h-3.8zM379.5 652l1.9 3.4h-3.8z" fill="#f59b12"/>
<path d="M196 568.1L196.8 571.4L197.5 573.4L198.3 575L199.1 576.3L199.8 577.3L200.6 578.2L201.4 579L202.1 579.7L202.9 580.3L203.6 580.8L205.2 581.7L206.7 582.4L208.2 583L209.8 583.6L211.3 584.1L212.8 584.7L214.3 585.1L215.9 585.6L217.4 586L218.9 586.4L220.5 586.8L222 587.1L223.5 587.4L225 587.7L226.6 587.9L228.1 588.2L229.6 588.5L231.2 588.7L232.7 589L234.2 589.2L237.3 589.7L240.3 590.1L243.4 590.4L246.5 590.6L249.5 590.7L252.6 590.9L255.6 591.2L258.7 591.4L261.7 591.5L264.8 591.8L267.9 592.1L270.9 592.4L274 592.6L277 592.8L280.1 593L283.1 593.2L286.2 593.4L289.3 593.6L292.3 593.8L295.4 594L298.4 594.1L301.5 594.3L304.5 594.5L307.6 594.6L310.7 594.8L313.7 595L316.8 595.2L319.8 595.3L322.9 595.5L325.9 595.6L329 595.8L332.1 596L335.1 596.1L338.2 596.3L341.2 596.4L344.3 596.6L347.4 596.8L350.4 596.9L353.5 597.1L356.5 597.3L359.6 597.4L362.6 597.6L365.7 597.7L368.8 597.9L371.8 598.1L374.9 598.3L377.9 598.5L381 598.8L384 599.1L386.7 599.4" stroke="#0bd264" stroke-width="1.2" stroke-dasharray="4 1.7" fill="none"/>
<path d="M194 566.1h4v4h-4zM201.6 578.8h4v4h-4zM209.3 582.1h4v4h-4zM216.9 584.4h4v4h-4zM224.6 585.9h4v4h-4zM232.2 587.2h4v4h-4zM239.9 588.2h4v4h-4zM247.5 588.7h4v4h-4zM255.2 589.3h4v4h-4zM262.8 589.8h4v4h-4zM270.4 590.5h4v4h-4zM278.1 591h4v4h-4zM285.7 591.5h4v4h-4zM293.4 592h4v4h-4zM301 592.4h4v4h-4zM308.7 592.8h4v4h-4zM316.3 593.2h4v4h-4zM323.9 593.6h4v4h-4zM331.6 594h4v4h-4zM339.2 594.4h4v4h-4zM346.9 594.9h4v4h-4zM354.5 595.3h4v4h-4zM362.2 595.7h4v4h-4zM369.8 596.1h4v4h-4zM377.5 596.6h4v4h-4z" fill="#0bd264"/>
<path d="M196 569.4L196.8 576.2L197.5 580.6L198.3 584L199.1 586.7L199.8 589.1L200.6 591.1L201.4 592.9L202.1 594.6L202.9 596L203.6 597.4L205.2 599.8L206.7 601.8L208.2 603.6L209.8 605.1L211.3 606.3L212.8 607.2L214.3 608L215.9 608.7L217.4 609.4L218.9 610.1L220.5 610.8L222 611.4L223.5 612.1L225 612.7L226.6 613.4L228.1 614.1L229.6 614.8L231.2 615.5L232.7 616.3L234.2 617.2L237.3 619.9L240.3 622.9L243.4 625L246.5 626.6L249.5 627.9L252.6 629L255.6 630L258.7 631L261.7 632L264.8 633L267.9 634L270.9 634.9L274 635.7L277 636.4L280.1 637L283.1 637.6L286.2 638.3L289.3 638.9L292.3 639.5L295.4 640.2L298.4 640.8L301.5 641.5L304.5 642.2L307.6 642.9L310.7 643.7L313.7 644.5L316.8 645.4L319.8 646.3L322.9 647.3L325.9 648.3L329 649.2L332.1 650.2L335.1 651.5L338.2 653L341.2 654.6L344.3 656.2L347.4 657.8L350.4 659L353.5 660.1L356.5 661L359.6 661.8L362.6 662.5L365.7 663.1L368.8 663.6L371.8 664.1L374.9 664.4L377.9 664.7L381 664.9L384 665.2L386.7 665.3" stroke="#de4b34" stroke-width="1.2" stroke-dasharray="4 1.7" fill="none"/>
<path d="M196 566.8l1.4 2.6l-1.4 2.6l-1.4 -2.6zM203.6 594.8l1.4 2.6l-1.4 2.6l-1.4 -2.6zM211.3 603.7l1.4 2.6l-1.4 2.6l-1.4 -2.6zM218.9 607.5l1.4 2.6l-1.4 2.6l-1.4 -2.6zM226.6 610.8l1.4 2.6l-1.4 2.6l-1.4 -2.6zM234.2 614.6l1.4 2.6l-1.4 2.6l-1.4 -2.6zM241.9 621.5l1.4 2.6l-1.4 2.6l-1.4 -2.6zM249.5 625.3l1.4 2.6l-1.4 2.6l-1.4 -2.6zM257.2 627.9l1.4 2.6l-1.4 2.6l-1.4 -2.6zM264.8 630.4l1.4 2.6l-1.4 2.6l-1.4 -2.6zM272.4 632.7l1.4 2.6l-1.4 2.6l-1.4 -2.6zM280.1 634.4l1.4 2.6l-1.4 2.6l-1.4 -2.6zM287.7 636l1.4 2.6l-1.4 2.6l-1.4 -2.6zM295.4 637.6l1.4 2.6l-1.4 2.6l-1.4 -2.6zM303 639.3l1.4 2.6l-1.4 2.6l-1.4 -2.6zM310.7 641.1l1.4 2.6l-1.4 2.6l-1.4 -2.6zM318.3 643.3l1.4 2.6l-1.4 2.6l-1.4 -2.6zM325.9 645.7l1.4 2.6l-1.4 2.6l-1.4 -2.6zM333.6 648.2l1.4 2.6l-1.4 2.6l-1.4 -2.6zM341.2 652l1.4 2.6l-1.4 2.6l-1.4 -2.6zM348.9 655.9l1.4 2.6l-1.4 2.6l-1.4 -2.6zM356.5 658.4l1.4 2.6l-1.4 2.6l-1.4 -2.6zM364.2 660.2l1.4 2.6l-1.4 2.6l-1.4 -2.6zM371.8 661.5l1.4 2.6l-1.4 2.6l-1.4 -2.6zM379.5 662.2l1.4 2.6l-1.4 2.6l-1.4 -2.6z" fill="#de4b34"/>
<path d="M196 569.4L196.8 575.2L197.5 578.9L198.3 581.6L199.1 583.8L199.8 585.5L200.6 587L201.4 588.3L202.1 589.3L202.9 590.2L203.6 591L205.2 592.3L206.7 593.2L208.2 594.1L209.8 594.7L211.3 595.3L212.8 595.8L214.3 596.3L215.9 596.7L217.4 597L218.9 597.4L220.5 597.7L222 597.9L223.5 598.2L225 598.4L226.6 598.6L228.1 598.9L229.6 599.1L231.2 599.4L232.7 599.7L234.2 599.9L237.3 600.4L240.3 600.9L243.4 601.4L246.5 602L249.5 602.5L252.6 602.8L255.6 603.1L258.7 603.4L261.7 603.8L264.8 604.2L267.9 604.6L270.9 605L274 605.5L277 606.2L280.1 607L283.1 608.2L286.2 609.5L289.3 610.6L292.3 611.6L295.4 612.6L298.4 613.8L301.5 615.1L304.5 616.2L307.6 617.2L310.7 618.2L313.7 619.5L316.8 620.9L319.8 622.1L322.9 623.1L325.9 624.1L329 625.1L332.1 626.2L335.1 627.1L338.2 627.9L341.2 628.7L344.3 629.3L347.4 629.8L350.4 630.1L353.5 630.3L356.5 630.5L359.6 630.7L362.6 630.9L365.7 631.1L368.8 631.2L371.8 631.4L374.9 631.6L377.9 631.8L381 632.1L384 632.5L386.7 632.9" stroke="#ab76f7" stroke-width="1.2" stroke-dasharray="4 1.5 0.9 1.5" fill="none"/>
<path d="M194.2 569.4a1.8 1.8 0 1 0 3.5 0a1.8 1.8 0 1 0 -3.5 0zM201.9 591a1.8 1.8 0 1 0 3.5 0a1.8 1.8 0 1 0 -3.5 0zM209.5 595.3a1.8 1.8 0 1 0 3.5 0a1.8 1.8 0 1 0 -3.5 0zM217.2 597.4a1.8 1.8 0 1 0 3.5 0a1.8 1.8 0 1 0 -3.5 0zM224.8 598.6a1.8 1.8 0 1 0 3.5 0a1.8 1.8 0 1 0 -3.5 0zM232.5 599.9a1.8 1.8 0 1 0 3.5 0a1.8 1.8 0 1 0 -3.5 0zM240.1 601.2a1.8 1.8 0 1 0 3.5 0a1.8 1.8 0 1 0 -3.5 0zM247.8 602.5a1.8 1.8 0 1 0 3.5 0a1.8 1.8 0 1 0 -3.5 0zM255.4 603.2a1.8 1.8 0 1 0 3.5 0a1.8 1.8 0 1 0 -3.5 0zM263 604.2a1.8 1.8 0 1 0 3.5 0a1.8 1.8 0 1 0 -3.5 0zM270.7 605.3a1.8 1.8 0 1 0 3.5 0a1.8 1.8 0 1 0 -3.5 0zM278.3 607a1.8 1.8 0 1 0 3.5 0a1.8 1.8 0 1 0 -3.5 0zM286 610.1a1.8 1.8 0 1 0 3.5 0a1.8 1.8 0 1 0 -3.5 0zM293.6 612.6a1.8 1.8 0 1 0 3.5 0a1.8 1.8 0 1 0 -3.5 0zM301.3 615.7a1.8 1.8 0 1 0 3.5 0a1.8 1.8 0 1 0 -3.5 0zM308.9 618.2a1.8 1.8 0 1 0 3.5 0a1.8 1.8 0 1 0 -3.5 0zM316.6 621.5a1.8 1.8 0 1 0 3.5 0a1.8 1.8 0 1 0 -3.5 0zM324.2 624.1a1.8 1.8 0 1 0 3.5 0a1.8 1.8 0 1 0 -3.5 0zM331.8 626.6a1.8 1.8 0 1 0 3.5 0a1.8 1.8 0 1 0 -3.5 0zM339.5 628.7a1.8 1.8 0 1 0 3.5 0a1.8 1.8 0 1 0 -3.5 0zM347.1 629.9a1.8 1.8 0 1 0 3.5 0a1.8 1.8 0 1 0 -3.5 0zM354.8 630.5a1.8 1.8 0 1 0 3.5 0a1.8 1.8 0 1 0 -3.5 0zM362.4 631a1.8 1.8 0 1 0 3.5 0a1.8 1.8 0 1 0 -3.5 0zM370.1 631.4a1.8 1.8 0 1 0 3.5 0a1.8 1.8 0 1 0 -3.5 0zM377.7 632a1.8 1.8 0 1 0 3.5 0a1.8 1.8 0 1 0 -3.5 0z" fill="#ab76f7"/>
<path d="M196 569.4L196.8 575.9L197.5 579.9L198.3 582.9L199.1 585.3L199.8 587.3L200.6 589L201.4 590.4L202.1 591.6L202.9 592.7L203.6 593.5L205.2 595L206.7 596.2L208.2 597.1L209.8 597.9L211.3 598.6L212.8 599.3L214.3 599.8L215.9 600.3L217.4 600.8L218.9 601.2L220.5 601.6L222 602L223.5 602.3L225 602.7L226.6 603L228.1 603.3L229.6 603.5L231.2 603.8L232.7 604L234.2 604.2L237.3 604.6L240.3 604.9L243.4 605.2L246.5 605.5L249.5 605.8L252.6 606L255.6 606.2L258.7 606.4L261.7 606.5L264.8 606.7L267.9 606.8L270.9 607L274 607.1L277 607.2L280.1 607.3L283.1 607.4L286.2 607.5L289.3 607.6L292.3 607.7L295.4 607.8L298.4 607.9L301.5 608L304.5 608.1L307.6 608.2L310.7 608.3L313.7 608.4L316.8 608.5L319.8 608.7L322.9 608.8L325.9 608.9L329 609L332.1 609.2L335.1 609.3L338.2 609.5L341.2 609.6L344.3 609.8L347.4 610L350.4 610.2L353.5 610.5L356.5 610.9L359.6 611.3L362.6 611.8L365.7 612.3L368.8 612.8L371.8 613.4L374.9 614L377.9 614.7L381 615.5L384 616.4L386.7 617.1" stroke="#ad5f35" stroke-width="1.1" stroke-dasharray="4 1.7" fill="none"/>
<path d="M196 567.9v3M203.6 592v3M211.3 597.1v3M218.9 599.7v3M226.6 601.5v3M234.2 602.7v3M241.9 603.5v3M249.5 604.3v3M257.2 604.8v3M264.8 605.2v3M272.4 605.5v3M280.1 605.8v3M287.7 606.1v3M295.4 606.3v3M303 606.6v3M310.7 606.8v3M318.3 607.1v3M325.9 607.4v3M333.6 607.7v3M341.2 608.1v3M348.9 608.6v3M356.5 609.4v3M364.2 610.5v3M371.8 611.9v3M379.5 613.6v3" stroke="#ad5f35" stroke-width="0.9" fill="none"/>
<path d="M196 568.9L196.8 573.5L197.5 576.4L198.3 578.7L199.1 580.5L199.8 582L200.6 583.3L201.4 584.5L202.1 585.5L202.9 586.4L203.6 587.2L205.2 588.6L206.7 589.7L208.2 590.7L209.8 591.5L211.3 592.3L212.8 592.9L214.3 593.5L215.9 594L217.4 594.4L218.9 594.8L220.5 595.2L222 595.5L223.5 595.7L225 596L226.6 596.2L228.1 596.5L229.6 596.7L231.2 596.9L232.7 597.1L234.2 597.4L237.3 597.8L240.3 598.3L243.4 598.7L246.5 599.1L249.5 599.4L252.6 599.7L255.6 599.9L258.7 600.1L261.7 600.3L264.8 600.5L267.9 600.7L270.9 600.8L274 601L277 601.2L280.1 601.3L283.1 601.4L286.2 601.6L289.3 601.7L292.3 601.8L295.4 601.9L298.4 602L301.5 602.1L304.5 602.3L307.6 602.4L310.7 602.5L313.7 602.5L316.8 602.6L319.8 602.7L322.9 602.8L325.9 602.9L329 603L332.1 603L335.1 603.1L338.2 603.2L341.2 603.3L344.3 603.4L347.4 603.4L350.4 603.5L353.5 603.6L356.5 603.7L359.6 603.8L362.6 603.8L365.7 603.9L368.8 604L371.8 604.1L374.9 604.2L377.9 604.2L381 604.3L384 604.4L386.7 604.5" stroke="#e682de" stroke-width="0.75" stroke-dasharray="3.8 1.4 0.8 1.4" fill="none"/>
<path d="M194.7 568.9h2.6m-1.3 -1.3v2.6M202.3 587.2h2.6m-1.3 -1.3v2.6M210 592.3h2.6m-1.3 -1.3v2.6M217.6 594.8h2.6m-1.3 -1.3v2.6M225.3 596.2h2.6m-1.3 -1.3v2.6M232.9 597.4h2.6m-1.3 -1.3v2.6M240.6 598.5h2.6m-1.3 -1.3v2.6M248.2 599.4h2.6m-1.3 -1.3v2.6M255.9 600h2.6m-1.3 -1.3v2.6M263.5 600.5h2.6m-1.3 -1.3v2.6M271.1 600.9h2.6m-1.3 -1.3v2.6M278.8 601.3h2.6m-1.3 -1.3v2.6M286.4 601.6h2.6m-1.3 -1.3v2.6M294.1 601.9h2.6m-1.3 -1.3v2.6M301.7 602.2h2.6m-1.3 -1.3v2.6M309.4 602.5h2.6m-1.3 -1.3v2.6M317 602.7h2.6m-1.3 -1.3v2.6M324.6 602.9h2.6m-1.3 -1.3v2.6M332.3 603.1h2.6m-1.3 -1.3v2.6M339.9 603.3h2.6m-1.3 -1.3v2.6M347.6 603.5h2.6m-1.3 -1.3v2.6M355.2 603.7h2.6m-1.3 -1.3v2.6M362.9 603.9h2.6m-1.3 -1.3v2.6M370.5 604.1h2.6m-1.3 -1.3v2.6M378.2 604.3h2.6m-1.3 -1.3v2.6" stroke="#e682de" stroke-width="0.65" fill="none"/>
<path d="M196 568.1L196.8 571.3L197.5 573.3L198.3 574.8L199.1 576.1L199.8 577.1L200.6 578L201.4 578.9L202.1 579.6L202.9 580.2L203.6 580.8L205.2 581.8L206.7 582.7L208.2 583.4L209.8 584.1L211.3 584.6L212.8 585.1L214.3 585.6L215.9 586L217.4 586.4L218.9 586.7L220.5 586.9L222 587.1L223.5 587.3L225 587.5L226.6 587.7L228.1 587.9L229.6 588.1L231.2 588.2L232.7 588.4L234.2 588.5L237.3 588.6L240.3 588.7L243.4 588.7L246.5 588.8L249.5 588.8L252.6 588.9L255.6 588.9L258.7 588.9L261.7 588.9L264.8 588.9L267.9 589L270.9 589L274 589L277 589L280.1 589L283.1 589L286.2 589L289.3 589L292.3 589L295.4 589L298.4 589L301.5 589L304.5 589L307.6 589L310.7 589L313.7 589L316.8 589L319.8 589L322.9 589L325.9 589L329 589L332.1 589L335.1 589L338.2 589L341.2 589L344.3 589L347.4 589L350.4 589L353.5 589L356.5 589L359.6 589L362.6 589L365.7 589L368.8 589L371.8 589L374.9 589L377.9 589L381 589L384 589L386.7 589" stroke="#b1b1b1" stroke-width="1.1" stroke-dasharray="4 1.7" fill="none"/>
<path d="M194.4 568.1a1.6 1.6 0 1 0 3.1 0a1.6 1.6 0 1 0 -3.1 0zM202.1 580.8a1.6 1.6 0 1 0 3.1 0a1.6 1.6 0 1 0 -3.1 0zM209.7 584.6a1.6 1.6 0 1 0 3.1 0a1.6 1.6 0 1 0 -3.1 0zM217.4 586.7a1.6 1.6 0 1 0 3.1 0a1.6 1.6 0 1 0 -3.1 0zM225 587.7a1.6 1.6 0 1 0 3.1 0a1.6 1.6 0 1 0 -3.1 0zM232.7 588.5a1.6 1.6 0 1 0 3.1 0a1.6 1.6 0 1 0 -3.1 0zM240.3 588.7a1.6 1.6 0 1 0 3.1 0a1.6 1.6 0 1 0 -3.1 0zM248 588.8a1.6 1.6 0 1 0 3.1 0a1.6 1.6 0 1 0 -3.1 0zM255.6 588.9a1.6 1.6 0 1 0 3.1 0a1.6 1.6 0 1 0 -3.1 0zM263.2 588.9a1.6 1.6 0 1 0 3.1 0a1.6 1.6 0 1 0 -3.1 0zM270.9 589a1.6 1.6 0 1 0 3.1 0a1.6 1.6 0 1 0 -3.1 0zM278.5 589a1.6 1.6 0 1 0 3.1 0a1.6 1.6 0 1 0 -3.1 0zM286.2 589a1.6 1.6 0 1 0 3.1 0a1.6 1.6 0 1 0 -3.1 0zM293.8 589a1.6 1.6 0 1 0 3.1 0a1.6 1.6 0 1 0 -3.1 0zM301.5 589a1.6 1.6 0 1 0 3.1 0a1.6 1.6 0 1 0 -3.1 0zM309.1 589a1.6 1.6 0 1 0 3.1 0a1.6 1.6 0 1 0 -3.1 0zM316.8 589a1.6 1.6 0 1 0 3.1 0a1.6 1.6 0 1 0 -3.1 0zM324.4 589a1.6 1.6 0 1 0 3.1 0a1.6 1.6 0 1 0 -3.1 0zM332 589a1.6 1.6 0 1 0 3.1 0a1.6 1.6 0 1 0 -3.1 0zM339.7 589a1.6 1.6 0 1 0 3.1 0a1.6 1.6 0 1 0 -3.1 0zM347.3 589a1.6 1.6 0 1 0 3.1 0a1.6 1.6 0 1 0 -3.1 0zM355 589a1.6 1.6 0 1 0 3.1 0a1.6 1.6 0 1 0 -3.1 0zM362.6 589a1.6 1.6 0 1 0 3.1 0a1.6 1.6 0 1 0 -3.1 0zM370.3 589a1.6 1.6 0 1 0 3.1 0a1.6 1.6 0 1 0 -3.1 0zM377.9 589a1.6 1.6 0 1 0 3.1 0a1.6 1.6 0 1 0 -3.1 0z" fill="#b1b1b1"/>
<path d="M196 568.1L196.8 574.1L197.5 577.8L198.3 580.5L199.1 582.7L199.8 584.5L200.6 585.9L201.4 587.1L202.1 588.2L202.9 589L203.6 589.7L205.2 590.9L206.7 591.7L208.2 592.4L209.8 593L211.3 593.5L212.8 594L214.3 594.4L215.9 594.7L217.4 595L218.9 595.3L220.5 595.7L222 596L223.5 596.3L225 596.6L226.6 596.9L228.1 597.1L229.6 597.3L231.2 597.5L232.7 597.7L234.2 597.9L237.3 598.3L240.3 598.7L243.4 599.1L246.5 599.5L249.5 599.9L252.6 600.2L255.6 600.5L258.7 600.8L261.7 601.2L264.8 601.4L267.9 601.7L270.9 601.8L274 602L277 602.2L280.1 602.5L283.1 602.7L286.2 602.9L289.3 603L292.3 603.2L295.4 603.4L298.4 603.6L301.5 603.8L304.5 604L307.6 604.3L310.7 604.5L313.7 604.7L316.8 605L319.8 605.3L322.9 605.5L325.9 605.8L329 606.1L332.1 606.4L335.1 606.7L338.2 607L341.2 607.3L344.3 607.6L347.4 607.9L350.4 608.2L353.5 608.6L356.5 608.9L359.6 609.3L362.6 609.6L365.7 609.9L368.8 610.1L371.8 610.3L374.9 610.5L377.9 610.6L381 610.7L384 610.8L386.7 610.9" stroke="#cfcf00" stroke-width="1.2" stroke-dasharray="4 1.7" fill="none"/>
<path d="M194.1 568.1a1.9 1.9 0 1 0 3.8 0a1.9 1.9 0 1 0 -3.8 0zM201.7 589.7a1.9 1.9 0 1 0 3.8 0a1.9 1.9 0 1 0 -3.8 0zM209.4 593.5a1.9 1.9 0 1 0 3.8 0a1.9 1.9 0 1 0 -3.8 0zM217 595.3a1.9 1.9 0 1 0 3.8 0a1.9 1.9 0 1 0 -3.8 0zM224.7 596.9a1.9 1.9 0 1 0 3.8 0a1.9 1.9 0 1 0 -3.8 0zM232.3 597.9a1.9 1.9 0 1 0 3.8 0a1.9 1.9 0 1 0 -3.8 0zM240 598.9a1.9 1.9 0 1 0 3.8 0a1.9 1.9 0 1 0 -3.8 0zM247.6 599.9a1.9 1.9 0 1 0 3.8 0a1.9 1.9 0 1 0 -3.8 0zM255.3 600.7a1.9 1.9 0 1 0 3.8 0a1.9 1.9 0 1 0 -3.8 0zM262.9 601.4a1.9 1.9 0 1 0 3.8 0a1.9 1.9 0 1 0 -3.8 0zM270.5 601.9a1.9 1.9 0 1 0 3.8 0a1.9 1.9 0 1 0 -3.8 0zM278.2 602.5a1.9 1.9 0 1 0 3.8 0a1.9 1.9 0 1 0 -3.8 0zM285.8 603a1.9 1.9 0 1 0 3.8 0a1.9 1.9 0 1 0 -3.8 0zM293.5 603.4a1.9 1.9 0 1 0 3.8 0a1.9 1.9 0 1 0 -3.8 0zM301.1 603.9a1.9 1.9 0 1 0 3.8 0a1.9 1.9 0 1 0 -3.8 0zM308.8 604.5a1.9 1.9 0 1 0 3.8 0a1.9 1.9 0 1 0 -3.8 0zM316.4 605.1a1.9 1.9 0 1 0 3.8 0a1.9 1.9 0 1 0 -3.8 0zM324 605.8a1.9 1.9 0 1 0 3.8 0a1.9 1.9 0 1 0 -3.8 0zM331.7 606.5a1.9 1.9 0 1 0 3.8 0a1.9 1.9 0 1 0 -3.8 0zM339.3 607.3a1.9 1.9 0 1 0 3.8 0a1.9 1.9 0 1 0 -3.8 0zM347 608.1a1.9 1.9 0 1 0 3.8 0a1.9 1.9 0 1 0 -3.8 0zM354.6 608.9a1.9 1.9 0 1 0 3.8 0a1.9 1.9 0 1 0 -3.8 0zM362.3 609.8a1.9 1.9 0 1 0 3.8 0a1.9 1.9 0 1 0 -3.8 0zM369.9 610.3a1.9 1.9 0 1 0 3.8 0a1.9 1.9 0 1 0 -3.8 0zM377.6 610.7a1.9 1.9 0 1 0 3.8 0a1.9 1.9 0 1 0 -3.8 0z" fill="#cfcf00"/>
<path d="M196 568.9L196.8 572.2L197.5 574.3L198.3 575.9L199.1 577.2L199.8 578.3L200.6 579.3L201.4 580.1L202.1 580.8L202.9 581.5L203.6 582.1L205.2 583.1L206.7 583.9L208.2 584.6L209.8 585.3L211.3 585.9L212.8 586.5L214.3 587L215.9 587.5L217.4 588L218.9 588.5L220.5 589L222 589.5L223.5 590L225 590.5L226.6 591L228.1 591.4L229.6 591.7L231.2 592.1L232.7 592.4L234.2 592.8L237.3 593.6L240.3 594.4L243.4 595.2L246.5 596L249.5 596.9L252.6 597.7L255.6 598.5L258.7 599.2L261.7 599.9L264.8 600.7L267.9 601.9L270.9 603.5L274 605.6L277 608.6L280.1 611.4L283.1 613.7L286.2 615.7L289.3 617.1L292.3 618.2L295.4 619L298.4 619.6L301.5 620L304.5 620.4L307.6 620.7L310.7 621L313.7 621.3L316.8 621.5L319.8 621.7L322.9 621.9L325.9 622.1L329 622.3L332.1 622.4L335.1 622.6L338.2 622.8L341.2 623L344.3 623.1L347.4 623.3L350.4 623.4L353.5 623.5L356.5 623.6L359.6 623.8L362.6 623.9L365.7 624L368.8 624.1L371.8 624.2L374.9 624.3L377.9 624.4L381 624.5L384 624.5L386.7 624.6" stroke="#ff8f57" stroke-width="0.85" stroke-dasharray="3.8 1.4 0.8 1.4" fill="none"/>
<path d="M194.5 567.4l3 3m0 -3l-3 3M202.1 580.6l3 3m0 -3l-3 3M209.8 584.4l3 3m0 -3l-3 3M217.4 587l3 3m0 -3l-3 3M225.1 589.5l3 3m0 -3l-3 3M232.7 591.3l3 3m0 -3l-3 3M240.4 593.3l3 3m0 -3l-3 3M248 595.4l3 3m0 -3l-3 3M255.7 597.4l3 3m0 -3l-3 3M263.3 599.2l3 3m0 -3l-3 3M270.9 603l3 3m0 -3l-3 3M278.6 609.9l3 3m0 -3l-3 3M286.2 615l3 3m0 -3l-3 3M293.9 617.5l3 3m0 -3l-3 3M301.5 618.7l3 3m0 -3l-3 3M309.2 619.5l3 3m0 -3l-3 3M316.8 620.1l3 3m0 -3l-3 3M324.4 620.6l3 3m0 -3l-3 3M332.1 621l3 3m0 -3l-3 3M339.7 621.5l3 3m0 -3l-3 3M347.4 621.8l3 3m0 -3l-3 3M355 622.1l3 3m0 -3l-3 3M362.7 622.4l3 3m0 -3l-3 3M370.3 622.7l3 3m0 -3l-3 3M378 622.9l3 3m0 -3l-3 3" stroke="#ff8f57" stroke-width="0.66" fill="none"/>
<path d="M196 573.2L196.8 580L197.5 584.5L198.3 588.1L199.1 591.1L199.8 593.7L200.6 596.1L201.4 598.2L202.1 600.2L202.9 602L203.6 603.7L205.2 606.8L206.7 609.6L208.2 612.1L209.8 614.4L211.3 616.5L212.8 618.3L214.3 620.1L215.9 621.7L217.4 623.3L218.9 624.9L220.5 626.4L222 628L223.5 629.5L225 631L226.6 632.5L228.1 633.9L229.6 635.4L231.2 636.8L232.7 638.1L234.2 639.4L237.3 641.5L240.3 643.5L243.4 645.4L246.5 647.2L249.5 648.8L252.6 650L255.6 651.1L258.7 652.1L261.7 653.1L264.8 654.1L267.9 655.2L270.9 656.4L274 657.4L277 658.4L280.1 659.4L283.1 660.3L286.2 661.2L289.3 662.1L292.3 663L295.4 663.9L298.4 664.8L301.5 665.7L304.5 666.5L307.6 667.3L310.7 668.1L313.7 668.9L316.8 669.6L319.8 670.4L322.9 671L325.9 671.7L329 672.3L332.1 672.9L335.1 673.4L338.2 674L341.2 674.5L344.3 674.9L347.4 675.3L350.4 675.7L353.5 675.9L356.5 676.2L359.6 676.4L362.6 676.6L365.7 676.9L368.8 677.1L371.8 677.4L374.9 677.6L377.9 677.9L381 678.2L384 678.5L386.7 678.8" stroke="#06069a" stroke-width="1.2" stroke-dasharray="4 1.7" fill="none"/>
<path d="M196 571L196.6 572.4L198 572.5L196.9 573.5L197.3 574.9L196 574.1L194.7 574.9L195.1 573.5L194 572.5L195.4 572.4zM203.6 601.6L204.2 602.9L205.7 603.1L204.6 604L204.9 605.5L203.6 604.7L202.4 605.5L202.7 604L201.6 603.1L203.1 602.9zM211.3 614.3L211.9 615.7L213.3 615.8L212.2 616.8L212.6 618.2L211.3 617.4L210 618.2L210.4 616.8L209.2 615.8L210.7 615.7zM218.9 622.7L219.5 624.1L221 624.2L219.9 625.2L220.2 626.6L218.9 625.8L217.7 626.6L218 625.2L216.9 624.2L218.4 624.1zM226.6 630.3L227.1 631.7L228.6 631.8L227.5 632.8L227.8 634.2L226.6 633.5L225.3 634.2L225.7 632.8L224.5 631.8L226 631.7zM234.2 637.2L234.8 638.6L236.3 638.7L235.1 639.7L235.5 641.1L234.2 640.3L233 641.1L233.3 639.7L232.2 638.7L233.7 638.6zM241.9 642.3L242.4 643.7L243.9 643.8L242.8 644.8L243.1 646.2L241.9 645.4L240.6 646.2L240.9 644.8L239.8 643.8L241.3 643.7zM249.5 646.6L250.1 648L251.6 648.1L250.4 649.1L250.8 650.5L249.5 649.7L248.2 650.5L248.6 649.1L247.5 648.1L248.9 648zM257.2 649.4L257.7 650.8L259.2 650.9L258.1 651.9L258.4 653.3L257.2 652.5L255.9 653.3L256.2 651.9L255.1 650.9L256.6 650.8zM264.8 652L265.4 653.3L266.8 653.5L265.7 654.4L266.1 655.9L264.8 655.1L263.5 655.9L263.9 654.4L262.8 653.5L264.2 653.3zM272.4 654.8L273 656.1L274.5 656.3L273.4 657.2L273.7 658.7L272.4 657.9L271.2 658.7L271.5 657.2L270.4 656.3L271.9 656.1zM280.1 657.2L280.7 658.6L282.1 658.7L281 659.7L281.3 661.1L280.1 660.4L278.8 661.1L279.2 659.7L278 658.7L279.5 658.6zM287.7 659.5L288.3 660.9L289.8 661L288.6 662L289 663.4L287.7 662.6L286.5 663.4L286.8 662L285.7 661L287.2 660.9zM295.4 661.7L295.9 663.1L297.4 663.2L296.3 664.2L296.6 665.6L295.4 664.9L294.1 665.6L294.5 664.2L293.3 663.2L294.8 663.1zM303 663.9L303.6 665.3L305.1 665.4L303.9 666.4L304.3 667.8L303 667.1L301.8 667.8L302.1 666.4L301 665.4L302.4 665.3zM310.7 666L311.2 667.3L312.7 667.5L311.6 668.4L311.9 669.9L310.7 669.1L309.4 669.9L309.7 668.4L308.6 667.5L310.1 667.3zM318.3 667.8L318.9 669.2L320.3 669.3L319.2 670.3L319.6 671.7L318.3 671L317 671.7L317.4 670.3L316.3 669.3L317.7 669.2zM325.9 669.5L326.5 670.9L328 671L326.9 672L327.2 673.4L325.9 672.7L324.7 673.4L325 672L323.9 671L325.4 670.9zM333.6 671L334.2 672.4L335.6 672.5L334.5 673.5L334.9 674.9L333.6 674.1L332.3 674.9L332.7 673.5L331.5 672.5L333 672.4zM341.2 672.3L341.8 673.7L343.3 673.8L342.2 674.8L342.5 676.2L341.2 675.5L340 676.2L340.3 674.8L339.2 673.8L340.7 673.7zM348.9 673.4L349.4 674.7L350.9 674.8L349.8 675.8L350.1 677.2L348.9 676.5L347.6 677.2L348 675.8L346.8 674.8L348.3 674.7zM356.5 674L357.1 675.4L358.6 675.5L357.4 676.5L357.8 677.9L356.5 677.2L355.3 677.9L355.6 676.5L354.5 675.5L356 675.4zM364.2 674.6L364.7 676L366.2 676.1L365.1 677L365.4 678.5L364.2 677.7L362.9 678.5L363.2 677L362.1 676.1L363.6 676zM371.8 675.2L372.4 676.6L373.9 676.7L372.7 677.7L373.1 679.1L371.8 678.3L370.5 679.1L370.9 677.7L369.8 676.7L371.2 676.6zM379.5 675.9L380 677.3L381.5 677.4L380.4 678.4L380.7 679.8L379.5 679L378.2 679.8L378.5 678.4L377.4 677.4L378.9 677.3z" fill="#06069a"/>
<path d="M196 568.1L196.8 576.1L197.5 581.2L198.3 585.1L199.1 588.2L199.8 590.9L200.6 593.2L201.4 595.2L202.1 596.9L202.9 598.5L203.6 599.9L205.2 602.3L206.7 604.2L208.2 605.9L209.8 607.4L211.3 608.8L212.8 610.1L214.3 611.4L215.9 612.5L217.4 613.6L218.9 614.7L220.5 615.7L222 616.8L223.5 617.8L225 618.8L226.6 619.8L228.1 620.7L229.6 621.6L231.2 622.5L232.7 623.3L234.2 624.1L237.3 625.5L240.3 626.8L243.4 628L246.5 629.2L249.5 630.5L252.6 631.9L255.6 633.5L258.7 635L261.7 636.3L264.8 637.6L267.9 638.8L270.9 640.1L274 641.2L277 642.3L280.1 643.3L283.1 644.3L286.2 645.3L289.3 646.3L292.3 647.2L295.4 648.2L298.4 649.2L301.5 650.1L304.5 651L307.6 651.9L310.7 652.9L313.7 653.8L316.8 654.6L319.8 655.5L322.9 656.4L325.9 657.3L329 658.2L332.1 659.2L335.1 660.2L338.2 661.2L341.2 662.2L344.3 663.3L347.4 664.3L350.4 665.3L353.5 666.3L356.5 667.3L359.6 668.2L362.6 669.3L365.7 670.3L368.8 671.5L371.8 672.7L374.9 674L377.9 675.5L381 677.1L384 679.1L386.7 681.1" stroke="#ff1493" stroke-width="1.2" stroke-dasharray="4 1.7" fill="none"/>
<path d="M193.9 567.2L195.1 566L196 566.9L196.9 566L198.1 567.2L197.1 568.1L198.1 569L196.9 570.1L196 569.2L195.1 570.1L193.9 569L194.9 568.1zM201.6 599L202.7 597.9L203.6 598.8L204.5 597.9L205.7 599L204.8 599.9L205.7 600.8L204.5 602L203.6 601.1L202.7 602L201.6 600.8L202.5 599.9zM209.2 607.9L210.4 606.8L211.3 607.7L212.2 606.8L213.3 607.9L212.4 608.8L213.3 609.7L212.2 610.9L211.3 610L210.4 610.9L209.2 609.7L210.1 608.8zM216.9 613.8L218 612.6L218.9 613.5L219.8 612.6L221 613.8L220.1 614.7L221 615.6L219.8 616.7L218.9 615.8L218 616.7L216.9 615.6L217.8 614.7zM224.5 618.9L225.7 617.7L226.6 618.6L227.5 617.7L228.6 618.9L227.7 619.8L228.6 620.7L227.5 621.8L226.6 620.9L225.7 621.8L224.5 620.7L225.4 619.8zM232.2 623.2L233.3 622L234.2 622.9L235.1 622L236.3 623.2L235.4 624.1L236.3 625L235.1 626.1L234.2 625.2L233.3 626.1L232.2 625L233.1 624.1zM239.8 626.5L241 625.4L241.9 626.3L242.8 625.4L243.9 626.5L243 627.4L243.9 628.3L242.8 629.4L241.9 628.5L241 629.4L239.8 628.3L240.7 627.4zM247.5 629.6L248.6 628.4L249.5 629.3L250.4 628.4L251.6 629.6L250.7 630.5L251.6 631.4L250.4 632.5L249.5 631.6L248.6 632.5L247.5 631.4L248.4 630.5zM255.1 633.4L256.2 632.2L257.2 633.1L258.1 632.2L259.2 633.4L258.3 634.3L259.2 635.2L258.1 636.3L257.2 635.4L256.2 636.3L255.1 635.2L256 634.3zM262.7 636.7L263.9 635.5L264.8 636.4L265.7 635.5L266.8 636.7L265.9 637.6L266.8 638.5L265.7 639.6L264.8 638.7L263.9 639.6L262.7 638.5L263.6 637.6zM270.4 639.7L271.5 638.6L272.4 639.5L273.3 638.6L274.5 639.7L273.6 640.6L274.5 641.5L273.3 642.7L272.4 641.8L271.5 642.7L270.4 641.5L271.3 640.6zM278 642.4L279.2 641.3L280.1 642.2L281 641.3L282.1 642.4L281.2 643.3L282.1 644.2L281 645.4L280.1 644.5L279.2 645.4L278 644.2L278.9 643.3zM285.7 644.9L286.8 643.7L287.7 644.6L288.6 643.7L289.8 644.9L288.9 645.8L289.8 646.7L288.6 647.8L287.7 646.9L286.8 647.8L285.7 646.7L286.6 645.8zM293.3 647.3L294.5 646.2L295.4 647.1L296.3 646.2L297.4 647.3L296.5 648.2L297.4 649.1L296.3 650.3L295.4 649.4L294.5 650.3L293.3 649.1L294.2 648.2zM301 649.7L302.1 648.5L303 649.4L303.9 648.5L305.1 649.7L304.2 650.6L305.1 651.5L303.9 652.6L303 651.7L302.1 652.6L301 651.5L301.9 650.6zM308.6 652L309.8 650.8L310.7 651.7L311.6 650.8L312.7 652L311.8 652.9L312.7 653.8L311.6 654.9L310.7 654L309.8 654.9L308.6 653.8L309.5 652.9zM316.3 654.2L317.4 653L318.3 653.9L319.2 653L320.4 654.2L319.5 655.1L320.4 656L319.2 657.1L318.3 656.2L317.4 657.1L316.3 656L317.2 655.1zM323.9 656.4L325 655.2L325.9 656.1L326.8 655.2L328 656.4L327.1 657.3L328 658.2L326.8 659.3L325.9 658.4L325 659.3L323.9 658.2L324.8 657.3zM331.5 658.8L332.7 657.6L333.6 658.5L334.5 657.6L335.6 658.8L334.7 659.7L335.6 660.6L334.5 661.7L333.6 660.8L332.7 661.7L331.5 660.6L332.4 659.7zM339.2 661.3L340.3 660.2L341.2 661.1L342.1 660.2L343.3 661.3L342.4 662.2L343.3 663.1L342.1 664.3L341.2 663.4L340.3 664.3L339.2 663.1L340.1 662.2zM346.8 663.9L348 662.8L348.9 663.7L349.8 662.8L350.9 663.9L350 664.8L350.9 665.7L349.8 666.9L348.9 666L348 666.9L346.8 665.7L347.7 664.8zM354.5 666.4L355.6 665.2L356.5 666.1L357.4 665.2L358.6 666.4L357.7 667.3L358.6 668.2L357.4 669.3L356.5 668.4L355.6 669.3L354.5 668.2L355.4 667.3zM362.1 668.9L363.3 667.7L364.2 668.6L365.1 667.7L366.2 668.9L365.3 669.8L366.2 670.7L365.1 671.8L364.2 670.9L363.3 671.8L362.1 670.7L363 669.8zM369.8 671.8L370.9 670.6L371.8 671.5L372.7 670.6L373.9 671.8L373 672.7L373.9 673.6L372.7 674.7L371.8 673.8L370.9 674.7L369.8 673.6L370.7 672.7zM377.4 675.4L378.6 674.2L379.5 675.1L380.4 674.2L381.5 675.4L380.6 676.3L381.5 677.2L380.4 678.3L379.5 677.4L378.6 678.3L377.4 677.2L378.3 676.3z" fill="#ff1493"/>
</g>
<rect x="186.3" y="561.75" width="210.4" height="125.25" fill="none" stroke="#8f8f8f" stroke-width="1.15"/>
<text transform="translate(196 694.4) scale(.89 1)" font-size="6.2" text-anchor="middle" fill="#151515">0</text>
<text transform="translate(234.22 694.4) scale(.89 1)" font-size="6.2" text-anchor="middle" fill="#151515">100</text>
<text transform="translate(272.44 694.4) scale(.89 1)" font-size="6.2" text-anchor="middle" fill="#151515">200</text>
<text transform="translate(310.66 694.4) scale(.89 1)" font-size="6.2" text-anchor="middle" fill="#151515">300</text>
<text transform="translate(348.88 694.4) scale(.89 1)" font-size="6.2" text-anchor="middle" fill="#151515">400</text>
<text transform="translate(387.1 694.4) scale(.89 1)" font-size="6.2" text-anchor="middle" fill="#151515">500</text>
<text x="184.3" y="577.7" font-size="6" text-anchor="end" fill="#151515">10<tspan dy="-2.3" font-size="4">4</tspan></text>
<text x="184.8" y="593.1" font-size="3.7" text-anchor="end" fill="#1c1c1c">9 × 10<tspan dy="-1.3" font-size="2.6">3</tspan></text>
<text x="184.8" y="611.43" font-size="3.7" text-anchor="end" fill="#1c1c1c">8 × 10<tspan dy="-1.3" font-size="2.6">3</tspan></text>
<text x="184.8" y="632.22" font-size="3.7" text-anchor="end" fill="#1c1c1c">7 × 10<tspan dy="-1.3" font-size="2.6">3</tspan></text>
<text x="184.8" y="656.21" font-size="3.7" text-anchor="end" fill="#1c1c1c">6 × 10<tspan dy="-1.3" font-size="2.6">3</tspan></text>
<text x="184.8" y="684.59" font-size="3.7" text-anchor="end" fill="#1c1c1c">5 × 10<tspan dy="-1.3" font-size="2.6">3</tspan></text>
<text x="291.5" y="560.25" font-size="8.9" font-weight="bold" text-anchor="middle" fill="#111">C9</text>
<text transform="translate(291.5 702.9) scale(.93 1)" font-family='"Liberation Serif", "DejaVu Serif", serif' font-size="9.2" font-weight="bold" text-anchor="middle" fill="#111">Iterations</text>
<text transform="translate(168.3 624.38) rotate(-90)" font-family='"Liberation Serif", "DejaVu Serif", serif' font-size="8.6" font-weight="bold" text-anchor="middle" fill="#111">LogY--Fitness</text>
</g>
</svg>
</body></html>
